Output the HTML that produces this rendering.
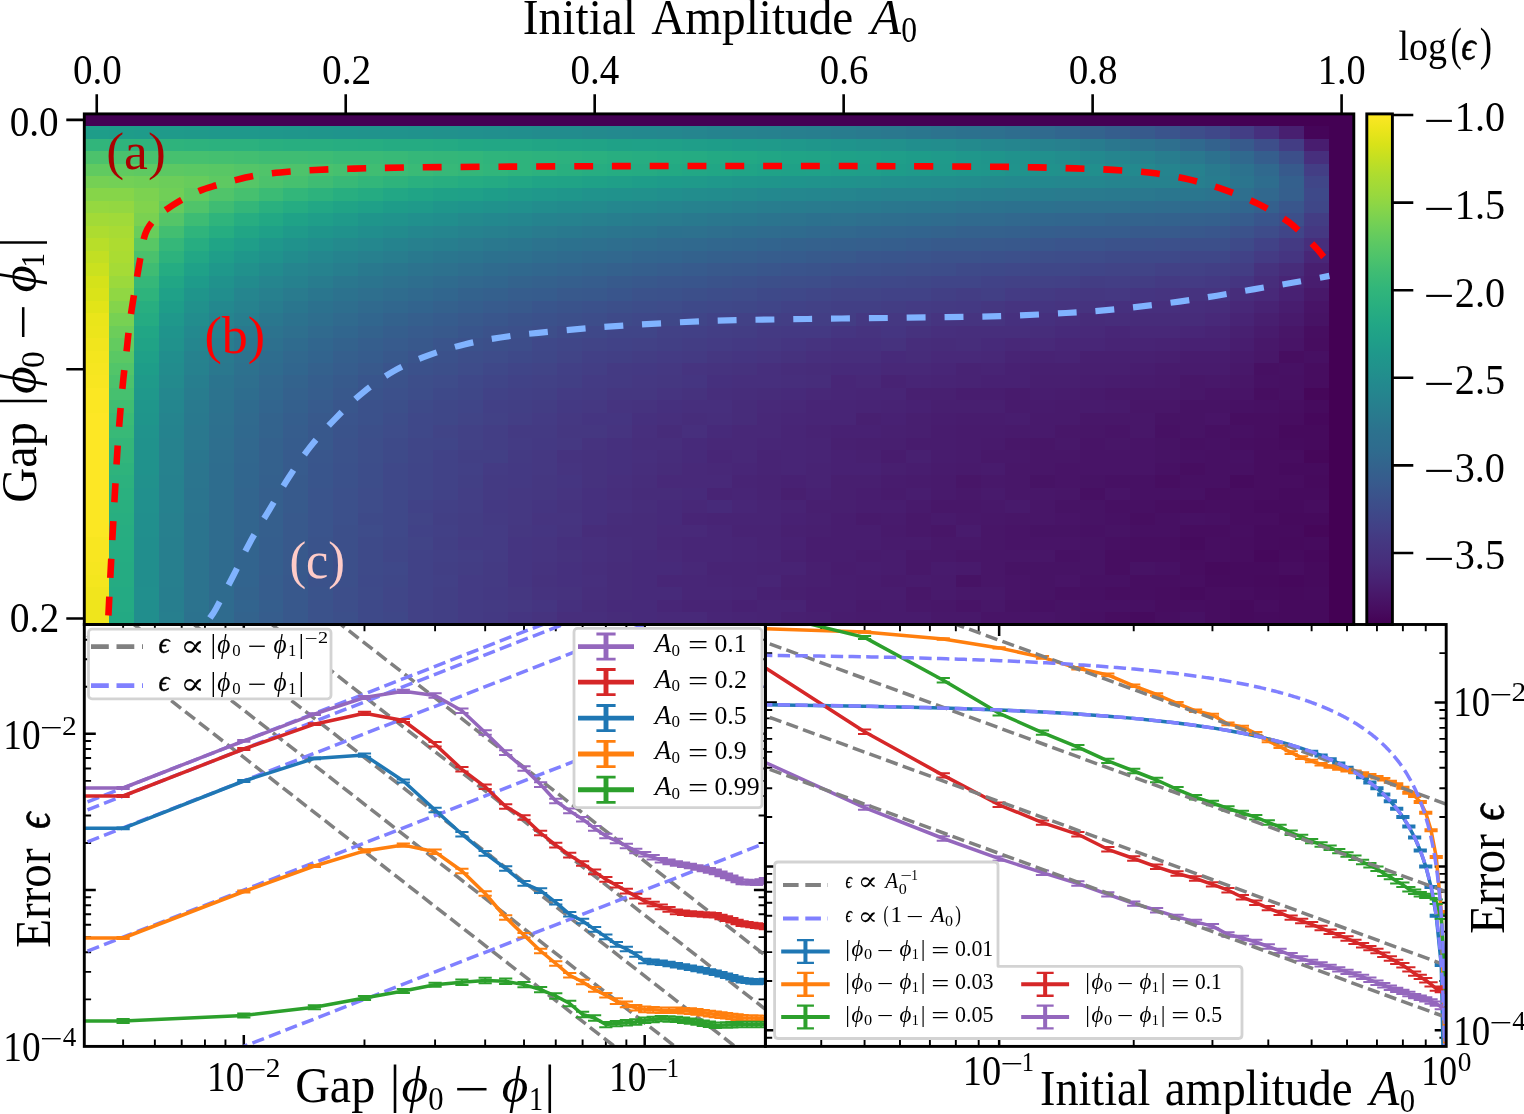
<!DOCTYPE html>
<html lang="en"><head><meta charset="utf-8"><title>Error heatmap figure</title>
<style>html,body{margin:0;padding:0;background:#fff}body{width:1524px;height:1114px;overflow:hidden}svg{display:block}text{font-family:"Liberation Serif","DejaVu Serif",serif;font-kerning:none;font-variant-ligatures:none;white-space:pre}.i{font-style:italic}</style></head><body>
<svg width="1524" height="1114" viewBox="0 0 1524 1114" role="img" aria-label="Error heat map with two log-log panels">
<rect width="1524" height="1114" fill="#fff"/>
<g shape-rendering="crispEdges">
<rect x="84.3" y="113.67" width="1270.35" height="13.07" fill="#440154"/>
<rect x="84.3" y="126.13" width="25.5" height="13.06" fill="#1e9d89"/>
<rect x="109.2" y="126.13" width="25.5" height="13.06" fill="#1e9c89"/>
<rect x="134.1" y="126.13" width="25.5" height="13.06" fill="#1e9b8a"/>
<rect x="158.99" y="126.13" width="25.5" height="13.06" fill="#1f9a8a"/>
<rect x="183.89" y="126.13" width="25.5" height="13.06" fill="#1f998a"/>
<rect x="208.79" y="126.13" width="50.39" height="13.06" fill="#1f988b"/>
<rect x="258.58" y="126.13" width="25.5" height="13.06" fill="#1f978b"/>
<rect x="283.48" y="126.13" width="25.5" height="13.06" fill="#1f968b"/>
<rect x="308.37" y="126.13" width="25.5" height="13.06" fill="#1f958b"/>
<rect x="333.27" y="126.13" width="25.5" height="13.06" fill="#1f948c"/>
<rect x="358.17" y="126.13" width="50.39" height="13.06" fill="#20938c"/>
<rect x="407.96" y="126.13" width="25.5" height="13.06" fill="#20928c"/>
<rect x="432.86" y="126.13" width="25.5" height="13.06" fill="#21918c"/>
<rect x="457.76" y="126.13" width="25.5" height="13.06" fill="#21908d"/>
<rect x="482.65" y="126.13" width="25.5" height="13.06" fill="#218f8d"/>
<rect x="507.55" y="126.13" width="25.5" height="13.06" fill="#218e8d"/>
<rect x="532.45" y="126.13" width="50.39" height="13.06" fill="#228c8d"/>
<rect x="582.24" y="126.13" width="25.5" height="13.06" fill="#238a8d"/>
<rect x="607.14" y="126.13" width="25.5" height="13.06" fill="#23898e"/>
<rect x="632.04" y="126.13" width="25.5" height="13.06" fill="#23888e"/>
<rect x="656.93" y="126.13" width="25.5" height="13.06" fill="#24878e"/>
<rect x="681.83" y="126.13" width="25.5" height="13.06" fill="#25858e"/>
<rect x="706.73" y="126.13" width="25.5" height="13.06" fill="#25838e"/>
<rect x="731.62" y="126.13" width="25.5" height="13.06" fill="#26828e"/>
<rect x="756.52" y="126.13" width="25.5" height="13.06" fill="#26818e"/>
<rect x="781.42" y="126.13" width="25.5" height="13.06" fill="#277f8e"/>
<rect x="806.31" y="126.13" width="25.5" height="13.06" fill="#277e8e"/>
<rect x="831.21" y="126.13" width="25.5" height="13.06" fill="#287c8e"/>
<rect x="856.11" y="126.13" width="25.5" height="13.06" fill="#297a8e"/>
<rect x="881.01" y="126.13" width="25.5" height="13.06" fill="#2a788e"/>
<rect x="905.9" y="126.13" width="25.5" height="13.06" fill="#2a768e"/>
<rect x="930.8" y="126.13" width="25.5" height="13.06" fill="#2c738e"/>
<rect x="955.7" y="126.13" width="25.5" height="13.06" fill="#2c718e"/>
<rect x="980.59" y="126.13" width="25.5" height="13.06" fill="#2d708e"/>
<rect x="1005.49" y="126.13" width="25.5" height="13.06" fill="#2e6d8e"/>
<rect x="1030.39" y="126.13" width="25.5" height="13.06" fill="#306a8e"/>
<rect x="1055.28" y="126.13" width="25.5" height="13.06" fill="#31668e"/>
<rect x="1080.18" y="126.13" width="25.5" height="13.06" fill="#33638d"/>
<rect x="1105.08" y="126.13" width="25.5" height="13.06" fill="#355e8d"/>
<rect x="1129.98" y="126.13" width="25.5" height="13.06" fill="#375a8c"/>
<rect x="1154.87" y="126.13" width="25.5" height="13.06" fill="#3a548c"/>
<rect x="1179.77" y="126.13" width="25.5" height="13.06" fill="#3d4e8a"/>
<rect x="1204.67" y="126.13" width="25.5" height="13.06" fill="#3f4889"/>
<rect x="1229.56" y="126.13" width="25.5" height="13.06" fill="#433e85"/>
<rect x="1254.46" y="126.13" width="25.5" height="13.06" fill="#46307e"/>
<rect x="1279.36" y="126.13" width="25.5" height="13.06" fill="#481f70"/>
<rect x="1304.25" y="126.13" width="25.5" height="13.06" fill="#450559"/>
<rect x="1329.15" y="126.13" width="25.5" height="13.06" fill="#440154"/>
<rect x="84.3" y="138.6" width="25.5" height="13.07" fill="#31b57b"/>
<rect x="109.2" y="138.6" width="50.39" height="13.07" fill="#2fb47c"/>
<rect x="158.99" y="138.6" width="25.5" height="13.07" fill="#2eb37c"/>
<rect x="183.89" y="138.6" width="25.5" height="13.07" fill="#2db27d"/>
<rect x="208.79" y="138.6" width="50.39" height="13.07" fill="#2cb17e"/>
<rect x="258.58" y="138.6" width="25.5" height="13.07" fill="#29af7f"/>
<rect x="283.48" y="138.6" width="50.39" height="13.07" fill="#28ae80"/>
<rect x="333.27" y="138.6" width="25.5" height="13.07" fill="#27ad81"/>
<rect x="358.17" y="138.6" width="25.5" height="13.07" fill="#26ad81"/>
<rect x="383.07" y="138.6" width="50.39" height="13.07" fill="#25ab82"/>
<rect x="432.86" y="138.6" width="25.5" height="13.07" fill="#24aa83"/>
<rect x="457.76" y="138.6" width="25.5" height="13.07" fill="#22a884"/>
<rect x="482.65" y="138.6" width="50.39" height="13.07" fill="#22a785"/>
<rect x="532.45" y="138.6" width="25.5" height="13.07" fill="#21a585"/>
<rect x="557.34" y="138.6" width="25.5" height="13.07" fill="#20a486"/>
<rect x="582.24" y="138.6" width="25.5" height="13.07" fill="#20a386"/>
<rect x="607.14" y="138.6" width="25.5" height="13.07" fill="#1fa187"/>
<rect x="632.04" y="138.6" width="25.5" height="13.07" fill="#1fa188"/>
<rect x="656.93" y="138.6" width="25.5" height="13.07" fill="#1fa088"/>
<rect x="681.83" y="138.6" width="25.5" height="13.07" fill="#1f9e89"/>
<rect x="706.73" y="138.6" width="25.5" height="13.07" fill="#1e9d89"/>
<rect x="731.62" y="138.6" width="25.5" height="13.07" fill="#1e9b8a"/>
<rect x="756.52" y="138.6" width="25.5" height="13.07" fill="#1f9a8a"/>
<rect x="781.42" y="138.6" width="25.5" height="13.07" fill="#1f988b"/>
<rect x="806.31" y="138.6" width="25.5" height="13.07" fill="#1f968b"/>
<rect x="831.21" y="138.6" width="25.5" height="13.07" fill="#1f948c"/>
<rect x="856.11" y="138.6" width="25.5" height="13.07" fill="#20928c"/>
<rect x="881.01" y="138.6" width="25.5" height="13.07" fill="#21918c"/>
<rect x="905.9" y="138.6" width="25.5" height="13.07" fill="#218e8d"/>
<rect x="930.8" y="138.6" width="25.5" height="13.07" fill="#228d8d"/>
<rect x="955.7" y="138.6" width="25.5" height="13.07" fill="#238a8d"/>
<rect x="980.59" y="138.6" width="25.5" height="13.07" fill="#24878e"/>
<rect x="1005.49" y="138.6" width="25.5" height="13.07" fill="#25858e"/>
<rect x="1030.39" y="138.6" width="25.5" height="13.07" fill="#26828e"/>
<rect x="1055.28" y="138.6" width="25.5" height="13.07" fill="#27808e"/>
<rect x="1080.18" y="138.6" width="25.5" height="13.07" fill="#287c8e"/>
<rect x="1105.08" y="138.6" width="25.5" height="13.07" fill="#2a778e"/>
<rect x="1129.98" y="138.6" width="25.5" height="13.07" fill="#2c738e"/>
<rect x="1154.87" y="138.6" width="25.5" height="13.07" fill="#2e6f8e"/>
<rect x="1179.77" y="138.6" width="25.5" height="13.07" fill="#30698e"/>
<rect x="1204.67" y="138.6" width="25.5" height="13.07" fill="#33628d"/>
<rect x="1229.56" y="138.6" width="25.5" height="13.07" fill="#375a8c"/>
<rect x="1254.46" y="138.6" width="25.5" height="13.07" fill="#3d4e8a"/>
<rect x="1279.36" y="138.6" width="25.5" height="13.07" fill="#433d84"/>
<rect x="1304.25" y="138.6" width="25.5" height="13.07" fill="#481d6f"/>
<rect x="1329.15" y="138.6" width="25.5" height="13.07" fill="#440154"/>
<rect x="84.3" y="151.06" width="25.5" height="13.07" fill="#4cc26c"/>
<rect x="109.2" y="151.06" width="25.5" height="13.07" fill="#4ac16d"/>
<rect x="134.1" y="151.06" width="25.5" height="13.07" fill="#48c16e"/>
<rect x="158.99" y="151.06" width="50.39" height="13.07" fill="#46c06f"/>
<rect x="208.79" y="151.06" width="25.5" height="13.07" fill="#44bf70"/>
<rect x="233.68" y="151.06" width="25.5" height="13.07" fill="#42be71"/>
<rect x="258.58" y="151.06" width="50.39" height="13.07" fill="#3fbc73"/>
<rect x="308.37" y="151.06" width="25.5" height="13.07" fill="#3dbc74"/>
<rect x="333.27" y="151.06" width="50.39" height="13.07" fill="#3aba76"/>
<rect x="383.07" y="151.06" width="25.5" height="13.07" fill="#38b977"/>
<rect x="407.96" y="151.06" width="25.5" height="13.07" fill="#35b779"/>
<rect x="432.86" y="151.06" width="25.5" height="13.07" fill="#34b679"/>
<rect x="457.76" y="151.06" width="25.5" height="13.07" fill="#32b67a"/>
<rect x="482.65" y="151.06" width="25.5" height="13.07" fill="#2fb47c"/>
<rect x="507.55" y="151.06" width="25.5" height="13.07" fill="#2eb37c"/>
<rect x="532.45" y="151.06" width="25.5" height="13.07" fill="#2db27d"/>
<rect x="557.34" y="151.06" width="25.5" height="13.07" fill="#2cb17e"/>
<rect x="582.24" y="151.06" width="25.5" height="13.07" fill="#2ab07f"/>
<rect x="607.14" y="151.06" width="25.5" height="13.07" fill="#28ae80"/>
<rect x="632.04" y="151.06" width="25.5" height="13.07" fill="#27ad81"/>
<rect x="656.93" y="151.06" width="25.5" height="13.07" fill="#25ac82"/>
<rect x="681.83" y="151.06" width="25.5" height="13.07" fill="#25ab82"/>
<rect x="706.73" y="151.06" width="25.5" height="13.07" fill="#23a983"/>
<rect x="731.62" y="151.06" width="25.5" height="13.07" fill="#22a884"/>
<rect x="756.52" y="151.06" width="25.5" height="13.07" fill="#21a685"/>
<rect x="781.42" y="151.06" width="25.5" height="13.07" fill="#20a486"/>
<rect x="806.31" y="151.06" width="25.5" height="13.07" fill="#20a386"/>
<rect x="831.21" y="151.06" width="25.5" height="13.07" fill="#1fa187"/>
<rect x="856.11" y="151.06" width="25.5" height="13.07" fill="#1fa088"/>
<rect x="881.01" y="151.06" width="25.5" height="13.07" fill="#1f9e89"/>
<rect x="905.9" y="151.06" width="25.5" height="13.07" fill="#1e9c89"/>
<rect x="930.8" y="151.06" width="25.5" height="13.07" fill="#1f9a8a"/>
<rect x="955.7" y="151.06" width="25.5" height="13.07" fill="#1f978b"/>
<rect x="980.59" y="151.06" width="25.5" height="13.07" fill="#1f958b"/>
<rect x="1005.49" y="151.06" width="25.5" height="13.07" fill="#20928c"/>
<rect x="1030.39" y="151.06" width="25.5" height="13.07" fill="#21908d"/>
<rect x="1055.28" y="151.06" width="25.5" height="13.07" fill="#228d8d"/>
<rect x="1080.18" y="151.06" width="25.5" height="13.07" fill="#23898e"/>
<rect x="1105.08" y="151.06" width="25.5" height="13.07" fill="#25858e"/>
<rect x="1129.98" y="151.06" width="25.5" height="13.07" fill="#26828e"/>
<rect x="1154.87" y="151.06" width="25.5" height="13.07" fill="#287d8e"/>
<rect x="1179.77" y="151.06" width="25.5" height="13.07" fill="#2a788e"/>
<rect x="1204.67" y="151.06" width="25.5" height="13.07" fill="#2c718e"/>
<rect x="1229.56" y="151.06" width="25.5" height="13.07" fill="#30698e"/>
<rect x="1254.46" y="151.06" width="25.5" height="13.07" fill="#355e8d"/>
<rect x="1279.36" y="151.06" width="25.5" height="13.07" fill="#3c4f8a"/>
<rect x="1304.25" y="151.06" width="25.5" height="13.07" fill="#472f7d"/>
<rect x="1329.15" y="151.06" width="25.5" height="13.07" fill="#440154"/>
<rect x="84.3" y="163.53" width="50.39" height="13.07" fill="#60ca60"/>
<rect x="134.1" y="163.53" width="25.5" height="13.07" fill="#5ec962"/>
<rect x="158.99" y="163.53" width="25.5" height="13.07" fill="#5cc863"/>
<rect x="183.89" y="163.53" width="25.5" height="13.07" fill="#5ac864"/>
<rect x="208.79" y="163.53" width="25.5" height="13.07" fill="#58c765"/>
<rect x="233.68" y="163.53" width="25.5" height="13.07" fill="#54c568"/>
<rect x="258.58" y="163.53" width="25.5" height="13.07" fill="#50c46a"/>
<rect x="283.48" y="163.53" width="25.5" height="13.07" fill="#4ec36b"/>
<rect x="308.37" y="163.53" width="25.5" height="13.07" fill="#4ac16d"/>
<rect x="333.27" y="163.53" width="25.5" height="13.07" fill="#46c06f"/>
<rect x="358.17" y="163.53" width="25.5" height="13.07" fill="#40bd72"/>
<rect x="383.07" y="163.53" width="25.5" height="13.07" fill="#3dbc74"/>
<rect x="407.96" y="163.53" width="25.5" height="13.07" fill="#3aba76"/>
<rect x="432.86" y="163.53" width="25.5" height="13.07" fill="#37b878"/>
<rect x="457.76" y="163.53" width="25.5" height="13.07" fill="#34b679"/>
<rect x="482.65" y="163.53" width="25.5" height="13.07" fill="#31b57b"/>
<rect x="507.55" y="163.53" width="25.5" height="13.07" fill="#2eb37c"/>
<rect x="532.45" y="163.53" width="25.5" height="13.07" fill="#2cb17e"/>
<rect x="557.34" y="163.53" width="25.5" height="13.07" fill="#29af7f"/>
<rect x="582.24" y="163.53" width="25.5" height="13.07" fill="#27ad81"/>
<rect x="607.14" y="163.53" width="25.5" height="13.07" fill="#25ac82"/>
<rect x="632.04" y="163.53" width="25.5" height="13.07" fill="#25ab82"/>
<rect x="656.93" y="163.53" width="25.5" height="13.07" fill="#23a983"/>
<rect x="681.83" y="163.53" width="25.5" height="13.07" fill="#22a785"/>
<rect x="706.73" y="163.53" width="25.5" height="13.07" fill="#21a685"/>
<rect x="731.62" y="163.53" width="25.5" height="13.07" fill="#20a486"/>
<rect x="756.52" y="163.53" width="25.5" height="13.07" fill="#1fa287"/>
<rect x="781.42" y="163.53" width="25.5" height="13.07" fill="#1fa187"/>
<rect x="806.31" y="163.53" width="25.5" height="13.07" fill="#1fa188"/>
<rect x="831.21" y="163.53" width="25.5" height="13.07" fill="#1f9f88"/>
<rect x="856.11" y="163.53" width="25.5" height="13.07" fill="#1f9e89"/>
<rect x="881.01" y="163.53" width="25.5" height="13.07" fill="#1e9c89"/>
<rect x="905.9" y="163.53" width="25.5" height="13.07" fill="#1f9a8a"/>
<rect x="930.8" y="163.53" width="25.5" height="13.07" fill="#1f998a"/>
<rect x="955.7" y="163.53" width="25.5" height="13.07" fill="#1f978b"/>
<rect x="980.59" y="163.53" width="25.5" height="13.07" fill="#1f968b"/>
<rect x="1005.49" y="163.53" width="25.5" height="13.07" fill="#20938c"/>
<rect x="1030.39" y="163.53" width="25.5" height="13.07" fill="#20928c"/>
<rect x="1055.28" y="163.53" width="25.5" height="13.07" fill="#21918c"/>
<rect x="1080.18" y="163.53" width="25.5" height="13.07" fill="#218f8d"/>
<rect x="1105.08" y="163.53" width="25.5" height="13.07" fill="#228b8d"/>
<rect x="1129.98" y="163.53" width="25.5" height="13.07" fill="#23898e"/>
<rect x="1154.87" y="163.53" width="25.5" height="13.07" fill="#25848e"/>
<rect x="1179.77" y="163.53" width="25.5" height="13.07" fill="#26818e"/>
<rect x="1204.67" y="163.53" width="25.5" height="13.07" fill="#297a8e"/>
<rect x="1229.56" y="163.53" width="25.5" height="13.07" fill="#2c728e"/>
<rect x="1254.46" y="163.53" width="25.5" height="13.07" fill="#30698e"/>
<rect x="1279.36" y="163.53" width="25.5" height="13.07" fill="#375a8c"/>
<rect x="1304.25" y="163.53" width="25.5" height="13.07" fill="#433e85"/>
<rect x="1329.15" y="163.53" width="25.5" height="13.07" fill="#440154"/>
<rect x="84.3" y="175.99" width="25.5" height="13.07" fill="#75d054"/>
<rect x="109.2" y="175.99" width="25.5" height="13.07" fill="#73d056"/>
<rect x="134.1" y="175.99" width="25.5" height="13.07" fill="#70cf57"/>
<rect x="158.99" y="175.99" width="25.5" height="13.07" fill="#6ccd5a"/>
<rect x="183.89" y="175.99" width="25.5" height="13.07" fill="#67cc5c"/>
<rect x="208.79" y="175.99" width="25.5" height="13.07" fill="#5ec962"/>
<rect x="233.68" y="175.99" width="25.5" height="13.07" fill="#56c667"/>
<rect x="258.58" y="175.99" width="25.5" height="13.07" fill="#4cc26c"/>
<rect x="283.48" y="175.99" width="25.5" height="13.07" fill="#46c06f"/>
<rect x="308.37" y="175.99" width="25.5" height="13.07" fill="#3fbc73"/>
<rect x="333.27" y="175.99" width="25.5" height="13.07" fill="#38b977"/>
<rect x="358.17" y="175.99" width="25.5" height="13.07" fill="#32b67a"/>
<rect x="383.07" y="175.99" width="25.5" height="13.07" fill="#2eb37c"/>
<rect x="407.96" y="175.99" width="25.5" height="13.07" fill="#2ab07f"/>
<rect x="432.86" y="175.99" width="25.5" height="13.07" fill="#28ae80"/>
<rect x="457.76" y="175.99" width="25.5" height="13.07" fill="#25ac82"/>
<rect x="482.65" y="175.99" width="25.5" height="13.07" fill="#24aa83"/>
<rect x="507.55" y="175.99" width="25.5" height="13.07" fill="#22a785"/>
<rect x="532.45" y="175.99" width="25.5" height="13.07" fill="#20a486"/>
<rect x="557.34" y="175.99" width="25.5" height="13.07" fill="#20a386"/>
<rect x="582.24" y="175.99" width="25.5" height="13.07" fill="#1fa187"/>
<rect x="607.14" y="175.99" width="25.5" height="13.07" fill="#1f9f88"/>
<rect x="632.04" y="175.99" width="25.5" height="13.07" fill="#1e9d89"/>
<rect x="656.93" y="175.99" width="25.5" height="13.07" fill="#1e9b8a"/>
<rect x="681.83" y="175.99" width="25.5" height="13.07" fill="#1f9a8a"/>
<rect x="706.73" y="175.99" width="25.5" height="13.07" fill="#1f988b"/>
<rect x="731.62" y="175.99" width="25.5" height="13.07" fill="#1f968b"/>
<rect x="756.52" y="175.99" width="25.5" height="13.07" fill="#1f958b"/>
<rect x="781.42" y="175.99" width="25.5" height="13.07" fill="#1f948c"/>
<rect x="806.31" y="175.99" width="25.5" height="13.07" fill="#20938c"/>
<rect x="831.21" y="175.99" width="25.5" height="13.07" fill="#20928c"/>
<rect x="856.11" y="175.99" width="25.5" height="13.07" fill="#21918c"/>
<rect x="881.01" y="175.99" width="25.5" height="13.07" fill="#218f8d"/>
<rect x="905.9" y="175.99" width="25.5" height="13.07" fill="#218e8d"/>
<rect x="930.8" y="175.99" width="25.5" height="13.07" fill="#228d8d"/>
<rect x="955.7" y="175.99" width="25.5" height="13.07" fill="#228c8d"/>
<rect x="980.59" y="175.99" width="25.5" height="13.07" fill="#238a8d"/>
<rect x="1005.49" y="175.99" width="25.5" height="13.07" fill="#23898e"/>
<rect x="1030.39" y="175.99" width="25.5" height="13.07" fill="#23888e"/>
<rect x="1055.28" y="175.99" width="25.5" height="13.07" fill="#24878e"/>
<rect x="1080.18" y="175.99" width="25.5" height="13.07" fill="#24868e"/>
<rect x="1105.08" y="175.99" width="25.5" height="13.07" fill="#25848e"/>
<rect x="1129.98" y="175.99" width="50.39" height="13.07" fill="#26828e"/>
<rect x="1179.77" y="175.99" width="25.5" height="13.07" fill="#277f8e"/>
<rect x="1204.67" y="175.99" width="25.5" height="13.07" fill="#287c8e"/>
<rect x="1229.56" y="175.99" width="25.5" height="13.07" fill="#2b758e"/>
<rect x="1254.46" y="175.99" width="25.5" height="13.07" fill="#2e6d8e"/>
<rect x="1279.36" y="175.99" width="25.5" height="13.07" fill="#34608d"/>
<rect x="1304.25" y="175.99" width="25.5" height="13.07" fill="#404688"/>
<rect x="1329.15" y="175.99" width="25.5" height="13.07" fill="#440154"/>
<rect x="84.3" y="188.46" width="50.39" height="13.07" fill="#86d549"/>
<rect x="134.1" y="188.46" width="25.5" height="13.07" fill="#7cd250"/>
<rect x="158.99" y="188.46" width="25.5" height="13.07" fill="#70cf57"/>
<rect x="183.89" y="188.46" width="25.5" height="13.07" fill="#60ca60"/>
<rect x="208.79" y="188.46" width="25.5" height="13.07" fill="#50c46a"/>
<rect x="233.68" y="188.46" width="25.5" height="13.07" fill="#46c06f"/>
<rect x="258.58" y="188.46" width="25.5" height="13.07" fill="#3bbb75"/>
<rect x="283.48" y="188.46" width="25.5" height="13.07" fill="#32b67a"/>
<rect x="308.37" y="188.46" width="25.5" height="13.07" fill="#2db27d"/>
<rect x="333.27" y="188.46" width="25.5" height="13.07" fill="#28ae80"/>
<rect x="358.17" y="188.46" width="25.5" height="13.07" fill="#25ab82"/>
<rect x="383.07" y="188.46" width="25.5" height="13.07" fill="#22a785"/>
<rect x="407.96" y="188.46" width="25.5" height="13.07" fill="#20a486"/>
<rect x="432.86" y="188.46" width="25.5" height="13.07" fill="#1fa187"/>
<rect x="457.76" y="188.46" width="25.5" height="13.07" fill="#1fa088"/>
<rect x="482.65" y="188.46" width="25.5" height="13.07" fill="#1e9d89"/>
<rect x="507.55" y="188.46" width="25.5" height="13.07" fill="#1f9a8a"/>
<rect x="532.45" y="188.46" width="25.5" height="13.07" fill="#1f988b"/>
<rect x="557.34" y="188.46" width="25.5" height="13.07" fill="#1f968b"/>
<rect x="582.24" y="188.46" width="25.5" height="13.07" fill="#20938c"/>
<rect x="607.14" y="188.46" width="25.5" height="13.07" fill="#20928c"/>
<rect x="632.04" y="188.46" width="25.5" height="13.07" fill="#21918c"/>
<rect x="656.93" y="188.46" width="25.5" height="13.07" fill="#218f8d"/>
<rect x="681.83" y="188.46" width="25.5" height="13.07" fill="#228d8d"/>
<rect x="706.73" y="188.46" width="25.5" height="13.07" fill="#228c8d"/>
<rect x="731.62" y="188.46" width="25.5" height="13.07" fill="#238a8d"/>
<rect x="756.52" y="188.46" width="25.5" height="13.07" fill="#23888e"/>
<rect x="781.42" y="188.46" width="25.5" height="13.07" fill="#24878e"/>
<rect x="806.31" y="188.46" width="25.5" height="13.07" fill="#24868e"/>
<rect x="831.21" y="188.46" width="25.5" height="13.07" fill="#25858e"/>
<rect x="856.11" y="188.46" width="25.5" height="13.07" fill="#25838e"/>
<rect x="881.01" y="188.46" width="50.39" height="13.07" fill="#26828e"/>
<rect x="930.8" y="188.46" width="25.5" height="13.07" fill="#26818e"/>
<rect x="955.7" y="188.46" width="25.5" height="13.07" fill="#277f8e"/>
<rect x="980.59" y="188.46" width="25.5" height="13.07" fill="#277e8e"/>
<rect x="1005.49" y="188.46" width="25.5" height="13.07" fill="#287d8e"/>
<rect x="1030.39" y="188.46" width="25.5" height="13.07" fill="#287c8e"/>
<rect x="1055.28" y="188.46" width="25.5" height="13.07" fill="#297b8e"/>
<rect x="1080.18" y="188.46" width="25.5" height="13.07" fill="#297a8e"/>
<rect x="1105.08" y="188.46" width="25.5" height="13.07" fill="#29798e"/>
<rect x="1129.98" y="188.46" width="25.5" height="13.07" fill="#2a788e"/>
<rect x="1154.87" y="188.46" width="50.39" height="13.07" fill="#2a768e"/>
<rect x="1204.67" y="188.46" width="25.5" height="13.07" fill="#2b748e"/>
<rect x="1229.56" y="188.46" width="25.5" height="13.07" fill="#2e6f8e"/>
<rect x="1254.46" y="188.46" width="25.5" height="13.07" fill="#31688e"/>
<rect x="1279.36" y="188.46" width="25.5" height="13.07" fill="#355f8d"/>
<rect x="1304.25" y="188.46" width="25.5" height="13.07" fill="#3e4989"/>
<rect x="1329.15" y="188.46" width="25.5" height="13.07" fill="#440154"/>
<rect x="84.3" y="200.92" width="25.5" height="13.07" fill="#95d840"/>
<rect x="109.2" y="200.92" width="25.5" height="13.07" fill="#93d741"/>
<rect x="134.1" y="200.92" width="25.5" height="13.07" fill="#81d34d"/>
<rect x="158.99" y="200.92" width="25.5" height="13.07" fill="#65cb5e"/>
<rect x="183.89" y="200.92" width="25.5" height="13.07" fill="#50c46a"/>
<rect x="208.79" y="200.92" width="25.5" height="13.07" fill="#3fbc73"/>
<rect x="233.68" y="200.92" width="25.5" height="13.07" fill="#34b679"/>
<rect x="258.58" y="200.92" width="25.5" height="13.07" fill="#2ab07f"/>
<rect x="283.48" y="200.92" width="25.5" height="13.07" fill="#25ac82"/>
<rect x="308.37" y="200.92" width="25.5" height="13.07" fill="#22a785"/>
<rect x="333.27" y="200.92" width="25.5" height="13.07" fill="#20a386"/>
<rect x="358.17" y="200.92" width="25.5" height="13.07" fill="#1fa088"/>
<rect x="383.07" y="200.92" width="25.5" height="13.07" fill="#1e9c89"/>
<rect x="407.96" y="200.92" width="25.5" height="13.07" fill="#1f9a8a"/>
<rect x="432.86" y="200.92" width="25.5" height="13.07" fill="#1f968b"/>
<rect x="457.76" y="200.92" width="25.5" height="13.07" fill="#1f948c"/>
<rect x="482.65" y="200.92" width="25.5" height="13.07" fill="#20928c"/>
<rect x="507.55" y="200.92" width="25.5" height="13.07" fill="#21908d"/>
<rect x="532.45" y="200.92" width="25.5" height="13.07" fill="#228d8d"/>
<rect x="557.34" y="200.92" width="25.5" height="13.07" fill="#228b8d"/>
<rect x="582.24" y="200.92" width="25.5" height="13.07" fill="#238a8d"/>
<rect x="607.14" y="200.92" width="25.5" height="13.07" fill="#24878e"/>
<rect x="632.04" y="200.92" width="25.5" height="13.07" fill="#24868e"/>
<rect x="656.93" y="200.92" width="25.5" height="13.07" fill="#25848e"/>
<rect x="681.83" y="200.92" width="25.5" height="13.07" fill="#26828e"/>
<rect x="706.73" y="200.92" width="25.5" height="13.07" fill="#26818e"/>
<rect x="731.62" y="200.92" width="25.5" height="13.07" fill="#277f8e"/>
<rect x="756.52" y="200.92" width="25.5" height="13.07" fill="#287d8e"/>
<rect x="781.42" y="200.92" width="25.5" height="13.07" fill="#287c8e"/>
<rect x="806.31" y="200.92" width="25.5" height="13.07" fill="#297b8e"/>
<rect x="831.21" y="200.92" width="25.5" height="13.07" fill="#297a8e"/>
<rect x="856.11" y="200.92" width="25.5" height="13.07" fill="#29798e"/>
<rect x="881.01" y="200.92" width="25.5" height="13.07" fill="#2a778e"/>
<rect x="905.9" y="200.92" width="25.5" height="13.07" fill="#2a768e"/>
<rect x="930.8" y="200.92" width="25.5" height="13.07" fill="#2b758e"/>
<rect x="955.7" y="200.92" width="25.5" height="13.07" fill="#2c738e"/>
<rect x="980.59" y="200.92" width="25.5" height="13.07" fill="#2c728e"/>
<rect x="1005.49" y="200.92" width="50.39" height="13.07" fill="#2c718e"/>
<rect x="1055.28" y="200.92" width="25.5" height="13.07" fill="#2d708e"/>
<rect x="1080.18" y="200.92" width="50.39" height="13.07" fill="#2e6f8e"/>
<rect x="1129.98" y="200.92" width="25.5" height="13.07" fill="#2e6d8e"/>
<rect x="1154.87" y="200.92" width="25.5" height="13.07" fill="#2f6c8e"/>
<rect x="1179.77" y="200.92" width="25.5" height="13.07" fill="#2f6b8e"/>
<rect x="1204.67" y="200.92" width="25.5" height="13.07" fill="#306a8e"/>
<rect x="1229.56" y="200.92" width="25.5" height="13.07" fill="#31668e"/>
<rect x="1254.46" y="200.92" width="25.5" height="13.07" fill="#34608d"/>
<rect x="1279.36" y="200.92" width="25.5" height="13.07" fill="#39568c"/>
<rect x="1304.25" y="200.92" width="25.5" height="13.07" fill="#3f4788"/>
<rect x="1329.15" y="200.92" width="25.5" height="13.07" fill="#440154"/>
<rect x="84.3" y="213.39" width="25.5" height="13.07" fill="#a2da37"/>
<rect x="109.2" y="213.39" width="25.5" height="13.07" fill="#a0da39"/>
<rect x="134.1" y="213.39" width="25.5" height="13.07" fill="#7ad151"/>
<rect x="158.99" y="213.39" width="25.5" height="13.07" fill="#54c568"/>
<rect x="183.89" y="213.39" width="25.5" height="13.07" fill="#3dbc74"/>
<rect x="208.79" y="213.39" width="25.5" height="13.07" fill="#2fb47c"/>
<rect x="233.68" y="213.39" width="25.5" height="13.07" fill="#27ad81"/>
<rect x="258.58" y="213.39" width="25.5" height="13.07" fill="#22a884"/>
<rect x="283.48" y="213.39" width="25.5" height="13.07" fill="#1fa287"/>
<rect x="308.37" y="213.39" width="25.5" height="13.07" fill="#1f9e89"/>
<rect x="333.27" y="213.39" width="25.5" height="13.07" fill="#1f9a8a"/>
<rect x="358.17" y="213.39" width="25.5" height="13.07" fill="#1f958b"/>
<rect x="383.07" y="213.39" width="25.5" height="13.07" fill="#20938c"/>
<rect x="407.96" y="213.39" width="25.5" height="13.07" fill="#21908d"/>
<rect x="432.86" y="213.39" width="25.5" height="13.07" fill="#218e8d"/>
<rect x="457.76" y="213.39" width="25.5" height="13.07" fill="#238a8d"/>
<rect x="482.65" y="213.39" width="25.5" height="13.07" fill="#23888e"/>
<rect x="507.55" y="213.39" width="25.5" height="13.07" fill="#24868e"/>
<rect x="532.45" y="213.39" width="25.5" height="13.07" fill="#25838e"/>
<rect x="557.34" y="213.39" width="25.5" height="13.07" fill="#26828e"/>
<rect x="582.24" y="213.39" width="25.5" height="13.07" fill="#27808e"/>
<rect x="607.14" y="213.39" width="25.5" height="13.07" fill="#277e8e"/>
<rect x="632.04" y="213.39" width="25.5" height="13.07" fill="#287c8e"/>
<rect x="656.93" y="213.39" width="25.5" height="13.07" fill="#297b8e"/>
<rect x="681.83" y="213.39" width="25.5" height="13.07" fill="#29798e"/>
<rect x="706.73" y="213.39" width="25.5" height="13.07" fill="#2a778e"/>
<rect x="731.62" y="213.39" width="25.5" height="13.07" fill="#2a768e"/>
<rect x="756.52" y="213.39" width="25.5" height="13.07" fill="#2b748e"/>
<rect x="781.42" y="213.39" width="25.5" height="13.07" fill="#2c738e"/>
<rect x="806.31" y="213.39" width="25.5" height="13.07" fill="#2c718e"/>
<rect x="831.21" y="213.39" width="25.5" height="13.07" fill="#2d718e"/>
<rect x="856.11" y="213.39" width="25.5" height="13.07" fill="#2e6f8e"/>
<rect x="881.01" y="213.39" width="25.5" height="13.07" fill="#2e6e8e"/>
<rect x="905.9" y="213.39" width="25.5" height="13.07" fill="#2e6d8e"/>
<rect x="930.8" y="213.39" width="25.5" height="13.07" fill="#2f6c8e"/>
<rect x="955.7" y="213.39" width="50.39" height="13.07" fill="#306a8e"/>
<rect x="1005.49" y="213.39" width="25.5" height="13.07" fill="#31688e"/>
<rect x="1030.39" y="213.39" width="25.5" height="13.07" fill="#31678e"/>
<rect x="1055.28" y="213.39" width="25.5" height="13.07" fill="#31668e"/>
<rect x="1080.18" y="213.39" width="25.5" height="13.07" fill="#32658e"/>
<rect x="1105.08" y="213.39" width="50.39" height="13.07" fill="#33638d"/>
<rect x="1154.87" y="213.39" width="25.5" height="13.07" fill="#33628d"/>
<rect x="1179.77" y="213.39" width="25.5" height="13.07" fill="#34618d"/>
<rect x="1204.67" y="213.39" width="25.5" height="13.07" fill="#34608d"/>
<rect x="1229.56" y="213.39" width="25.5" height="13.07" fill="#365c8d"/>
<rect x="1254.46" y="213.39" width="25.5" height="13.07" fill="#39558c"/>
<rect x="1279.36" y="213.39" width="25.5" height="13.07" fill="#3c4f8a"/>
<rect x="1304.25" y="213.39" width="25.5" height="13.07" fill="#433d84"/>
<rect x="1329.15" y="213.39" width="25.5" height="13.07" fill="#440154"/>
<rect x="84.3" y="225.85" width="25.5" height="13.07" fill="#addc30"/>
<rect x="109.2" y="225.85" width="25.5" height="13.07" fill="#a8db34"/>
<rect x="134.1" y="225.85" width="25.5" height="13.07" fill="#69cd5b"/>
<rect x="158.99" y="225.85" width="25.5" height="13.07" fill="#42be71"/>
<rect x="183.89" y="225.85" width="25.5" height="13.07" fill="#2fb47c"/>
<rect x="208.79" y="225.85" width="25.5" height="13.07" fill="#26ad81"/>
<rect x="233.68" y="225.85" width="25.5" height="13.07" fill="#21a585"/>
<rect x="258.58" y="225.85" width="25.5" height="13.07" fill="#1fa088"/>
<rect x="283.48" y="225.85" width="25.5" height="13.07" fill="#1f9a8a"/>
<rect x="308.37" y="225.85" width="25.5" height="13.07" fill="#1f958b"/>
<rect x="333.27" y="225.85" width="25.5" height="13.07" fill="#20928c"/>
<rect x="358.17" y="225.85" width="25.5" height="13.07" fill="#218e8d"/>
<rect x="383.07" y="225.85" width="25.5" height="13.07" fill="#228b8d"/>
<rect x="407.96" y="225.85" width="25.5" height="13.07" fill="#24878e"/>
<rect x="432.86" y="225.85" width="25.5" height="13.07" fill="#25858e"/>
<rect x="457.76" y="225.85" width="25.5" height="13.07" fill="#26828e"/>
<rect x="482.65" y="225.85" width="25.5" height="13.07" fill="#27808e"/>
<rect x="507.55" y="225.85" width="25.5" height="13.07" fill="#277e8e"/>
<rect x="532.45" y="225.85" width="25.5" height="13.07" fill="#297b8e"/>
<rect x="557.34" y="225.85" width="25.5" height="13.07" fill="#29798e"/>
<rect x="582.24" y="225.85" width="25.5" height="13.07" fill="#2a778e"/>
<rect x="607.14" y="225.85" width="25.5" height="13.07" fill="#2b758e"/>
<rect x="632.04" y="225.85" width="25.5" height="13.07" fill="#2b748e"/>
<rect x="656.93" y="225.85" width="25.5" height="13.07" fill="#2c718e"/>
<rect x="681.83" y="225.85" width="25.5" height="13.07" fill="#2d718e"/>
<rect x="706.73" y="225.85" width="25.5" height="13.07" fill="#2e6f8e"/>
<rect x="731.62" y="225.85" width="25.5" height="13.07" fill="#2e6d8e"/>
<rect x="756.52" y="225.85" width="25.5" height="13.07" fill="#2f6c8e"/>
<rect x="781.42" y="225.85" width="25.5" height="13.07" fill="#2f6b8e"/>
<rect x="806.31" y="225.85" width="25.5" height="13.07" fill="#30698e"/>
<rect x="831.21" y="225.85" width="25.5" height="13.07" fill="#31688e"/>
<rect x="856.11" y="225.85" width="25.5" height="13.07" fill="#31668e"/>
<rect x="881.01" y="225.85" width="25.5" height="13.07" fill="#32658e"/>
<rect x="905.9" y="225.85" width="25.5" height="13.07" fill="#32648e"/>
<rect x="930.8" y="225.85" width="25.5" height="13.07" fill="#33638d"/>
<rect x="955.7" y="225.85" width="50.39" height="13.07" fill="#34618d"/>
<rect x="1005.49" y="225.85" width="25.5" height="13.07" fill="#34608d"/>
<rect x="1030.39" y="225.85" width="25.5" height="13.07" fill="#355e8d"/>
<rect x="1055.28" y="225.85" width="25.5" height="13.07" fill="#365d8d"/>
<rect x="1080.18" y="225.85" width="50.39" height="13.07" fill="#365c8d"/>
<rect x="1129.98" y="225.85" width="50.39" height="13.07" fill="#375a8c"/>
<rect x="1179.77" y="225.85" width="25.5" height="13.07" fill="#38588c"/>
<rect x="1204.67" y="225.85" width="25.5" height="13.07" fill="#39568c"/>
<rect x="1229.56" y="225.85" width="25.5" height="13.07" fill="#3b528b"/>
<rect x="1254.46" y="225.85" width="25.5" height="13.07" fill="#3e4c8a"/>
<rect x="1279.36" y="225.85" width="25.5" height="13.07" fill="#404588"/>
<rect x="1304.25" y="225.85" width="25.5" height="13.07" fill="#453882"/>
<rect x="1329.15" y="225.85" width="25.5" height="13.07" fill="#440154"/>
<rect x="84.3" y="238.32" width="25.5" height="13.07" fill="#b8de29"/>
<rect x="109.2" y="238.32" width="25.5" height="13.07" fill="#addc30"/>
<rect x="134.1" y="238.32" width="25.5" height="13.07" fill="#58c765"/>
<rect x="158.99" y="238.32" width="25.5" height="13.07" fill="#35b779"/>
<rect x="183.89" y="238.32" width="25.5" height="13.07" fill="#27ad81"/>
<rect x="208.79" y="238.32" width="25.5" height="13.07" fill="#20a486"/>
<rect x="233.68" y="238.32" width="25.5" height="13.07" fill="#1f9e89"/>
<rect x="258.58" y="238.32" width="25.5" height="13.07" fill="#1f978b"/>
<rect x="283.48" y="238.32" width="25.5" height="13.07" fill="#20928c"/>
<rect x="308.37" y="238.32" width="25.5" height="13.07" fill="#218e8d"/>
<rect x="333.27" y="238.32" width="25.5" height="13.07" fill="#238a8d"/>
<rect x="358.17" y="238.32" width="25.5" height="13.07" fill="#24878e"/>
<rect x="383.07" y="238.32" width="25.5" height="13.07" fill="#25838e"/>
<rect x="407.96" y="238.32" width="25.5" height="13.07" fill="#27808e"/>
<rect x="432.86" y="238.32" width="25.5" height="13.07" fill="#277e8e"/>
<rect x="457.76" y="238.32" width="25.5" height="13.07" fill="#297b8e"/>
<rect x="482.65" y="238.32" width="25.5" height="13.07" fill="#2a788e"/>
<rect x="507.55" y="238.32" width="25.5" height="13.07" fill="#2a768e"/>
<rect x="532.45" y="238.32" width="25.5" height="13.07" fill="#2c738e"/>
<rect x="557.34" y="238.32" width="25.5" height="13.07" fill="#2c718e"/>
<rect x="582.24" y="238.32" width="25.5" height="13.07" fill="#2d708e"/>
<rect x="607.14" y="238.32" width="25.5" height="13.07" fill="#2e6e8e"/>
<rect x="632.04" y="238.32" width="25.5" height="13.07" fill="#2f6c8e"/>
<rect x="656.93" y="238.32" width="25.5" height="13.07" fill="#306a8e"/>
<rect x="681.83" y="238.32" width="25.5" height="13.07" fill="#30698e"/>
<rect x="706.73" y="238.32" width="25.5" height="13.07" fill="#31678e"/>
<rect x="731.62" y="238.32" width="25.5" height="13.07" fill="#31668e"/>
<rect x="756.52" y="238.32" width="25.5" height="13.07" fill="#32648e"/>
<rect x="781.42" y="238.32" width="25.5" height="13.07" fill="#33628d"/>
<rect x="806.31" y="238.32" width="25.5" height="13.07" fill="#34618d"/>
<rect x="831.21" y="238.32" width="25.5" height="13.07" fill="#34608d"/>
<rect x="856.11" y="238.32" width="25.5" height="13.07" fill="#355f8d"/>
<rect x="881.01" y="238.32" width="25.5" height="13.07" fill="#355e8d"/>
<rect x="905.9" y="238.32" width="25.5" height="13.07" fill="#365c8d"/>
<rect x="930.8" y="238.32" width="50.39" height="13.07" fill="#375a8c"/>
<rect x="980.59" y="238.32" width="25.5" height="13.07" fill="#38598c"/>
<rect x="1005.49" y="238.32" width="25.5" height="13.07" fill="#38588c"/>
<rect x="1030.39" y="238.32" width="25.5" height="13.07" fill="#39568c"/>
<rect x="1055.28" y="238.32" width="50.39" height="13.07" fill="#3a548c"/>
<rect x="1105.08" y="238.32" width="25.5" height="13.07" fill="#3b528b"/>
<rect x="1129.98" y="238.32" width="25.5" height="13.07" fill="#3b518b"/>
<rect x="1154.87" y="238.32" width="25.5" height="13.07" fill="#3c508b"/>
<rect x="1179.77" y="238.32" width="50.39" height="13.07" fill="#3c4f8a"/>
<rect x="1229.56" y="238.32" width="25.5" height="13.07" fill="#3e4a89"/>
<rect x="1254.46" y="238.32" width="25.5" height="13.07" fill="#414287"/>
<rect x="1279.36" y="238.32" width="25.5" height="13.07" fill="#443a83"/>
<rect x="1304.25" y="238.32" width="25.5" height="13.07" fill="#472e7c"/>
<rect x="1329.15" y="238.32" width="25.5" height="13.07" fill="#440154"/>
<rect x="84.3" y="250.78" width="25.5" height="13.06" fill="#c2df23"/>
<rect x="109.2" y="250.78" width="25.5" height="13.06" fill="#aadc32"/>
<rect x="134.1" y="250.78" width="25.5" height="13.06" fill="#4ac16d"/>
<rect x="158.99" y="250.78" width="25.5" height="13.06" fill="#2db27d"/>
<rect x="183.89" y="250.78" width="25.5" height="13.06" fill="#22a785"/>
<rect x="208.79" y="250.78" width="25.5" height="13.06" fill="#1f9e89"/>
<rect x="233.68" y="250.78" width="25.5" height="13.06" fill="#1f978b"/>
<rect x="258.58" y="250.78" width="25.5" height="13.06" fill="#20928c"/>
<rect x="283.48" y="250.78" width="25.5" height="13.06" fill="#228c8d"/>
<rect x="308.37" y="250.78" width="25.5" height="13.06" fill="#24878e"/>
<rect x="333.27" y="250.78" width="25.5" height="13.06" fill="#25838e"/>
<rect x="358.17" y="250.78" width="25.5" height="13.06" fill="#27808e"/>
<rect x="383.07" y="250.78" width="25.5" height="13.06" fill="#287d8e"/>
<rect x="407.96" y="250.78" width="25.5" height="13.06" fill="#29798e"/>
<rect x="432.86" y="250.78" width="25.5" height="13.06" fill="#2a768e"/>
<rect x="457.76" y="250.78" width="25.5" height="13.06" fill="#2b748e"/>
<rect x="482.65" y="250.78" width="25.5" height="13.06" fill="#2c718e"/>
<rect x="507.55" y="250.78" width="25.5" height="13.06" fill="#2d708e"/>
<rect x="532.45" y="250.78" width="25.5" height="13.06" fill="#2e6d8e"/>
<rect x="557.34" y="250.78" width="25.5" height="13.06" fill="#2f6b8e"/>
<rect x="582.24" y="250.78" width="25.5" height="13.06" fill="#30698e"/>
<rect x="607.14" y="250.78" width="25.5" height="13.06" fill="#31688e"/>
<rect x="632.04" y="250.78" width="25.5" height="13.06" fill="#32658e"/>
<rect x="656.93" y="250.78" width="25.5" height="13.06" fill="#32648e"/>
<rect x="681.83" y="250.78" width="25.5" height="13.06" fill="#33628d"/>
<rect x="706.73" y="250.78" width="25.5" height="13.06" fill="#34608d"/>
<rect x="731.62" y="250.78" width="25.5" height="13.06" fill="#355f8d"/>
<rect x="756.52" y="250.78" width="25.5" height="13.06" fill="#365d8d"/>
<rect x="781.42" y="250.78" width="25.5" height="13.06" fill="#365c8d"/>
<rect x="806.31" y="250.78" width="25.5" height="13.06" fill="#375a8c"/>
<rect x="831.21" y="250.78" width="25.5" height="13.06" fill="#38598c"/>
<rect x="856.11" y="250.78" width="25.5" height="13.06" fill="#39568c"/>
<rect x="881.01" y="250.78" width="25.5" height="13.06" fill="#39558c"/>
<rect x="905.9" y="250.78" width="25.5" height="13.06" fill="#3a548c"/>
<rect x="930.8" y="250.78" width="50.39" height="13.06" fill="#3b528b"/>
<rect x="980.59" y="250.78" width="25.5" height="13.06" fill="#3b518b"/>
<rect x="1005.49" y="250.78" width="25.5" height="13.06" fill="#3c508b"/>
<rect x="1030.39" y="250.78" width="25.5" height="13.06" fill="#3d4e8a"/>
<rect x="1055.28" y="250.78" width="25.5" height="13.06" fill="#3d4d8a"/>
<rect x="1080.18" y="250.78" width="25.5" height="13.06" fill="#3e4c8a"/>
<rect x="1105.08" y="250.78" width="25.5" height="13.06" fill="#3e4a89"/>
<rect x="1129.98" y="250.78" width="50.39" height="13.06" fill="#3e4989"/>
<rect x="1179.77" y="250.78" width="50.39" height="13.06" fill="#3f4788"/>
<rect x="1229.56" y="250.78" width="25.5" height="13.06" fill="#414287"/>
<rect x="1254.46" y="250.78" width="25.5" height="13.06" fill="#443b84"/>
<rect x="1279.36" y="250.78" width="25.5" height="13.06" fill="#453581"/>
<rect x="1304.25" y="250.78" width="25.5" height="13.06" fill="#482677"/>
<rect x="1329.15" y="250.78" width="25.5" height="13.06" fill="#440154"/>
<rect x="84.3" y="263.25" width="25.5" height="13.06" fill="#cae11f"/>
<rect x="109.2" y="263.25" width="25.5" height="13.06" fill="#a5db36"/>
<rect x="134.1" y="263.25" width="25.5" height="13.06" fill="#3fbc73"/>
<rect x="158.99" y="263.25" width="25.5" height="13.06" fill="#25ac82"/>
<rect x="183.89" y="263.25" width="25.5" height="13.06" fill="#1fa188"/>
<rect x="208.79" y="263.25" width="25.5" height="13.06" fill="#1f988b"/>
<rect x="233.68" y="263.25" width="25.5" height="13.06" fill="#21918c"/>
<rect x="258.58" y="263.25" width="25.5" height="13.06" fill="#228b8d"/>
<rect x="283.48" y="263.25" width="25.5" height="13.06" fill="#25858e"/>
<rect x="308.37" y="263.25" width="25.5" height="13.06" fill="#26828e"/>
<rect x="333.27" y="263.25" width="25.5" height="13.06" fill="#277e8e"/>
<rect x="358.17" y="263.25" width="25.5" height="13.06" fill="#29798e"/>
<rect x="383.07" y="263.25" width="25.5" height="13.06" fill="#2a768e"/>
<rect x="407.96" y="263.25" width="25.5" height="13.06" fill="#2c738e"/>
<rect x="432.86" y="263.25" width="25.5" height="13.06" fill="#2d718e"/>
<rect x="457.76" y="263.25" width="25.5" height="13.06" fill="#2e6e8e"/>
<rect x="482.65" y="263.25" width="25.5" height="13.06" fill="#2f6b8e"/>
<rect x="507.55" y="263.25" width="25.5" height="13.06" fill="#30698e"/>
<rect x="532.45" y="263.25" width="25.5" height="13.06" fill="#31678e"/>
<rect x="557.34" y="263.25" width="25.5" height="13.06" fill="#32658e"/>
<rect x="582.24" y="263.25" width="25.5" height="13.06" fill="#33638d"/>
<rect x="607.14" y="263.25" width="25.5" height="13.06" fill="#34618d"/>
<rect x="632.04" y="263.25" width="25.5" height="13.06" fill="#355f8d"/>
<rect x="656.93" y="263.25" width="25.5" height="13.06" fill="#365d8d"/>
<rect x="681.83" y="263.25" width="25.5" height="13.06" fill="#375b8d"/>
<rect x="706.73" y="263.25" width="25.5" height="13.06" fill="#38598c"/>
<rect x="731.62" y="263.25" width="25.5" height="13.06" fill="#38588c"/>
<rect x="756.52" y="263.25" width="25.5" height="13.06" fill="#39568c"/>
<rect x="781.42" y="263.25" width="25.5" height="13.06" fill="#3a548c"/>
<rect x="806.31" y="263.25" width="25.5" height="13.06" fill="#3a538b"/>
<rect x="831.21" y="263.25" width="25.5" height="13.06" fill="#3b518b"/>
<rect x="856.11" y="263.25" width="25.5" height="13.06" fill="#3c508b"/>
<rect x="881.01" y="263.25" width="25.5" height="13.06" fill="#3c4f8a"/>
<rect x="905.9" y="263.25" width="25.5" height="13.06" fill="#3d4e8a"/>
<rect x="930.8" y="263.25" width="25.5" height="13.06" fill="#3d4d8a"/>
<rect x="955.7" y="263.25" width="25.5" height="13.06" fill="#3e4a89"/>
<rect x="980.59" y="263.25" width="25.5" height="13.06" fill="#3e4989"/>
<rect x="1005.49" y="263.25" width="25.5" height="13.06" fill="#3f4889"/>
<rect x="1030.39" y="263.25" width="50.39" height="13.06" fill="#3f4788"/>
<rect x="1080.18" y="263.25" width="25.5" height="13.06" fill="#404588"/>
<rect x="1105.08" y="263.25" width="50.39" height="13.06" fill="#414487"/>
<rect x="1154.87" y="263.25" width="50.39" height="13.06" fill="#424186"/>
<rect x="1204.67" y="263.25" width="25.5" height="13.06" fill="#423f85"/>
<rect x="1229.56" y="263.25" width="25.5" height="13.06" fill="#433d84"/>
<rect x="1254.46" y="263.25" width="25.5" height="13.06" fill="#46327e"/>
<rect x="1279.36" y="263.25" width="25.5" height="13.06" fill="#472c7a"/>
<rect x="1304.25" y="263.25" width="25.5" height="13.06" fill="#481f70"/>
<rect x="1329.15" y="263.25" width="25.5" height="13.06" fill="#440154"/>
<rect x="84.3" y="275.71" width="25.5" height="13.06" fill="#d5e21a"/>
<rect x="109.2" y="275.71" width="25.5" height="13.06" fill="#9bd93c"/>
<rect x="134.1" y="275.71" width="25.5" height="13.06" fill="#35b779"/>
<rect x="158.99" y="275.71" width="25.5" height="13.06" fill="#21a685"/>
<rect x="183.89" y="275.71" width="25.5" height="13.06" fill="#1e9b8a"/>
<rect x="208.79" y="275.71" width="25.5" height="13.06" fill="#20928c"/>
<rect x="233.68" y="275.71" width="25.5" height="13.06" fill="#228b8d"/>
<rect x="258.58" y="275.71" width="25.5" height="13.06" fill="#25858e"/>
<rect x="283.48" y="275.71" width="25.5" height="13.06" fill="#26818e"/>
<rect x="308.37" y="275.71" width="25.5" height="13.06" fill="#287c8e"/>
<rect x="333.27" y="275.71" width="25.5" height="13.06" fill="#2a778e"/>
<rect x="358.17" y="275.71" width="25.5" height="13.06" fill="#2b748e"/>
<rect x="383.07" y="275.71" width="25.5" height="13.06" fill="#2d718e"/>
<rect x="407.96" y="275.71" width="25.5" height="13.06" fill="#2e6e8e"/>
<rect x="432.86" y="275.71" width="25.5" height="13.06" fill="#2f6b8e"/>
<rect x="457.76" y="275.71" width="25.5" height="13.06" fill="#31688e"/>
<rect x="482.65" y="275.71" width="25.5" height="13.06" fill="#31668e"/>
<rect x="507.55" y="275.71" width="25.5" height="13.06" fill="#33638d"/>
<rect x="532.45" y="275.71" width="25.5" height="13.06" fill="#34618d"/>
<rect x="557.34" y="275.71" width="25.5" height="13.06" fill="#355f8d"/>
<rect x="582.24" y="275.71" width="25.5" height="13.06" fill="#365d8d"/>
<rect x="607.14" y="275.71" width="25.5" height="13.06" fill="#375a8c"/>
<rect x="632.04" y="275.71" width="25.5" height="13.06" fill="#38588c"/>
<rect x="656.93" y="275.71" width="25.5" height="13.06" fill="#39568c"/>
<rect x="681.83" y="275.71" width="25.5" height="13.06" fill="#39558c"/>
<rect x="706.73" y="275.71" width="25.5" height="13.06" fill="#3a538b"/>
<rect x="731.62" y="275.71" width="25.5" height="13.06" fill="#3b518b"/>
<rect x="756.52" y="275.71" width="25.5" height="13.06" fill="#3c4f8a"/>
<rect x="781.42" y="275.71" width="25.5" height="13.06" fill="#3d4e8a"/>
<rect x="806.31" y="275.71" width="25.5" height="13.06" fill="#3d4d8a"/>
<rect x="831.21" y="275.71" width="25.5" height="13.06" fill="#3e4a89"/>
<rect x="856.11" y="275.71" width="25.5" height="13.06" fill="#3e4989"/>
<rect x="881.01" y="275.71" width="25.5" height="13.06" fill="#3f4889"/>
<rect x="905.9" y="275.71" width="25.5" height="13.06" fill="#3f4788"/>
<rect x="930.8" y="275.71" width="50.39" height="13.06" fill="#404588"/>
<rect x="980.59" y="275.71" width="25.5" height="13.06" fill="#414287"/>
<rect x="1005.49" y="275.71" width="50.39" height="13.06" fill="#424186"/>
<rect x="1055.28" y="275.71" width="25.5" height="13.06" fill="#424086"/>
<rect x="1080.18" y="275.71" width="25.5" height="13.06" fill="#433d84"/>
<rect x="1105.08" y="275.71" width="25.5" height="13.06" fill="#433e85"/>
<rect x="1129.98" y="275.71" width="25.5" height="13.06" fill="#433d84"/>
<rect x="1154.87" y="275.71" width="25.5" height="13.06" fill="#443a83"/>
<rect x="1179.77" y="275.71" width="25.5" height="13.06" fill="#443b84"/>
<rect x="1204.67" y="275.71" width="25.5" height="13.06" fill="#443983"/>
<rect x="1229.56" y="275.71" width="25.5" height="13.06" fill="#453581"/>
<rect x="1254.46" y="275.71" width="25.5" height="13.06" fill="#472d7b"/>
<rect x="1279.36" y="275.71" width="25.5" height="13.06" fill="#482576"/>
<rect x="1304.25" y="275.71" width="25.5" height="13.06" fill="#481d6f"/>
<rect x="1329.15" y="275.71" width="25.5" height="13.06" fill="#440154"/>
<rect x="84.3" y="288.18" width="25.5" height="13.06" fill="#dae319"/>
<rect x="109.2" y="288.18" width="25.5" height="13.06" fill="#90d743"/>
<rect x="134.1" y="288.18" width="25.5" height="13.06" fill="#2eb37c"/>
<rect x="158.99" y="288.18" width="25.5" height="13.06" fill="#1fa188"/>
<rect x="183.89" y="288.18" width="25.5" height="13.06" fill="#1f958b"/>
<rect x="208.79" y="288.18" width="25.5" height="13.06" fill="#218e8d"/>
<rect x="233.68" y="288.18" width="25.5" height="13.06" fill="#25858e"/>
<rect x="258.58" y="288.18" width="25.5" height="13.06" fill="#27808e"/>
<rect x="283.48" y="288.18" width="25.5" height="13.06" fill="#297b8e"/>
<rect x="308.37" y="288.18" width="25.5" height="13.06" fill="#2a768e"/>
<rect x="333.27" y="288.18" width="25.5" height="13.06" fill="#2c728e"/>
<rect x="358.17" y="288.18" width="25.5" height="13.06" fill="#2e6f8e"/>
<rect x="383.07" y="288.18" width="25.5" height="13.06" fill="#2f6c8e"/>
<rect x="407.96" y="288.18" width="25.5" height="13.06" fill="#30698e"/>
<rect x="432.86" y="288.18" width="25.5" height="13.06" fill="#31668e"/>
<rect x="457.76" y="288.18" width="25.5" height="13.06" fill="#33628d"/>
<rect x="482.65" y="288.18" width="25.5" height="13.06" fill="#34608d"/>
<rect x="507.55" y="288.18" width="25.5" height="13.06" fill="#365d8d"/>
<rect x="532.45" y="288.18" width="25.5" height="13.06" fill="#365c8d"/>
<rect x="557.34" y="288.18" width="25.5" height="13.06" fill="#38598c"/>
<rect x="582.24" y="288.18" width="25.5" height="13.06" fill="#38588c"/>
<rect x="607.14" y="288.18" width="25.5" height="13.06" fill="#39558c"/>
<rect x="632.04" y="288.18" width="25.5" height="13.06" fill="#3b528b"/>
<rect x="656.93" y="288.18" width="25.5" height="13.06" fill="#3b518b"/>
<rect x="681.83" y="288.18" width="25.5" height="13.06" fill="#3c4f8a"/>
<rect x="706.73" y="288.18" width="25.5" height="13.06" fill="#3d4d8a"/>
<rect x="731.62" y="288.18" width="25.5" height="13.06" fill="#3e4c8a"/>
<rect x="756.52" y="288.18" width="25.5" height="13.06" fill="#3e4989"/>
<rect x="781.42" y="288.18" width="25.5" height="13.06" fill="#3f4889"/>
<rect x="806.31" y="288.18" width="25.5" height="13.06" fill="#404688"/>
<rect x="831.21" y="288.18" width="50.39" height="13.06" fill="#414487"/>
<rect x="881.01" y="288.18" width="50.39" height="13.06" fill="#414287"/>
<rect x="930.8" y="288.18" width="25.5" height="13.06" fill="#423f85"/>
<rect x="955.7" y="288.18" width="25.5" height="13.06" fill="#433d84"/>
<rect x="980.59" y="288.18" width="25.5" height="13.06" fill="#423f85"/>
<rect x="1005.49" y="288.18" width="25.5" height="13.06" fill="#443b84"/>
<rect x="1030.39" y="288.18" width="25.5" height="13.06" fill="#443a83"/>
<rect x="1055.28" y="288.18" width="25.5" height="13.06" fill="#453882"/>
<rect x="1080.18" y="288.18" width="25.5" height="13.06" fill="#453781"/>
<rect x="1105.08" y="288.18" width="25.5" height="13.06" fill="#453882"/>
<rect x="1129.98" y="288.18" width="25.5" height="13.06" fill="#453581"/>
<rect x="1154.87" y="288.18" width="25.5" height="13.06" fill="#463480"/>
<rect x="1179.77" y="288.18" width="25.5" height="13.06" fill="#46337f"/>
<rect x="1204.67" y="288.18" width="25.5" height="13.06" fill="#463480"/>
<rect x="1229.56" y="288.18" width="25.5" height="13.06" fill="#472d7b"/>
<rect x="1254.46" y="288.18" width="25.5" height="13.06" fill="#482979"/>
<rect x="1279.36" y="288.18" width="25.5" height="13.06" fill="#482173"/>
<rect x="1304.25" y="288.18" width="25.5" height="13.06" fill="#48186a"/>
<rect x="1329.15" y="288.18" width="25.5" height="13.06" fill="#440154"/>
<rect x="84.3" y="300.64" width="25.5" height="13.06" fill="#e2e418"/>
<rect x="109.2" y="300.64" width="25.5" height="13.06" fill="#84d44b"/>
<rect x="134.1" y="300.64" width="25.5" height="13.06" fill="#28ae80"/>
<rect x="158.99" y="300.64" width="25.5" height="13.06" fill="#1e9d89"/>
<rect x="183.89" y="300.64" width="25.5" height="13.06" fill="#21918c"/>
<rect x="208.79" y="300.64" width="25.5" height="13.06" fill="#23888e"/>
<rect x="233.68" y="300.64" width="25.5" height="13.06" fill="#26828e"/>
<rect x="258.58" y="300.64" width="25.5" height="13.06" fill="#287c8e"/>
<rect x="283.48" y="300.64" width="25.5" height="13.06" fill="#2a768e"/>
<rect x="308.37" y="300.64" width="25.5" height="13.06" fill="#2c718e"/>
<rect x="333.27" y="300.64" width="25.5" height="13.06" fill="#2e6e8e"/>
<rect x="358.17" y="300.64" width="25.5" height="13.06" fill="#306a8e"/>
<rect x="383.07" y="300.64" width="25.5" height="13.06" fill="#31678e"/>
<rect x="407.96" y="300.64" width="25.5" height="13.06" fill="#32648e"/>
<rect x="432.86" y="300.64" width="25.5" height="13.06" fill="#34618d"/>
<rect x="457.76" y="300.64" width="25.5" height="13.06" fill="#355e8d"/>
<rect x="482.65" y="300.64" width="25.5" height="13.06" fill="#375b8d"/>
<rect x="507.55" y="300.64" width="25.5" height="13.06" fill="#38598c"/>
<rect x="532.45" y="300.64" width="25.5" height="13.06" fill="#39558c"/>
<rect x="557.34" y="300.64" width="25.5" height="13.06" fill="#3a538b"/>
<rect x="582.24" y="300.64" width="25.5" height="13.06" fill="#3b518b"/>
<rect x="607.14" y="300.64" width="25.5" height="13.06" fill="#3c4f8a"/>
<rect x="632.04" y="300.64" width="25.5" height="13.06" fill="#3d4d8a"/>
<rect x="656.93" y="300.64" width="25.5" height="13.06" fill="#3e4c8a"/>
<rect x="681.83" y="300.64" width="25.5" height="13.06" fill="#3e4989"/>
<rect x="706.73" y="300.64" width="25.5" height="13.06" fill="#3f4889"/>
<rect x="731.62" y="300.64" width="25.5" height="13.06" fill="#3f4788"/>
<rect x="756.52" y="300.64" width="25.5" height="13.06" fill="#404588"/>
<rect x="781.42" y="300.64" width="25.5" height="13.06" fill="#414287"/>
<rect x="806.31" y="300.64" width="25.5" height="13.06" fill="#424186"/>
<rect x="831.21" y="300.64" width="50.39" height="13.06" fill="#423f85"/>
<rect x="881.01" y="300.64" width="25.5" height="13.06" fill="#433d84"/>
<rect x="905.9" y="300.64" width="25.5" height="13.06" fill="#443b84"/>
<rect x="930.8" y="300.64" width="25.5" height="13.06" fill="#443a83"/>
<rect x="955.7" y="300.64" width="25.5" height="13.06" fill="#443983"/>
<rect x="980.59" y="300.64" width="25.5" height="13.06" fill="#453781"/>
<rect x="1005.49" y="300.64" width="25.5" height="13.06" fill="#463480"/>
<rect x="1030.39" y="300.64" width="25.5" height="13.06" fill="#453581"/>
<rect x="1055.28" y="300.64" width="25.5" height="13.06" fill="#463480"/>
<rect x="1080.18" y="300.64" width="25.5" height="13.06" fill="#46337f"/>
<rect x="1105.08" y="300.64" width="25.5" height="13.06" fill="#46307e"/>
<rect x="1129.98" y="300.64" width="50.39" height="13.06" fill="#472f7d"/>
<rect x="1179.77" y="300.64" width="25.5" height="13.06" fill="#472e7c"/>
<rect x="1204.67" y="300.64" width="25.5" height="13.06" fill="#472d7b"/>
<rect x="1229.56" y="300.64" width="25.5" height="13.06" fill="#482878"/>
<rect x="1254.46" y="300.64" width="25.5" height="13.06" fill="#482374"/>
<rect x="1279.36" y="300.64" width="25.5" height="13.06" fill="#481d6f"/>
<rect x="1304.25" y="300.64" width="25.5" height="13.06" fill="#481467"/>
<rect x="1329.15" y="300.64" width="25.5" height="13.06" fill="#440154"/>
<rect x="84.3" y="313.11" width="25.5" height="13.06" fill="#eae51a"/>
<rect x="109.2" y="313.11" width="25.5" height="13.06" fill="#77d153"/>
<rect x="134.1" y="313.11" width="25.5" height="13.06" fill="#25ab82"/>
<rect x="158.99" y="313.11" width="25.5" height="13.06" fill="#1f988b"/>
<rect x="183.89" y="313.11" width="25.5" height="13.06" fill="#228d8d"/>
<rect x="208.79" y="313.11" width="25.5" height="13.06" fill="#25848e"/>
<rect x="233.68" y="313.11" width="25.5" height="13.06" fill="#277e8e"/>
<rect x="258.58" y="313.11" width="25.5" height="13.06" fill="#2a778e"/>
<rect x="283.48" y="313.11" width="25.5" height="13.06" fill="#2c728e"/>
<rect x="308.37" y="313.11" width="25.5" height="13.06" fill="#2e6e8e"/>
<rect x="333.27" y="313.11" width="25.5" height="13.06" fill="#306a8e"/>
<rect x="358.17" y="313.11" width="25.5" height="13.06" fill="#31668e"/>
<rect x="383.07" y="313.11" width="25.5" height="13.06" fill="#33628d"/>
<rect x="407.96" y="313.11" width="25.5" height="13.06" fill="#355f8d"/>
<rect x="432.86" y="313.11" width="25.5" height="13.06" fill="#365c8d"/>
<rect x="457.76" y="313.11" width="25.5" height="13.06" fill="#38598c"/>
<rect x="482.65" y="313.11" width="25.5" height="13.06" fill="#39568c"/>
<rect x="507.55" y="313.11" width="25.5" height="13.06" fill="#3a538b"/>
<rect x="532.45" y="313.11" width="25.5" height="13.06" fill="#3b518b"/>
<rect x="557.34" y="313.11" width="25.5" height="13.06" fill="#3c4f8a"/>
<rect x="582.24" y="313.11" width="25.5" height="13.06" fill="#3d4d8a"/>
<rect x="607.14" y="313.11" width="25.5" height="13.06" fill="#3e4a89"/>
<rect x="632.04" y="313.11" width="25.5" height="13.06" fill="#3f4889"/>
<rect x="656.93" y="313.11" width="25.5" height="13.06" fill="#3f4788"/>
<rect x="681.83" y="313.11" width="25.5" height="13.06" fill="#404588"/>
<rect x="706.73" y="313.11" width="25.5" height="13.06" fill="#414287"/>
<rect x="731.62" y="313.11" width="25.5" height="13.06" fill="#424186"/>
<rect x="756.52" y="313.11" width="25.5" height="13.06" fill="#423f85"/>
<rect x="781.42" y="313.11" width="50.39" height="13.06" fill="#433e85"/>
<rect x="831.21" y="313.11" width="25.5" height="13.06" fill="#433d84"/>
<rect x="856.11" y="313.11" width="75.29" height="13.06" fill="#453882"/>
<rect x="930.8" y="313.11" width="75.29" height="13.06" fill="#463480"/>
<rect x="1005.49" y="313.11" width="50.39" height="13.06" fill="#46307e"/>
<rect x="1055.28" y="313.11" width="25.5" height="13.06" fill="#472e7c"/>
<rect x="1080.18" y="313.11" width="25.5" height="13.06" fill="#472c7a"/>
<rect x="1105.08" y="313.11" width="25.5" height="13.06" fill="#472d7b"/>
<rect x="1129.98" y="313.11" width="75.29" height="13.06" fill="#472c7a"/>
<rect x="1204.67" y="313.11" width="25.5" height="13.06" fill="#482979"/>
<rect x="1229.56" y="313.11" width="25.5" height="13.06" fill="#482475"/>
<rect x="1254.46" y="313.11" width="25.5" height="13.06" fill="#481f70"/>
<rect x="1279.36" y="313.11" width="25.5" height="13.06" fill="#481a6c"/>
<rect x="1304.25" y="313.11" width="25.5" height="13.06" fill="#471365"/>
<rect x="1329.15" y="313.11" width="25.5" height="13.06" fill="#440154"/>
<rect x="84.3" y="325.57" width="25.5" height="13.06" fill="#ece51b"/>
<rect x="109.2" y="325.57" width="25.5" height="13.06" fill="#6ccd5a"/>
<rect x="134.1" y="325.57" width="25.5" height="13.06" fill="#21a685"/>
<rect x="158.99" y="325.57" width="25.5" height="13.06" fill="#1f948c"/>
<rect x="183.89" y="325.57" width="25.5" height="13.06" fill="#23898e"/>
<rect x="208.79" y="325.57" width="25.5" height="13.06" fill="#26818e"/>
<rect x="233.68" y="325.57" width="25.5" height="13.06" fill="#29798e"/>
<rect x="258.58" y="325.57" width="25.5" height="13.06" fill="#2c738e"/>
<rect x="283.48" y="325.57" width="25.5" height="13.06" fill="#2e6f8e"/>
<rect x="308.37" y="325.57" width="25.5" height="13.06" fill="#306a8e"/>
<rect x="333.27" y="325.57" width="25.5" height="13.06" fill="#31668e"/>
<rect x="358.17" y="325.57" width="25.5" height="13.06" fill="#33628d"/>
<rect x="383.07" y="325.57" width="25.5" height="13.06" fill="#355e8d"/>
<rect x="407.96" y="325.57" width="25.5" height="13.06" fill="#375b8d"/>
<rect x="432.86" y="325.57" width="25.5" height="13.06" fill="#38598c"/>
<rect x="457.76" y="325.57" width="25.5" height="13.06" fill="#39558c"/>
<rect x="482.65" y="325.57" width="25.5" height="13.06" fill="#3b528b"/>
<rect x="507.55" y="325.57" width="25.5" height="13.06" fill="#3c508b"/>
<rect x="532.45" y="325.57" width="25.5" height="13.06" fill="#3d4e8a"/>
<rect x="557.34" y="325.57" width="25.5" height="13.06" fill="#3e4a89"/>
<rect x="582.24" y="325.57" width="25.5" height="13.06" fill="#3f4889"/>
<rect x="607.14" y="325.57" width="50.39" height="13.06" fill="#404588"/>
<rect x="656.93" y="325.57" width="25.5" height="13.06" fill="#424186"/>
<rect x="681.83" y="325.57" width="25.5" height="13.06" fill="#424086"/>
<rect x="706.73" y="325.57" width="25.5" height="13.06" fill="#433e85"/>
<rect x="731.62" y="325.57" width="25.5" height="13.06" fill="#433d84"/>
<rect x="756.52" y="325.57" width="25.5" height="13.06" fill="#443a83"/>
<rect x="781.42" y="325.57" width="50.39" height="13.06" fill="#443983"/>
<rect x="831.21" y="325.57" width="25.5" height="13.06" fill="#453581"/>
<rect x="856.11" y="325.57" width="25.5" height="13.06" fill="#46337f"/>
<rect x="881.01" y="325.57" width="25.5" height="13.06" fill="#453581"/>
<rect x="905.9" y="325.57" width="25.5" height="13.06" fill="#46327e"/>
<rect x="930.8" y="325.57" width="25.5" height="13.06" fill="#472f7d"/>
<rect x="955.7" y="325.57" width="75.29" height="13.06" fill="#472e7c"/>
<rect x="1030.39" y="325.57" width="25.5" height="13.06" fill="#472d7b"/>
<rect x="1055.28" y="325.57" width="25.5" height="13.06" fill="#472a7a"/>
<rect x="1080.18" y="325.57" width="25.5" height="13.06" fill="#482979"/>
<rect x="1105.08" y="325.57" width="25.5" height="13.06" fill="#482677"/>
<rect x="1129.98" y="325.57" width="50.39" height="13.06" fill="#482878"/>
<rect x="1179.77" y="325.57" width="25.5" height="13.06" fill="#482677"/>
<rect x="1204.67" y="325.57" width="25.5" height="13.06" fill="#482475"/>
<rect x="1229.56" y="325.57" width="25.5" height="13.06" fill="#482071"/>
<rect x="1254.46" y="325.57" width="25.5" height="13.06" fill="#481b6d"/>
<rect x="1279.36" y="325.57" width="25.5" height="13.06" fill="#481668"/>
<rect x="1304.25" y="325.57" width="25.5" height="13.06" fill="#470e61"/>
<rect x="1329.15" y="325.57" width="25.5" height="13.06" fill="#440154"/>
<rect x="84.3" y="338.04" width="25.5" height="13.06" fill="#f1e51d"/>
<rect x="109.2" y="338.04" width="25.5" height="13.06" fill="#63cb5f"/>
<rect x="134.1" y="338.04" width="25.5" height="13.06" fill="#20a386"/>
<rect x="158.99" y="338.04" width="25.5" height="13.06" fill="#20928c"/>
<rect x="183.89" y="338.04" width="25.5" height="13.06" fill="#24868e"/>
<rect x="208.79" y="338.04" width="25.5" height="13.06" fill="#287d8e"/>
<rect x="233.68" y="338.04" width="25.5" height="13.06" fill="#2a768e"/>
<rect x="258.58" y="338.04" width="25.5" height="13.06" fill="#2d708e"/>
<rect x="283.48" y="338.04" width="25.5" height="13.06" fill="#2f6b8e"/>
<rect x="308.37" y="338.04" width="25.5" height="13.06" fill="#31668e"/>
<rect x="333.27" y="338.04" width="25.5" height="13.06" fill="#33628d"/>
<rect x="358.17" y="338.04" width="25.5" height="13.06" fill="#355e8d"/>
<rect x="383.07" y="338.04" width="25.5" height="13.06" fill="#375b8d"/>
<rect x="407.96" y="338.04" width="25.5" height="13.06" fill="#38588c"/>
<rect x="432.86" y="338.04" width="25.5" height="13.06" fill="#3a548c"/>
<rect x="457.76" y="338.04" width="25.5" height="13.06" fill="#3b518b"/>
<rect x="482.65" y="338.04" width="25.5" height="13.06" fill="#3c4f8a"/>
<rect x="507.55" y="338.04" width="25.5" height="13.06" fill="#3d4d8a"/>
<rect x="532.45" y="338.04" width="25.5" height="13.06" fill="#3f4889"/>
<rect x="557.34" y="338.04" width="25.5" height="13.06" fill="#404688"/>
<rect x="582.24" y="338.04" width="25.5" height="13.06" fill="#414487"/>
<rect x="607.14" y="338.04" width="25.5" height="13.06" fill="#414287"/>
<rect x="632.04" y="338.04" width="25.5" height="13.06" fill="#424186"/>
<rect x="656.93" y="338.04" width="25.5" height="13.06" fill="#423f85"/>
<rect x="681.83" y="338.04" width="25.5" height="13.06" fill="#433d84"/>
<rect x="706.73" y="338.04" width="25.5" height="13.06" fill="#443b84"/>
<rect x="731.62" y="338.04" width="25.5" height="13.06" fill="#443983"/>
<rect x="756.52" y="338.04" width="25.5" height="13.06" fill="#453882"/>
<rect x="781.42" y="338.04" width="25.5" height="13.06" fill="#453581"/>
<rect x="806.31" y="338.04" width="25.5" height="13.06" fill="#46337f"/>
<rect x="831.21" y="338.04" width="50.39" height="13.06" fill="#46307e"/>
<rect x="881.01" y="338.04" width="25.5" height="13.06" fill="#46327e"/>
<rect x="905.9" y="338.04" width="25.5" height="13.06" fill="#472d7b"/>
<rect x="930.8" y="338.04" width="25.5" height="13.06" fill="#472c7a"/>
<rect x="955.7" y="338.04" width="25.5" height="13.06" fill="#472d7b"/>
<rect x="980.59" y="338.04" width="25.5" height="13.06" fill="#472a7a"/>
<rect x="1005.49" y="338.04" width="25.5" height="13.06" fill="#482878"/>
<rect x="1030.39" y="338.04" width="25.5" height="13.06" fill="#482979"/>
<rect x="1055.28" y="338.04" width="50.39" height="13.06" fill="#482677"/>
<rect x="1105.08" y="338.04" width="50.39" height="13.06" fill="#482475"/>
<rect x="1154.87" y="338.04" width="25.5" height="13.06" fill="#482374"/>
<rect x="1179.77" y="338.04" width="50.39" height="13.06" fill="#482173"/>
<rect x="1229.56" y="338.04" width="25.5" height="13.06" fill="#481d6f"/>
<rect x="1254.46" y="338.04" width="25.5" height="13.06" fill="#48186a"/>
<rect x="1279.36" y="338.04" width="25.5" height="13.06" fill="#481467"/>
<rect x="1304.25" y="338.04" width="25.5" height="13.06" fill="#470d60"/>
<rect x="1329.15" y="338.04" width="25.5" height="13.06" fill="#440154"/>
<rect x="84.3" y="350.5" width="25.5" height="13.06" fill="#f4e61e"/>
<rect x="109.2" y="350.5" width="25.5" height="13.06" fill="#5ac864"/>
<rect x="134.1" y="350.5" width="25.5" height="13.06" fill="#1fa088"/>
<rect x="158.99" y="350.5" width="25.5" height="13.06" fill="#218e8d"/>
<rect x="183.89" y="350.5" width="25.5" height="13.06" fill="#26828e"/>
<rect x="208.79" y="350.5" width="25.5" height="13.06" fill="#297a8e"/>
<rect x="233.68" y="350.5" width="25.5" height="13.06" fill="#2c738e"/>
<rect x="258.58" y="350.5" width="25.5" height="13.06" fill="#2e6d8e"/>
<rect x="283.48" y="350.5" width="25.5" height="13.06" fill="#31688e"/>
<rect x="308.37" y="350.5" width="25.5" height="13.06" fill="#32648e"/>
<rect x="333.27" y="350.5" width="25.5" height="13.06" fill="#355f8d"/>
<rect x="358.17" y="350.5" width="25.5" height="13.06" fill="#365c8d"/>
<rect x="383.07" y="350.5" width="25.5" height="13.06" fill="#38588c"/>
<rect x="407.96" y="350.5" width="25.5" height="13.06" fill="#3a548c"/>
<rect x="432.86" y="350.5" width="25.5" height="13.06" fill="#3b518b"/>
<rect x="457.76" y="350.5" width="25.5" height="13.06" fill="#3d4e8a"/>
<rect x="482.65" y="350.5" width="25.5" height="13.06" fill="#3e4c8a"/>
<rect x="507.55" y="350.5" width="25.5" height="13.06" fill="#3e4989"/>
<rect x="532.45" y="350.5" width="25.5" height="13.06" fill="#3f4788"/>
<rect x="557.34" y="350.5" width="25.5" height="13.06" fill="#414487"/>
<rect x="582.24" y="350.5" width="25.5" height="13.06" fill="#424086"/>
<rect x="607.14" y="350.5" width="25.5" height="13.06" fill="#423f85"/>
<rect x="632.04" y="350.5" width="25.5" height="13.06" fill="#433d84"/>
<rect x="656.93" y="350.5" width="25.5" height="13.06" fill="#443b84"/>
<rect x="681.83" y="350.5" width="25.5" height="13.06" fill="#443a83"/>
<rect x="706.73" y="350.5" width="25.5" height="13.06" fill="#453781"/>
<rect x="731.62" y="350.5" width="25.5" height="13.06" fill="#453581"/>
<rect x="756.52" y="350.5" width="25.5" height="13.06" fill="#463480"/>
<rect x="781.42" y="350.5" width="25.5" height="13.06" fill="#46327e"/>
<rect x="806.31" y="350.5" width="25.5" height="13.06" fill="#472f7d"/>
<rect x="831.21" y="350.5" width="50.39" height="13.06" fill="#472e7c"/>
<rect x="881.01" y="350.5" width="25.5" height="13.06" fill="#472a7a"/>
<rect x="905.9" y="350.5" width="25.5" height="13.06" fill="#472c7a"/>
<rect x="930.8" y="350.5" width="50.39" height="13.06" fill="#482979"/>
<rect x="980.59" y="350.5" width="25.5" height="13.06" fill="#482878"/>
<rect x="1005.49" y="350.5" width="25.5" height="13.06" fill="#482475"/>
<rect x="1030.39" y="350.5" width="25.5" height="13.06" fill="#482374"/>
<rect x="1055.28" y="350.5" width="25.5" height="13.06" fill="#482475"/>
<rect x="1080.18" y="350.5" width="75.29" height="13.06" fill="#482071"/>
<rect x="1154.87" y="350.5" width="25.5" height="13.06" fill="#481f70"/>
<rect x="1179.77" y="350.5" width="50.39" height="13.06" fill="#481c6e"/>
<rect x="1229.56" y="350.5" width="25.5" height="13.06" fill="#481a6c"/>
<rect x="1254.46" y="350.5" width="25.5" height="13.06" fill="#481769"/>
<rect x="1279.36" y="350.5" width="25.5" height="13.06" fill="#470e61"/>
<rect x="1304.25" y="350.5" width="25.5" height="13.06" fill="#471063"/>
<rect x="1329.15" y="350.5" width="25.5" height="13.06" fill="#440154"/>
<rect x="84.3" y="362.97" width="25.5" height="13.06" fill="#f6e620"/>
<rect x="109.2" y="362.97" width="25.5" height="13.06" fill="#52c569"/>
<rect x="134.1" y="362.97" width="25.5" height="13.06" fill="#1e9d89"/>
<rect x="158.99" y="362.97" width="25.5" height="13.06" fill="#228c8d"/>
<rect x="183.89" y="362.97" width="25.5" height="13.06" fill="#26818e"/>
<rect x="208.79" y="362.97" width="25.5" height="13.06" fill="#2a788e"/>
<rect x="233.68" y="362.97" width="25.5" height="13.06" fill="#2d718e"/>
<rect x="258.58" y="362.97" width="25.5" height="13.06" fill="#2f6b8e"/>
<rect x="283.48" y="362.97" width="25.5" height="13.06" fill="#31668e"/>
<rect x="308.37" y="362.97" width="25.5" height="13.06" fill="#34618d"/>
<rect x="333.27" y="362.97" width="25.5" height="13.06" fill="#365d8d"/>
<rect x="358.17" y="362.97" width="25.5" height="13.06" fill="#38598c"/>
<rect x="383.07" y="362.97" width="25.5" height="13.06" fill="#3a548c"/>
<rect x="407.96" y="362.97" width="25.5" height="13.06" fill="#3b518b"/>
<rect x="432.86" y="362.97" width="25.5" height="13.06" fill="#3c4f8a"/>
<rect x="457.76" y="362.97" width="25.5" height="13.06" fill="#3e4c8a"/>
<rect x="482.65" y="362.97" width="25.5" height="13.06" fill="#3f4889"/>
<rect x="507.55" y="362.97" width="25.5" height="13.06" fill="#404588"/>
<rect x="532.45" y="362.97" width="25.5" height="13.06" fill="#414487"/>
<rect x="557.34" y="362.97" width="25.5" height="13.06" fill="#424086"/>
<rect x="582.24" y="362.97" width="25.5" height="13.06" fill="#433e85"/>
<rect x="607.14" y="362.97" width="25.5" height="13.06" fill="#443a83"/>
<rect x="632.04" y="362.97" width="25.5" height="13.06" fill="#443983"/>
<rect x="656.93" y="362.97" width="25.5" height="13.06" fill="#453882"/>
<rect x="681.83" y="362.97" width="25.5" height="13.06" fill="#463480"/>
<rect x="706.73" y="362.97" width="25.5" height="13.06" fill="#46337f"/>
<rect x="731.62" y="362.97" width="25.5" height="13.06" fill="#46327e"/>
<rect x="756.52" y="362.97" width="25.5" height="13.06" fill="#472f7d"/>
<rect x="781.42" y="362.97" width="25.5" height="13.06" fill="#472d7b"/>
<rect x="806.31" y="362.97" width="25.5" height="13.06" fill="#472c7a"/>
<rect x="831.21" y="362.97" width="50.39" height="13.06" fill="#472a7a"/>
<rect x="881.01" y="362.97" width="50.39" height="13.06" fill="#482878"/>
<rect x="930.8" y="362.97" width="25.5" height="13.06" fill="#482677"/>
<rect x="955.7" y="362.97" width="25.5" height="13.06" fill="#482374"/>
<rect x="980.59" y="362.97" width="25.5" height="13.06" fill="#482475"/>
<rect x="1005.49" y="362.97" width="25.5" height="13.06" fill="#482173"/>
<rect x="1030.39" y="362.97" width="50.39" height="13.06" fill="#482071"/>
<rect x="1080.18" y="362.97" width="50.39" height="13.06" fill="#481f70"/>
<rect x="1129.98" y="362.97" width="25.5" height="13.06" fill="#481d6f"/>
<rect x="1154.87" y="362.97" width="75.29" height="13.06" fill="#481b6d"/>
<rect x="1229.56" y="362.97" width="25.5" height="13.06" fill="#48186a"/>
<rect x="1254.46" y="362.97" width="25.5" height="13.06" fill="#471063"/>
<rect x="1279.36" y="362.97" width="25.5" height="13.06" fill="#471164"/>
<rect x="1304.25" y="362.97" width="25.5" height="13.06" fill="#470d60"/>
<rect x="1329.15" y="362.97" width="25.5" height="13.06" fill="#440154"/>
<rect x="84.3" y="375.43" width="25.5" height="13.06" fill="#f8e621"/>
<rect x="109.2" y="375.43" width="25.5" height="13.06" fill="#4cc26c"/>
<rect x="134.1" y="375.43" width="25.5" height="13.06" fill="#1f9a8a"/>
<rect x="158.99" y="375.43" width="25.5" height="13.06" fill="#238a8d"/>
<rect x="183.89" y="375.43" width="25.5" height="13.06" fill="#277e8e"/>
<rect x="208.79" y="375.43" width="25.5" height="13.06" fill="#2b748e"/>
<rect x="233.68" y="375.43" width="25.5" height="13.06" fill="#2e6f8e"/>
<rect x="258.58" y="375.43" width="25.5" height="13.06" fill="#31688e"/>
<rect x="283.48" y="375.43" width="25.5" height="13.06" fill="#33638d"/>
<rect x="308.37" y="375.43" width="25.5" height="13.06" fill="#355e8d"/>
<rect x="333.27" y="375.43" width="25.5" height="13.06" fill="#375a8c"/>
<rect x="358.17" y="375.43" width="25.5" height="13.06" fill="#39558c"/>
<rect x="383.07" y="375.43" width="25.5" height="13.06" fill="#3b528b"/>
<rect x="407.96" y="375.43" width="25.5" height="13.06" fill="#3d4e8a"/>
<rect x="432.86" y="375.43" width="25.5" height="13.06" fill="#3e4c8a"/>
<rect x="457.76" y="375.43" width="25.5" height="13.06" fill="#3f4889"/>
<rect x="482.65" y="375.43" width="25.5" height="13.06" fill="#404588"/>
<rect x="507.55" y="375.43" width="25.5" height="13.06" fill="#414287"/>
<rect x="532.45" y="375.43" width="25.5" height="13.06" fill="#424186"/>
<rect x="557.34" y="375.43" width="25.5" height="13.06" fill="#423f85"/>
<rect x="582.24" y="375.43" width="25.5" height="13.06" fill="#443b84"/>
<rect x="607.14" y="375.43" width="25.5" height="13.06" fill="#443a83"/>
<rect x="632.04" y="375.43" width="25.5" height="13.06" fill="#453882"/>
<rect x="656.93" y="375.43" width="25.5" height="13.06" fill="#453781"/>
<rect x="681.83" y="375.43" width="25.5" height="13.06" fill="#453581"/>
<rect x="706.73" y="375.43" width="25.5" height="13.06" fill="#46307e"/>
<rect x="731.62" y="375.43" width="50.39" height="13.06" fill="#472f7d"/>
<rect x="781.42" y="375.43" width="25.5" height="13.06" fill="#472e7c"/>
<rect x="806.31" y="375.43" width="25.5" height="13.06" fill="#472d7b"/>
<rect x="831.21" y="375.43" width="25.5" height="13.06" fill="#482677"/>
<rect x="856.11" y="375.43" width="25.5" height="13.06" fill="#482878"/>
<rect x="881.01" y="375.43" width="25.5" height="13.06" fill="#482374"/>
<rect x="905.9" y="375.43" width="25.5" height="13.06" fill="#482576"/>
<rect x="930.8" y="375.43" width="25.5" height="13.06" fill="#482475"/>
<rect x="955.7" y="375.43" width="25.5" height="13.06" fill="#482374"/>
<rect x="980.59" y="375.43" width="50.39" height="13.06" fill="#482173"/>
<rect x="1030.39" y="375.43" width="50.39" height="13.06" fill="#481f70"/>
<rect x="1080.18" y="375.43" width="25.5" height="13.06" fill="#481d6f"/>
<rect x="1105.08" y="375.43" width="25.5" height="13.06" fill="#481c6e"/>
<rect x="1129.98" y="375.43" width="25.5" height="13.06" fill="#481b6d"/>
<rect x="1154.87" y="375.43" width="25.5" height="13.06" fill="#481a6c"/>
<rect x="1179.77" y="375.43" width="25.5" height="13.06" fill="#481769"/>
<rect x="1204.67" y="375.43" width="25.5" height="13.06" fill="#48186a"/>
<rect x="1229.56" y="375.43" width="25.5" height="13.06" fill="#481668"/>
<rect x="1254.46" y="375.43" width="25.5" height="13.06" fill="#471164"/>
<rect x="1279.36" y="375.43" width="25.5" height="13.06" fill="#471063"/>
<rect x="1304.25" y="375.43" width="25.5" height="13.06" fill="#470d60"/>
<rect x="1329.15" y="375.43" width="25.5" height="13.06" fill="#440154"/>
<rect x="84.3" y="387.9" width="25.5" height="13.06" fill="#fbe723"/>
<rect x="109.2" y="387.9" width="25.5" height="13.06" fill="#46c06f"/>
<rect x="134.1" y="387.9" width="25.5" height="13.06" fill="#1f988b"/>
<rect x="158.99" y="387.9" width="25.5" height="13.06" fill="#24878e"/>
<rect x="183.89" y="387.9" width="25.5" height="13.06" fill="#287c8e"/>
<rect x="208.79" y="387.9" width="25.5" height="13.06" fill="#2c738e"/>
<rect x="233.68" y="387.9" width="25.5" height="13.06" fill="#2e6d8e"/>
<rect x="258.58" y="387.9" width="25.5" height="13.06" fill="#31678e"/>
<rect x="283.48" y="387.9" width="25.5" height="13.06" fill="#34618d"/>
<rect x="308.37" y="387.9" width="25.5" height="13.06" fill="#365d8d"/>
<rect x="333.27" y="387.9" width="25.5" height="13.06" fill="#38588c"/>
<rect x="358.17" y="387.9" width="25.5" height="13.06" fill="#3a538b"/>
<rect x="383.07" y="387.9" width="25.5" height="13.06" fill="#3c508b"/>
<rect x="407.96" y="387.9" width="25.5" height="13.06" fill="#3d4d8a"/>
<rect x="432.86" y="387.9" width="25.5" height="13.06" fill="#3e4989"/>
<rect x="457.76" y="387.9" width="25.5" height="13.06" fill="#3f4788"/>
<rect x="482.65" y="387.9" width="25.5" height="13.06" fill="#414287"/>
<rect x="507.55" y="387.9" width="25.5" height="13.06" fill="#424086"/>
<rect x="532.45" y="387.9" width="25.5" height="13.06" fill="#423f85"/>
<rect x="557.34" y="387.9" width="25.5" height="13.06" fill="#443b84"/>
<rect x="582.24" y="387.9" width="25.5" height="13.06" fill="#443a83"/>
<rect x="607.14" y="387.9" width="50.39" height="13.06" fill="#453781"/>
<rect x="656.93" y="387.9" width="25.5" height="13.06" fill="#463480"/>
<rect x="681.83" y="387.9" width="25.5" height="13.06" fill="#46327e"/>
<rect x="706.73" y="387.9" width="25.5" height="13.06" fill="#472e7c"/>
<rect x="731.62" y="387.9" width="25.5" height="13.06" fill="#472d7b"/>
<rect x="756.52" y="387.9" width="25.5" height="13.06" fill="#472c7a"/>
<rect x="781.42" y="387.9" width="25.5" height="13.06" fill="#472a7a"/>
<rect x="806.31" y="387.9" width="25.5" height="13.06" fill="#482878"/>
<rect x="831.21" y="387.9" width="25.5" height="13.06" fill="#482677"/>
<rect x="856.11" y="387.9" width="50.39" height="13.06" fill="#482576"/>
<rect x="905.9" y="387.9" width="50.39" height="13.06" fill="#482071"/>
<rect x="955.7" y="387.9" width="50.39" height="13.06" fill="#481d6f"/>
<rect x="1005.49" y="387.9" width="25.5" height="13.06" fill="#481b6d"/>
<rect x="1030.39" y="387.9" width="25.5" height="13.06" fill="#481d6f"/>
<rect x="1055.28" y="387.9" width="25.5" height="13.06" fill="#481c6e"/>
<rect x="1080.18" y="387.9" width="25.5" height="13.06" fill="#481a6c"/>
<rect x="1105.08" y="387.9" width="75.29" height="13.06" fill="#48186a"/>
<rect x="1179.77" y="387.9" width="25.5" height="13.06" fill="#481769"/>
<rect x="1204.67" y="387.9" width="50.39" height="13.06" fill="#481467"/>
<rect x="1254.46" y="387.9" width="25.5" height="13.06" fill="#470e61"/>
<rect x="1279.36" y="387.9" width="25.5" height="13.06" fill="#471063"/>
<rect x="1304.25" y="387.9" width="25.5" height="13.06" fill="#46075a"/>
<rect x="1329.15" y="387.9" width="25.5" height="13.06" fill="#440154"/>
<rect x="84.3" y="400.36" width="25.5" height="13.06" fill="#fbe723"/>
<rect x="109.2" y="400.36" width="25.5" height="13.06" fill="#40bd72"/>
<rect x="134.1" y="400.36" width="25.5" height="13.06" fill="#1f968b"/>
<rect x="158.99" y="400.36" width="25.5" height="13.06" fill="#24868e"/>
<rect x="183.89" y="400.36" width="25.5" height="13.06" fill="#297a8e"/>
<rect x="208.79" y="400.36" width="25.5" height="13.06" fill="#2c728e"/>
<rect x="233.68" y="400.36" width="25.5" height="13.06" fill="#2f6b8e"/>
<rect x="258.58" y="400.36" width="25.5" height="13.06" fill="#32658e"/>
<rect x="283.48" y="400.36" width="25.5" height="13.06" fill="#34608d"/>
<rect x="308.37" y="400.36" width="25.5" height="13.06" fill="#375b8d"/>
<rect x="333.27" y="400.36" width="25.5" height="13.06" fill="#39568c"/>
<rect x="358.17" y="400.36" width="25.5" height="13.06" fill="#3b518b"/>
<rect x="383.07" y="400.36" width="25.5" height="13.06" fill="#3c4f8a"/>
<rect x="407.96" y="400.36" width="25.5" height="13.06" fill="#3e4a89"/>
<rect x="432.86" y="400.36" width="25.5" height="13.06" fill="#3f4788"/>
<rect x="457.76" y="400.36" width="25.5" height="13.06" fill="#404588"/>
<rect x="482.65" y="400.36" width="25.5" height="13.06" fill="#424086"/>
<rect x="507.55" y="400.36" width="25.5" height="13.06" fill="#423f85"/>
<rect x="532.45" y="400.36" width="25.5" height="13.06" fill="#433d84"/>
<rect x="557.34" y="400.36" width="25.5" height="13.06" fill="#443983"/>
<rect x="582.24" y="400.36" width="25.5" height="13.06" fill="#453882"/>
<rect x="607.14" y="400.36" width="25.5" height="13.06" fill="#463480"/>
<rect x="632.04" y="400.36" width="25.5" height="13.06" fill="#46337f"/>
<rect x="656.93" y="400.36" width="25.5" height="13.06" fill="#46307e"/>
<rect x="681.83" y="400.36" width="50.39" height="13.06" fill="#472f7d"/>
<rect x="731.62" y="400.36" width="25.5" height="13.06" fill="#472c7a"/>
<rect x="756.52" y="400.36" width="25.5" height="13.06" fill="#482979"/>
<rect x="781.42" y="400.36" width="25.5" height="13.06" fill="#482878"/>
<rect x="806.31" y="400.36" width="50.39" height="13.06" fill="#482576"/>
<rect x="856.11" y="400.36" width="25.5" height="13.06" fill="#482475"/>
<rect x="881.01" y="400.36" width="25.5" height="13.06" fill="#482374"/>
<rect x="905.9" y="400.36" width="25.5" height="13.06" fill="#482173"/>
<rect x="930.8" y="400.36" width="75.29" height="13.06" fill="#481f70"/>
<rect x="1005.49" y="400.36" width="50.39" height="13.06" fill="#481b6d"/>
<rect x="1055.28" y="400.36" width="25.5" height="13.06" fill="#481a6c"/>
<rect x="1080.18" y="400.36" width="25.5" height="13.06" fill="#481b6d"/>
<rect x="1105.08" y="400.36" width="25.5" height="13.06" fill="#481a6c"/>
<rect x="1129.98" y="400.36" width="50.39" height="13.06" fill="#481668"/>
<rect x="1179.77" y="400.36" width="50.39" height="13.06" fill="#471365"/>
<rect x="1229.56" y="400.36" width="25.5" height="13.06" fill="#471164"/>
<rect x="1254.46" y="400.36" width="25.5" height="13.06" fill="#471063"/>
<rect x="1279.36" y="400.36" width="25.5" height="13.06" fill="#470e61"/>
<rect x="1304.25" y="400.36" width="25.5" height="13.06" fill="#460b5e"/>
<rect x="1329.15" y="400.36" width="25.5" height="13.06" fill="#440154"/>
<rect x="84.3" y="412.83" width="25.5" height="13.06" fill="#fde725"/>
<rect x="109.2" y="412.83" width="25.5" height="13.06" fill="#3bbb75"/>
<rect x="134.1" y="412.83" width="25.5" height="13.06" fill="#1f958b"/>
<rect x="158.99" y="412.83" width="25.5" height="13.06" fill="#25848e"/>
<rect x="183.89" y="412.83" width="25.5" height="13.06" fill="#29798e"/>
<rect x="208.79" y="412.83" width="25.5" height="13.06" fill="#2d718e"/>
<rect x="233.68" y="412.83" width="25.5" height="13.06" fill="#306a8e"/>
<rect x="258.58" y="412.83" width="25.5" height="13.06" fill="#33638d"/>
<rect x="283.48" y="412.83" width="25.5" height="13.06" fill="#355e8d"/>
<rect x="308.37" y="412.83" width="25.5" height="13.06" fill="#38598c"/>
<rect x="333.27" y="412.83" width="25.5" height="13.06" fill="#3a548c"/>
<rect x="358.17" y="412.83" width="25.5" height="13.06" fill="#3b518b"/>
<rect x="383.07" y="412.83" width="25.5" height="13.06" fill="#3d4d8a"/>
<rect x="407.96" y="412.83" width="25.5" height="13.06" fill="#3f4889"/>
<rect x="432.86" y="412.83" width="25.5" height="13.06" fill="#3f4788"/>
<rect x="457.76" y="412.83" width="25.5" height="13.06" fill="#414487"/>
<rect x="482.65" y="412.83" width="25.5" height="13.06" fill="#424186"/>
<rect x="507.55" y="412.83" width="25.5" height="13.06" fill="#433e85"/>
<rect x="532.45" y="412.83" width="25.5" height="13.06" fill="#443b84"/>
<rect x="557.34" y="412.83" width="25.5" height="13.06" fill="#453882"/>
<rect x="582.24" y="412.83" width="50.39" height="13.06" fill="#453581"/>
<rect x="632.04" y="412.83" width="25.5" height="13.06" fill="#46307e"/>
<rect x="656.93" y="412.83" width="25.5" height="13.06" fill="#472f7d"/>
<rect x="681.83" y="412.83" width="25.5" height="13.06" fill="#472d7b"/>
<rect x="706.73" y="412.83" width="25.5" height="13.06" fill="#472e7c"/>
<rect x="731.62" y="412.83" width="25.5" height="13.06" fill="#472c7a"/>
<rect x="756.52" y="412.83" width="25.5" height="13.06" fill="#482878"/>
<rect x="781.42" y="412.83" width="25.5" height="13.06" fill="#482677"/>
<rect x="806.31" y="412.83" width="50.39" height="13.06" fill="#482576"/>
<rect x="856.11" y="412.83" width="25.5" height="13.06" fill="#482071"/>
<rect x="881.01" y="412.83" width="25.5" height="13.06" fill="#482173"/>
<rect x="905.9" y="412.83" width="25.5" height="13.06" fill="#481f70"/>
<rect x="930.8" y="412.83" width="25.5" height="13.06" fill="#481d6f"/>
<rect x="955.7" y="412.83" width="50.39" height="13.06" fill="#481c6e"/>
<rect x="1005.49" y="412.83" width="25.5" height="13.06" fill="#481d6f"/>
<rect x="1030.39" y="412.83" width="50.39" height="13.06" fill="#481a6c"/>
<rect x="1080.18" y="412.83" width="75.29" height="13.06" fill="#481769"/>
<rect x="1154.87" y="412.83" width="50.39" height="13.06" fill="#471365"/>
<rect x="1204.67" y="412.83" width="25.5" height="13.06" fill="#481467"/>
<rect x="1229.56" y="412.83" width="50.39" height="13.06" fill="#470e61"/>
<rect x="1279.36" y="412.83" width="25.5" height="13.06" fill="#470d60"/>
<rect x="1304.25" y="412.83" width="25.5" height="13.06" fill="#46085c"/>
<rect x="1329.15" y="412.83" width="25.5" height="13.06" fill="#440154"/>
<rect x="84.3" y="425.29" width="25.5" height="13.06" fill="#fde725"/>
<rect x="109.2" y="425.29" width="25.5" height="13.06" fill="#38b977"/>
<rect x="134.1" y="425.29" width="25.5" height="13.06" fill="#20938c"/>
<rect x="158.99" y="425.29" width="25.5" height="13.06" fill="#25838e"/>
<rect x="183.89" y="425.29" width="25.5" height="13.06" fill="#2a788e"/>
<rect x="208.79" y="425.29" width="25.5" height="13.06" fill="#2d708e"/>
<rect x="233.68" y="425.29" width="25.5" height="13.06" fill="#30698e"/>
<rect x="258.58" y="425.29" width="25.5" height="13.06" fill="#33638d"/>
<rect x="283.48" y="425.29" width="25.5" height="13.06" fill="#365d8d"/>
<rect x="308.37" y="425.29" width="25.5" height="13.06" fill="#38588c"/>
<rect x="333.27" y="425.29" width="25.5" height="13.06" fill="#3a538b"/>
<rect x="358.17" y="425.29" width="25.5" height="13.06" fill="#3c4f8a"/>
<rect x="383.07" y="425.29" width="25.5" height="13.06" fill="#3e4c8a"/>
<rect x="407.96" y="425.29" width="25.5" height="13.06" fill="#3f4889"/>
<rect x="432.86" y="425.29" width="25.5" height="13.06" fill="#414487"/>
<rect x="457.76" y="425.29" width="25.5" height="13.06" fill="#424186"/>
<rect x="482.65" y="425.29" width="25.5" height="13.06" fill="#433e85"/>
<rect x="507.55" y="425.29" width="50.39" height="13.06" fill="#443a83"/>
<rect x="557.34" y="425.29" width="50.39" height="13.06" fill="#453781"/>
<rect x="607.14" y="425.29" width="25.5" height="13.06" fill="#463480"/>
<rect x="632.04" y="425.29" width="25.5" height="13.06" fill="#472f7d"/>
<rect x="656.93" y="425.29" width="25.5" height="13.06" fill="#472c7a"/>
<rect x="681.83" y="425.29" width="25.5" height="13.06" fill="#472f7d"/>
<rect x="706.73" y="425.29" width="25.5" height="13.06" fill="#472a7a"/>
<rect x="731.62" y="425.29" width="50.39" height="13.06" fill="#482878"/>
<rect x="781.42" y="425.29" width="25.5" height="13.06" fill="#482576"/>
<rect x="806.31" y="425.29" width="25.5" height="13.06" fill="#482374"/>
<rect x="831.21" y="425.29" width="50.39" height="13.06" fill="#482173"/>
<rect x="881.01" y="425.29" width="25.5" height="13.06" fill="#482071"/>
<rect x="905.9" y="425.29" width="25.5" height="13.06" fill="#481f70"/>
<rect x="930.8" y="425.29" width="25.5" height="13.06" fill="#481c6e"/>
<rect x="955.7" y="425.29" width="50.39" height="13.06" fill="#481b6d"/>
<rect x="1005.49" y="425.29" width="50.39" height="13.06" fill="#481a6c"/>
<rect x="1055.28" y="425.29" width="25.5" height="13.06" fill="#481769"/>
<rect x="1080.18" y="425.29" width="25.5" height="13.06" fill="#481668"/>
<rect x="1105.08" y="425.29" width="25.5" height="13.06" fill="#481467"/>
<rect x="1129.98" y="425.29" width="25.5" height="13.06" fill="#481769"/>
<rect x="1154.87" y="425.29" width="25.5" height="13.06" fill="#471164"/>
<rect x="1179.77" y="425.29" width="25.5" height="13.06" fill="#471365"/>
<rect x="1204.67" y="425.29" width="50.39" height="13.06" fill="#471063"/>
<rect x="1254.46" y="425.29" width="25.5" height="13.06" fill="#470e61"/>
<rect x="1279.36" y="425.29" width="50.39" height="13.06" fill="#460a5d"/>
<rect x="1329.15" y="425.29" width="25.5" height="13.06" fill="#440154"/>
<rect x="84.3" y="437.76" width="25.5" height="13.06" fill="#fde725"/>
<rect x="109.2" y="437.76" width="25.5" height="13.06" fill="#34b679"/>
<rect x="134.1" y="437.76" width="25.5" height="13.06" fill="#20928c"/>
<rect x="158.99" y="437.76" width="25.5" height="13.06" fill="#26828e"/>
<rect x="183.89" y="437.76" width="25.5" height="13.06" fill="#2a788e"/>
<rect x="208.79" y="437.76" width="25.5" height="13.06" fill="#2e6f8e"/>
<rect x="233.68" y="437.76" width="25.5" height="13.06" fill="#31688e"/>
<rect x="258.58" y="437.76" width="25.5" height="13.06" fill="#34618d"/>
<rect x="283.48" y="437.76" width="25.5" height="13.06" fill="#365c8d"/>
<rect x="308.37" y="437.76" width="25.5" height="13.06" fill="#38588c"/>
<rect x="333.27" y="437.76" width="25.5" height="13.06" fill="#3b528b"/>
<rect x="358.17" y="437.76" width="25.5" height="13.06" fill="#3d4e8a"/>
<rect x="383.07" y="437.76" width="25.5" height="13.06" fill="#3e4a89"/>
<rect x="407.96" y="437.76" width="25.5" height="13.06" fill="#404688"/>
<rect x="432.86" y="437.76" width="25.5" height="13.06" fill="#404588"/>
<rect x="457.76" y="437.76" width="25.5" height="13.06" fill="#424186"/>
<rect x="482.65" y="437.76" width="25.5" height="13.06" fill="#433e85"/>
<rect x="507.55" y="437.76" width="25.5" height="13.06" fill="#443b84"/>
<rect x="532.45" y="437.76" width="25.5" height="13.06" fill="#443983"/>
<rect x="557.34" y="437.76" width="25.5" height="13.06" fill="#453882"/>
<rect x="582.24" y="437.76" width="25.5" height="13.06" fill="#46337f"/>
<rect x="607.14" y="437.76" width="25.5" height="13.06" fill="#46307e"/>
<rect x="632.04" y="437.76" width="50.39" height="13.06" fill="#472e7c"/>
<rect x="681.83" y="437.76" width="25.5" height="13.06" fill="#472a7a"/>
<rect x="706.73" y="437.76" width="50.39" height="13.06" fill="#482878"/>
<rect x="756.52" y="437.76" width="25.5" height="13.06" fill="#482677"/>
<rect x="781.42" y="437.76" width="25.5" height="13.06" fill="#482576"/>
<rect x="806.31" y="437.76" width="25.5" height="13.06" fill="#482475"/>
<rect x="831.21" y="437.76" width="25.5" height="13.06" fill="#482071"/>
<rect x="856.11" y="437.76" width="50.39" height="13.06" fill="#481f70"/>
<rect x="905.9" y="437.76" width="50.39" height="13.06" fill="#481c6e"/>
<rect x="955.7" y="437.76" width="25.5" height="13.06" fill="#481b6d"/>
<rect x="980.59" y="437.76" width="25.5" height="13.06" fill="#481a6c"/>
<rect x="1005.49" y="437.76" width="25.5" height="13.06" fill="#481769"/>
<rect x="1030.39" y="437.76" width="25.5" height="13.06" fill="#481668"/>
<rect x="1055.28" y="437.76" width="25.5" height="13.06" fill="#48186a"/>
<rect x="1080.18" y="437.76" width="25.5" height="13.06" fill="#481467"/>
<rect x="1105.08" y="437.76" width="25.5" height="13.06" fill="#481668"/>
<rect x="1129.98" y="437.76" width="25.5" height="13.06" fill="#481467"/>
<rect x="1154.87" y="437.76" width="25.5" height="13.06" fill="#471365"/>
<rect x="1179.77" y="437.76" width="25.5" height="13.06" fill="#471063"/>
<rect x="1204.67" y="437.76" width="25.5" height="13.06" fill="#471164"/>
<rect x="1229.56" y="437.76" width="25.5" height="13.06" fill="#470e61"/>
<rect x="1254.46" y="437.76" width="25.5" height="13.06" fill="#470d60"/>
<rect x="1279.36" y="437.76" width="25.5" height="13.06" fill="#460b5e"/>
<rect x="1304.25" y="437.76" width="25.5" height="13.06" fill="#460a5d"/>
<rect x="1329.15" y="437.76" width="25.5" height="13.06" fill="#440154"/>
<rect x="84.3" y="450.22" width="25.5" height="13.06" fill="#fde725"/>
<rect x="109.2" y="450.22" width="25.5" height="13.06" fill="#31b57b"/>
<rect x="134.1" y="450.22" width="25.5" height="13.06" fill="#20928c"/>
<rect x="158.99" y="450.22" width="25.5" height="13.06" fill="#26828e"/>
<rect x="183.89" y="450.22" width="25.5" height="13.06" fill="#2a768e"/>
<rect x="208.79" y="450.22" width="25.5" height="13.06" fill="#2e6e8e"/>
<rect x="233.68" y="450.22" width="25.5" height="13.06" fill="#31678e"/>
<rect x="258.58" y="450.22" width="25.5" height="13.06" fill="#34618d"/>
<rect x="283.48" y="450.22" width="25.5" height="13.06" fill="#375b8d"/>
<rect x="308.37" y="450.22" width="25.5" height="13.06" fill="#39568c"/>
<rect x="333.27" y="450.22" width="25.5" height="13.06" fill="#3b528b"/>
<rect x="358.17" y="450.22" width="25.5" height="13.06" fill="#3d4e8a"/>
<rect x="383.07" y="450.22" width="25.5" height="13.06" fill="#3e4a89"/>
<rect x="407.96" y="450.22" width="25.5" height="13.06" fill="#404688"/>
<rect x="432.86" y="450.22" width="25.5" height="13.06" fill="#414287"/>
<rect x="457.76" y="450.22" width="50.39" height="13.06" fill="#423f85"/>
<rect x="507.55" y="450.22" width="25.5" height="13.06" fill="#443a83"/>
<rect x="532.45" y="450.22" width="25.5" height="13.06" fill="#453882"/>
<rect x="557.34" y="450.22" width="25.5" height="13.06" fill="#46337f"/>
<rect x="582.24" y="450.22" width="25.5" height="13.06" fill="#46327e"/>
<rect x="607.14" y="450.22" width="25.5" height="13.06" fill="#46307e"/>
<rect x="632.04" y="450.22" width="25.5" height="13.06" fill="#472f7d"/>
<rect x="656.93" y="450.22" width="25.5" height="13.06" fill="#472d7b"/>
<rect x="681.83" y="450.22" width="25.5" height="13.06" fill="#472a7a"/>
<rect x="706.73" y="450.22" width="25.5" height="13.06" fill="#482677"/>
<rect x="731.62" y="450.22" width="25.5" height="13.06" fill="#482878"/>
<rect x="756.52" y="450.22" width="25.5" height="13.06" fill="#482475"/>
<rect x="781.42" y="450.22" width="25.5" height="13.06" fill="#482576"/>
<rect x="806.31" y="450.22" width="25.5" height="13.06" fill="#482475"/>
<rect x="831.21" y="450.22" width="25.5" height="13.06" fill="#482173"/>
<rect x="856.11" y="450.22" width="25.5" height="13.06" fill="#482071"/>
<rect x="881.01" y="450.22" width="25.5" height="13.06" fill="#481c6e"/>
<rect x="905.9" y="450.22" width="25.5" height="13.06" fill="#482071"/>
<rect x="930.8" y="450.22" width="25.5" height="13.06" fill="#481c6e"/>
<rect x="955.7" y="450.22" width="25.5" height="13.06" fill="#481b6d"/>
<rect x="980.59" y="450.22" width="50.39" height="13.06" fill="#48186a"/>
<rect x="1030.39" y="450.22" width="50.39" height="13.06" fill="#481668"/>
<rect x="1080.18" y="450.22" width="75.29" height="13.06" fill="#481467"/>
<rect x="1154.87" y="450.22" width="25.5" height="13.06" fill="#471365"/>
<rect x="1179.77" y="450.22" width="25.5" height="13.06" fill="#471164"/>
<rect x="1204.67" y="450.22" width="25.5" height="13.06" fill="#471063"/>
<rect x="1229.56" y="450.22" width="25.5" height="13.06" fill="#471164"/>
<rect x="1254.46" y="450.22" width="50.39" height="13.06" fill="#470d60"/>
<rect x="1304.25" y="450.22" width="25.5" height="13.06" fill="#46075a"/>
<rect x="1329.15" y="450.22" width="25.5" height="13.06" fill="#440154"/>
<rect x="84.3" y="462.69" width="25.5" height="13.06" fill="#fde725"/>
<rect x="109.2" y="462.69" width="25.5" height="13.06" fill="#2eb37c"/>
<rect x="134.1" y="462.69" width="25.5" height="13.06" fill="#20928c"/>
<rect x="158.99" y="462.69" width="25.5" height="13.06" fill="#26828e"/>
<rect x="183.89" y="462.69" width="25.5" height="13.06" fill="#2b758e"/>
<rect x="208.79" y="462.69" width="25.5" height="13.06" fill="#2e6d8e"/>
<rect x="233.68" y="462.69" width="25.5" height="13.06" fill="#31668e"/>
<rect x="258.58" y="462.69" width="25.5" height="13.06" fill="#34618d"/>
<rect x="283.48" y="462.69" width="25.5" height="13.06" fill="#375b8d"/>
<rect x="308.37" y="462.69" width="25.5" height="13.06" fill="#39558c"/>
<rect x="333.27" y="462.69" width="25.5" height="13.06" fill="#3b518b"/>
<rect x="358.17" y="462.69" width="25.5" height="13.06" fill="#3d4d8a"/>
<rect x="383.07" y="462.69" width="25.5" height="13.06" fill="#3f4889"/>
<rect x="407.96" y="462.69" width="25.5" height="13.06" fill="#404588"/>
<rect x="432.86" y="462.69" width="25.5" height="13.06" fill="#414287"/>
<rect x="457.76" y="462.69" width="25.5" height="13.06" fill="#424086"/>
<rect x="482.65" y="462.69" width="25.5" height="13.06" fill="#443b84"/>
<rect x="507.55" y="462.69" width="25.5" height="13.06" fill="#443983"/>
<rect x="532.45" y="462.69" width="25.5" height="13.06" fill="#453882"/>
<rect x="557.34" y="462.69" width="25.5" height="13.06" fill="#463480"/>
<rect x="582.24" y="462.69" width="25.5" height="13.06" fill="#46327e"/>
<rect x="607.14" y="462.69" width="25.5" height="13.06" fill="#46307e"/>
<rect x="632.04" y="462.69" width="25.5" height="13.06" fill="#472e7c"/>
<rect x="656.93" y="462.69" width="25.5" height="13.06" fill="#472c7a"/>
<rect x="681.83" y="462.69" width="25.5" height="13.06" fill="#482979"/>
<rect x="706.73" y="462.69" width="25.5" height="13.06" fill="#482878"/>
<rect x="731.62" y="462.69" width="25.5" height="13.06" fill="#482677"/>
<rect x="756.52" y="462.69" width="25.5" height="13.06" fill="#482475"/>
<rect x="781.42" y="462.69" width="25.5" height="13.06" fill="#482576"/>
<rect x="806.31" y="462.69" width="25.5" height="13.06" fill="#482374"/>
<rect x="831.21" y="462.69" width="50.39" height="13.06" fill="#482173"/>
<rect x="881.01" y="462.69" width="25.5" height="13.06" fill="#481f70"/>
<rect x="905.9" y="462.69" width="25.5" height="13.06" fill="#481d6f"/>
<rect x="930.8" y="462.69" width="25.5" height="13.06" fill="#481b6d"/>
<rect x="955.7" y="462.69" width="25.5" height="13.06" fill="#481a6c"/>
<rect x="980.59" y="462.69" width="25.5" height="13.06" fill="#481b6d"/>
<rect x="1005.49" y="462.69" width="25.5" height="13.06" fill="#481769"/>
<rect x="1030.39" y="462.69" width="25.5" height="13.06" fill="#481668"/>
<rect x="1055.28" y="462.69" width="100.19" height="13.06" fill="#481467"/>
<rect x="1154.87" y="462.69" width="25.5" height="13.06" fill="#471164"/>
<rect x="1179.77" y="462.69" width="25.5" height="13.06" fill="#470e61"/>
<rect x="1204.67" y="462.69" width="50.39" height="13.06" fill="#471063"/>
<rect x="1254.46" y="462.69" width="25.5" height="13.06" fill="#470d60"/>
<rect x="1279.36" y="462.69" width="50.39" height="13.06" fill="#460b5e"/>
<rect x="1329.15" y="462.69" width="25.5" height="13.06" fill="#440154"/>
<rect x="84.3" y="475.15" width="25.5" height="13.06" fill="#fde725"/>
<rect x="109.2" y="475.15" width="25.5" height="13.06" fill="#2cb17e"/>
<rect x="134.1" y="475.15" width="25.5" height="13.06" fill="#21918c"/>
<rect x="158.99" y="475.15" width="25.5" height="13.06" fill="#26818e"/>
<rect x="183.89" y="475.15" width="25.5" height="13.06" fill="#2b758e"/>
<rect x="208.79" y="475.15" width="25.5" height="13.06" fill="#2e6d8e"/>
<rect x="233.68" y="475.15" width="25.5" height="13.06" fill="#31668e"/>
<rect x="258.58" y="475.15" width="25.5" height="13.06" fill="#34608d"/>
<rect x="283.48" y="475.15" width="25.5" height="13.06" fill="#375a8c"/>
<rect x="308.37" y="475.15" width="25.5" height="13.06" fill="#39558c"/>
<rect x="333.27" y="475.15" width="25.5" height="13.06" fill="#3b518b"/>
<rect x="358.17" y="475.15" width="25.5" height="13.06" fill="#3d4d8a"/>
<rect x="383.07" y="475.15" width="25.5" height="13.06" fill="#3f4889"/>
<rect x="407.96" y="475.15" width="25.5" height="13.06" fill="#404588"/>
<rect x="432.86" y="475.15" width="25.5" height="13.06" fill="#414287"/>
<rect x="457.76" y="475.15" width="25.5" height="13.06" fill="#423f85"/>
<rect x="482.65" y="475.15" width="25.5" height="13.06" fill="#443a83"/>
<rect x="507.55" y="475.15" width="25.5" height="13.06" fill="#443983"/>
<rect x="532.45" y="475.15" width="25.5" height="13.06" fill="#453781"/>
<rect x="557.34" y="475.15" width="25.5" height="13.06" fill="#453581"/>
<rect x="582.24" y="475.15" width="25.5" height="13.06" fill="#46327e"/>
<rect x="607.14" y="475.15" width="25.5" height="13.06" fill="#472f7d"/>
<rect x="632.04" y="475.15" width="25.5" height="13.06" fill="#472d7b"/>
<rect x="656.93" y="475.15" width="75.29" height="13.06" fill="#482979"/>
<rect x="731.62" y="475.15" width="25.5" height="13.06" fill="#482475"/>
<rect x="756.52" y="475.15" width="25.5" height="13.06" fill="#482374"/>
<rect x="781.42" y="475.15" width="25.5" height="13.06" fill="#482173"/>
<rect x="806.31" y="475.15" width="25.5" height="13.06" fill="#482374"/>
<rect x="831.21" y="475.15" width="50.39" height="13.06" fill="#481f70"/>
<rect x="881.01" y="475.15" width="25.5" height="13.06" fill="#481c6e"/>
<rect x="905.9" y="475.15" width="25.5" height="13.06" fill="#481b6d"/>
<rect x="930.8" y="475.15" width="25.5" height="13.06" fill="#481a6c"/>
<rect x="955.7" y="475.15" width="25.5" height="13.06" fill="#481668"/>
<rect x="980.59" y="475.15" width="25.5" height="13.06" fill="#48186a"/>
<rect x="1005.49" y="475.15" width="25.5" height="13.06" fill="#481769"/>
<rect x="1030.39" y="475.15" width="25.5" height="13.06" fill="#471365"/>
<rect x="1055.28" y="475.15" width="25.5" height="13.06" fill="#481467"/>
<rect x="1080.18" y="475.15" width="25.5" height="13.06" fill="#471365"/>
<rect x="1105.08" y="475.15" width="50.39" height="13.06" fill="#471164"/>
<rect x="1154.87" y="475.15" width="25.5" height="13.06" fill="#470e61"/>
<rect x="1179.77" y="475.15" width="50.39" height="13.06" fill="#471063"/>
<rect x="1229.56" y="475.15" width="25.5" height="13.06" fill="#460b5e"/>
<rect x="1254.46" y="475.15" width="50.39" height="13.06" fill="#470d60"/>
<rect x="1304.25" y="475.15" width="25.5" height="13.06" fill="#460a5d"/>
<rect x="1329.15" y="475.15" width="25.5" height="13.06" fill="#440154"/>
<rect x="84.3" y="487.62" width="25.5" height="13.06" fill="#fde725"/>
<rect x="109.2" y="487.62" width="25.5" height="13.06" fill="#2ab07f"/>
<rect x="134.1" y="487.62" width="25.5" height="13.06" fill="#21908d"/>
<rect x="158.99" y="487.62" width="25.5" height="13.06" fill="#26818e"/>
<rect x="183.89" y="487.62" width="25.5" height="13.06" fill="#2b748e"/>
<rect x="208.79" y="487.62" width="25.5" height="13.06" fill="#2e6d8e"/>
<rect x="233.68" y="487.62" width="25.5" height="13.06" fill="#32658e"/>
<rect x="258.58" y="487.62" width="25.5" height="13.06" fill="#355f8d"/>
<rect x="283.48" y="487.62" width="25.5" height="13.06" fill="#375a8c"/>
<rect x="308.37" y="487.62" width="25.5" height="13.06" fill="#3a548c"/>
<rect x="333.27" y="487.62" width="25.5" height="13.06" fill="#3c508b"/>
<rect x="358.17" y="487.62" width="25.5" height="13.06" fill="#3e4c8a"/>
<rect x="383.07" y="487.62" width="25.5" height="13.06" fill="#3f4889"/>
<rect x="407.96" y="487.62" width="25.5" height="13.06" fill="#404588"/>
<rect x="432.86" y="487.62" width="25.5" height="13.06" fill="#414287"/>
<rect x="457.76" y="487.62" width="25.5" height="13.06" fill="#433e85"/>
<rect x="482.65" y="487.62" width="25.5" height="13.06" fill="#443a83"/>
<rect x="507.55" y="487.62" width="25.5" height="13.06" fill="#453882"/>
<rect x="532.45" y="487.62" width="25.5" height="13.06" fill="#453781"/>
<rect x="557.34" y="487.62" width="25.5" height="13.06" fill="#463480"/>
<rect x="582.24" y="487.62" width="25.5" height="13.06" fill="#46307e"/>
<rect x="607.14" y="487.62" width="25.5" height="13.06" fill="#472e7c"/>
<rect x="632.04" y="487.62" width="50.39" height="13.06" fill="#472c7a"/>
<rect x="681.83" y="487.62" width="25.5" height="13.06" fill="#472a7a"/>
<rect x="706.73" y="487.62" width="25.5" height="13.06" fill="#482475"/>
<rect x="731.62" y="487.62" width="25.5" height="13.06" fill="#482576"/>
<rect x="756.52" y="487.62" width="25.5" height="13.06" fill="#482374"/>
<rect x="781.42" y="487.62" width="25.5" height="13.06" fill="#481f70"/>
<rect x="806.31" y="487.62" width="25.5" height="13.06" fill="#482173"/>
<rect x="831.21" y="487.62" width="25.5" height="13.06" fill="#481f70"/>
<rect x="856.11" y="487.62" width="25.5" height="13.06" fill="#481d6f"/>
<rect x="881.01" y="487.62" width="25.5" height="13.06" fill="#481b6d"/>
<rect x="905.9" y="487.62" width="25.5" height="13.06" fill="#481d6f"/>
<rect x="930.8" y="487.62" width="25.5" height="13.06" fill="#481a6c"/>
<rect x="955.7" y="487.62" width="25.5" height="13.06" fill="#48186a"/>
<rect x="980.59" y="487.62" width="25.5" height="13.06" fill="#481a6c"/>
<rect x="1005.49" y="487.62" width="50.39" height="13.06" fill="#481769"/>
<rect x="1055.28" y="487.62" width="25.5" height="13.06" fill="#481668"/>
<rect x="1080.18" y="487.62" width="25.5" height="13.06" fill="#471063"/>
<rect x="1105.08" y="487.62" width="25.5" height="13.06" fill="#481467"/>
<rect x="1129.98" y="487.62" width="75.29" height="13.06" fill="#471164"/>
<rect x="1204.67" y="487.62" width="25.5" height="13.06" fill="#470d60"/>
<rect x="1229.56" y="487.62" width="25.5" height="13.06" fill="#470e61"/>
<rect x="1254.46" y="487.62" width="25.5" height="13.06" fill="#470d60"/>
<rect x="1279.36" y="487.62" width="50.39" height="13.06" fill="#460b5e"/>
<rect x="1329.15" y="487.62" width="25.5" height="13.06" fill="#440154"/>
<rect x="84.3" y="500.08" width="25.5" height="13.06" fill="#fbe723"/>
<rect x="109.2" y="500.08" width="25.5" height="13.06" fill="#29af7f"/>
<rect x="134.1" y="500.08" width="25.5" height="13.06" fill="#21908d"/>
<rect x="158.99" y="500.08" width="25.5" height="13.06" fill="#26818e"/>
<rect x="183.89" y="500.08" width="25.5" height="13.06" fill="#2b758e"/>
<rect x="208.79" y="500.08" width="25.5" height="13.06" fill="#2f6c8e"/>
<rect x="233.68" y="500.08" width="25.5" height="13.06" fill="#32658e"/>
<rect x="258.58" y="500.08" width="25.5" height="13.06" fill="#355f8d"/>
<rect x="283.48" y="500.08" width="25.5" height="13.06" fill="#375a8c"/>
<rect x="308.37" y="500.08" width="25.5" height="13.06" fill="#3a548c"/>
<rect x="333.27" y="500.08" width="25.5" height="13.06" fill="#3c508b"/>
<rect x="358.17" y="500.08" width="25.5" height="13.06" fill="#3e4c8a"/>
<rect x="383.07" y="500.08" width="25.5" height="13.06" fill="#3f4889"/>
<rect x="407.96" y="500.08" width="25.5" height="13.06" fill="#414287"/>
<rect x="432.86" y="500.08" width="25.5" height="13.06" fill="#424086"/>
<rect x="457.76" y="500.08" width="25.5" height="13.06" fill="#433e85"/>
<rect x="482.65" y="500.08" width="25.5" height="13.06" fill="#443983"/>
<rect x="507.55" y="500.08" width="25.5" height="13.06" fill="#453882"/>
<rect x="532.45" y="500.08" width="25.5" height="13.06" fill="#453581"/>
<rect x="557.34" y="500.08" width="25.5" height="13.06" fill="#46337f"/>
<rect x="582.24" y="500.08" width="25.5" height="13.06" fill="#46307e"/>
<rect x="607.14" y="500.08" width="25.5" height="13.06" fill="#472f7d"/>
<rect x="632.04" y="500.08" width="25.5" height="13.06" fill="#472d7b"/>
<rect x="656.93" y="500.08" width="25.5" height="13.06" fill="#472a7a"/>
<rect x="681.83" y="500.08" width="25.5" height="13.06" fill="#482878"/>
<rect x="706.73" y="500.08" width="25.5" height="13.06" fill="#472a7a"/>
<rect x="731.62" y="500.08" width="25.5" height="13.06" fill="#482677"/>
<rect x="756.52" y="500.08" width="25.5" height="13.06" fill="#482475"/>
<rect x="781.42" y="500.08" width="25.5" height="13.06" fill="#482374"/>
<rect x="806.31" y="500.08" width="50.39" height="13.06" fill="#481f70"/>
<rect x="856.11" y="500.08" width="50.39" height="13.06" fill="#481d6f"/>
<rect x="905.9" y="500.08" width="25.5" height="13.06" fill="#481a6c"/>
<rect x="930.8" y="500.08" width="50.39" height="13.06" fill="#481769"/>
<rect x="980.59" y="500.08" width="25.5" height="13.06" fill="#48186a"/>
<rect x="1005.49" y="500.08" width="25.5" height="13.06" fill="#481a6c"/>
<rect x="1030.39" y="500.08" width="25.5" height="13.06" fill="#481668"/>
<rect x="1055.28" y="500.08" width="50.39" height="13.06" fill="#471365"/>
<rect x="1105.08" y="500.08" width="50.39" height="13.06" fill="#471063"/>
<rect x="1154.87" y="500.08" width="25.5" height="13.06" fill="#470e61"/>
<rect x="1179.77" y="500.08" width="25.5" height="13.06" fill="#470d60"/>
<rect x="1204.67" y="500.08" width="25.5" height="13.06" fill="#470e61"/>
<rect x="1229.56" y="500.08" width="25.5" height="13.06" fill="#470d60"/>
<rect x="1254.46" y="500.08" width="50.39" height="13.06" fill="#460b5e"/>
<rect x="1304.25" y="500.08" width="25.5" height="13.06" fill="#470d60"/>
<rect x="1329.15" y="500.08" width="25.5" height="13.06" fill="#440154"/>
<rect x="84.3" y="512.55" width="25.5" height="13.07" fill="#fbe723"/>
<rect x="109.2" y="512.55" width="25.5" height="13.07" fill="#28ae80"/>
<rect x="134.1" y="512.55" width="25.5" height="13.07" fill="#218f8d"/>
<rect x="158.99" y="512.55" width="25.5" height="13.07" fill="#27808e"/>
<rect x="183.89" y="512.55" width="25.5" height="13.07" fill="#2b748e"/>
<rect x="208.79" y="512.55" width="25.5" height="13.07" fill="#2f6c8e"/>
<rect x="233.68" y="512.55" width="25.5" height="13.07" fill="#32658e"/>
<rect x="258.58" y="512.55" width="25.5" height="13.07" fill="#355f8d"/>
<rect x="283.48" y="512.55" width="25.5" height="13.07" fill="#38598c"/>
<rect x="308.37" y="512.55" width="25.5" height="13.07" fill="#3a548c"/>
<rect x="333.27" y="512.55" width="25.5" height="13.07" fill="#3c508b"/>
<rect x="358.17" y="512.55" width="25.5" height="13.07" fill="#3e4a89"/>
<rect x="383.07" y="512.55" width="25.5" height="13.07" fill="#3f4889"/>
<rect x="407.96" y="512.55" width="25.5" height="13.07" fill="#414487"/>
<rect x="432.86" y="512.55" width="25.5" height="13.07" fill="#423f85"/>
<rect x="457.76" y="512.55" width="25.5" height="13.07" fill="#433d84"/>
<rect x="482.65" y="512.55" width="25.5" height="13.07" fill="#443a83"/>
<rect x="507.55" y="512.55" width="25.5" height="13.07" fill="#453882"/>
<rect x="532.45" y="512.55" width="50.39" height="13.07" fill="#463480"/>
<rect x="582.24" y="512.55" width="25.5" height="13.07" fill="#46307e"/>
<rect x="607.14" y="512.55" width="25.5" height="13.07" fill="#472d7b"/>
<rect x="632.04" y="512.55" width="25.5" height="13.07" fill="#472c7a"/>
<rect x="656.93" y="512.55" width="25.5" height="13.07" fill="#472a7a"/>
<rect x="681.83" y="512.55" width="25.5" height="13.07" fill="#482576"/>
<rect x="706.73" y="512.55" width="75.29" height="13.07" fill="#482475"/>
<rect x="781.42" y="512.55" width="25.5" height="13.07" fill="#482173"/>
<rect x="806.31" y="512.55" width="25.5" height="13.07" fill="#482071"/>
<rect x="831.21" y="512.55" width="25.5" height="13.07" fill="#481d6f"/>
<rect x="856.11" y="512.55" width="25.5" height="13.07" fill="#481a6c"/>
<rect x="881.01" y="512.55" width="25.5" height="13.07" fill="#481b6d"/>
<rect x="905.9" y="512.55" width="25.5" height="13.07" fill="#48186a"/>
<rect x="930.8" y="512.55" width="25.5" height="13.07" fill="#481a6c"/>
<rect x="955.7" y="512.55" width="25.5" height="13.07" fill="#48186a"/>
<rect x="980.59" y="512.55" width="25.5" height="13.07" fill="#481769"/>
<rect x="1005.49" y="512.55" width="50.39" height="13.07" fill="#481668"/>
<rect x="1055.28" y="512.55" width="25.5" height="13.07" fill="#481467"/>
<rect x="1080.18" y="512.55" width="25.5" height="13.07" fill="#471365"/>
<rect x="1105.08" y="512.55" width="25.5" height="13.07" fill="#471164"/>
<rect x="1129.98" y="512.55" width="25.5" height="13.07" fill="#470e61"/>
<rect x="1154.87" y="512.55" width="25.5" height="13.07" fill="#471063"/>
<rect x="1179.77" y="512.55" width="25.5" height="13.07" fill="#471164"/>
<rect x="1204.67" y="512.55" width="25.5" height="13.07" fill="#471063"/>
<rect x="1229.56" y="512.55" width="50.39" height="13.07" fill="#470d60"/>
<rect x="1279.36" y="512.55" width="50.39" height="13.07" fill="#460a5d"/>
<rect x="1329.15" y="512.55" width="25.5" height="13.07" fill="#440154"/>
<rect x="84.3" y="525.01" width="25.5" height="13.07" fill="#fbe723"/>
<rect x="109.2" y="525.01" width="25.5" height="13.07" fill="#27ad81"/>
<rect x="134.1" y="525.01" width="25.5" height="13.07" fill="#218f8d"/>
<rect x="158.99" y="525.01" width="25.5" height="13.07" fill="#27808e"/>
<rect x="183.89" y="525.01" width="25.5" height="13.07" fill="#2b748e"/>
<rect x="208.79" y="525.01" width="25.5" height="13.07" fill="#2f6c8e"/>
<rect x="233.68" y="525.01" width="25.5" height="13.07" fill="#32658e"/>
<rect x="258.58" y="525.01" width="25.5" height="13.07" fill="#355f8d"/>
<rect x="283.48" y="525.01" width="25.5" height="13.07" fill="#38598c"/>
<rect x="308.37" y="525.01" width="25.5" height="13.07" fill="#3a548c"/>
<rect x="333.27" y="525.01" width="25.5" height="13.07" fill="#3c4f8a"/>
<rect x="358.17" y="525.01" width="25.5" height="13.07" fill="#3e4c8a"/>
<rect x="383.07" y="525.01" width="25.5" height="13.07" fill="#3f4889"/>
<rect x="407.96" y="525.01" width="25.5" height="13.07" fill="#414287"/>
<rect x="432.86" y="525.01" width="25.5" height="13.07" fill="#424086"/>
<rect x="457.76" y="525.01" width="25.5" height="13.07" fill="#433d84"/>
<rect x="482.65" y="525.01" width="25.5" height="13.07" fill="#443b84"/>
<rect x="507.55" y="525.01" width="25.5" height="13.07" fill="#453781"/>
<rect x="532.45" y="525.01" width="25.5" height="13.07" fill="#453581"/>
<rect x="557.34" y="525.01" width="25.5" height="13.07" fill="#46337f"/>
<rect x="582.24" y="525.01" width="25.5" height="13.07" fill="#472d7b"/>
<rect x="607.14" y="525.01" width="50.39" height="13.07" fill="#472c7a"/>
<rect x="656.93" y="525.01" width="50.39" height="13.07" fill="#482979"/>
<rect x="706.73" y="525.01" width="25.5" height="13.07" fill="#482677"/>
<rect x="731.62" y="525.01" width="50.39" height="13.07" fill="#482374"/>
<rect x="781.42" y="525.01" width="25.5" height="13.07" fill="#482071"/>
<rect x="806.31" y="525.01" width="25.5" height="13.07" fill="#481f70"/>
<rect x="831.21" y="525.01" width="50.39" height="13.07" fill="#481d6f"/>
<rect x="881.01" y="525.01" width="25.5" height="13.07" fill="#481a6c"/>
<rect x="905.9" y="525.01" width="25.5" height="13.07" fill="#48186a"/>
<rect x="930.8" y="525.01" width="25.5" height="13.07" fill="#481668"/>
<rect x="955.7" y="525.01" width="25.5" height="13.07" fill="#481b6d"/>
<rect x="980.59" y="525.01" width="25.5" height="13.07" fill="#481668"/>
<rect x="1005.49" y="525.01" width="25.5" height="13.07" fill="#481467"/>
<rect x="1030.39" y="525.01" width="50.39" height="13.07" fill="#471365"/>
<rect x="1080.18" y="525.01" width="25.5" height="13.07" fill="#471164"/>
<rect x="1105.08" y="525.01" width="25.5" height="13.07" fill="#471365"/>
<rect x="1129.98" y="525.01" width="50.39" height="13.07" fill="#471063"/>
<rect x="1179.77" y="525.01" width="50.39" height="13.07" fill="#470d60"/>
<rect x="1229.56" y="525.01" width="25.5" height="13.07" fill="#470e61"/>
<rect x="1254.46" y="525.01" width="50.39" height="13.07" fill="#460b5e"/>
<rect x="1304.25" y="525.01" width="25.5" height="13.07" fill="#46075a"/>
<rect x="1329.15" y="525.01" width="25.5" height="13.07" fill="#440154"/>
<rect x="84.3" y="537.48" width="25.5" height="13.07" fill="#f8e621"/>
<rect x="109.2" y="537.48" width="25.5" height="13.07" fill="#26ad81"/>
<rect x="134.1" y="537.48" width="25.5" height="13.07" fill="#218e8d"/>
<rect x="158.99" y="537.48" width="25.5" height="13.07" fill="#277f8e"/>
<rect x="183.89" y="537.48" width="25.5" height="13.07" fill="#2b748e"/>
<rect x="208.79" y="537.48" width="25.5" height="13.07" fill="#2f6c8e"/>
<rect x="233.68" y="537.48" width="25.5" height="13.07" fill="#32648e"/>
<rect x="258.58" y="537.48" width="25.5" height="13.07" fill="#355e8d"/>
<rect x="283.48" y="537.48" width="25.5" height="13.07" fill="#38598c"/>
<rect x="308.37" y="537.48" width="25.5" height="13.07" fill="#3a538b"/>
<rect x="333.27" y="537.48" width="25.5" height="13.07" fill="#3c4f8a"/>
<rect x="358.17" y="537.48" width="25.5" height="13.07" fill="#3e4a89"/>
<rect x="383.07" y="537.48" width="25.5" height="13.07" fill="#3f4788"/>
<rect x="407.96" y="537.48" width="25.5" height="13.07" fill="#414487"/>
<rect x="432.86" y="537.48" width="25.5" height="13.07" fill="#423f85"/>
<rect x="457.76" y="537.48" width="50.39" height="13.07" fill="#443b84"/>
<rect x="507.55" y="537.48" width="25.5" height="13.07" fill="#453581"/>
<rect x="532.45" y="537.48" width="25.5" height="13.07" fill="#463480"/>
<rect x="557.34" y="537.48" width="25.5" height="13.07" fill="#46307e"/>
<rect x="582.24" y="537.48" width="25.5" height="13.07" fill="#472f7d"/>
<rect x="607.14" y="537.48" width="25.5" height="13.07" fill="#472d7b"/>
<rect x="632.04" y="537.48" width="25.5" height="13.07" fill="#472c7a"/>
<rect x="656.93" y="537.48" width="25.5" height="13.07" fill="#482878"/>
<rect x="681.83" y="537.48" width="50.39" height="13.07" fill="#482677"/>
<rect x="731.62" y="537.48" width="25.5" height="13.07" fill="#482576"/>
<rect x="756.52" y="537.48" width="25.5" height="13.07" fill="#482374"/>
<rect x="781.42" y="537.48" width="25.5" height="13.07" fill="#482173"/>
<rect x="806.31" y="537.48" width="75.29" height="13.07" fill="#481d6f"/>
<rect x="881.01" y="537.48" width="50.39" height="13.07" fill="#481b6d"/>
<rect x="930.8" y="537.48" width="50.39" height="13.07" fill="#48186a"/>
<rect x="980.59" y="537.48" width="25.5" height="13.07" fill="#481668"/>
<rect x="1005.49" y="537.48" width="75.29" height="13.07" fill="#481467"/>
<rect x="1080.18" y="537.48" width="25.5" height="13.07" fill="#471365"/>
<rect x="1105.08" y="537.48" width="25.5" height="13.07" fill="#471063"/>
<rect x="1129.98" y="537.48" width="50.39" height="13.07" fill="#470e61"/>
<rect x="1179.77" y="537.48" width="25.5" height="13.07" fill="#460b5e"/>
<rect x="1204.67" y="537.48" width="25.5" height="13.07" fill="#470e61"/>
<rect x="1229.56" y="537.48" width="25.5" height="13.07" fill="#470d60"/>
<rect x="1254.46" y="537.48" width="25.5" height="13.07" fill="#460b5e"/>
<rect x="1279.36" y="537.48" width="25.5" height="13.07" fill="#460a5d"/>
<rect x="1304.25" y="537.48" width="25.5" height="13.07" fill="#460b5e"/>
<rect x="1329.15" y="537.48" width="25.5" height="13.07" fill="#440154"/>
<rect x="84.3" y="549.94" width="25.5" height="13.07" fill="#f8e621"/>
<rect x="109.2" y="549.94" width="25.5" height="13.07" fill="#25ac82"/>
<rect x="134.1" y="549.94" width="25.5" height="13.07" fill="#218e8d"/>
<rect x="158.99" y="549.94" width="25.5" height="13.07" fill="#277f8e"/>
<rect x="183.89" y="549.94" width="25.5" height="13.07" fill="#2c738e"/>
<rect x="208.79" y="549.94" width="25.5" height="13.07" fill="#2f6b8e"/>
<rect x="233.68" y="549.94" width="25.5" height="13.07" fill="#32648e"/>
<rect x="258.58" y="549.94" width="25.5" height="13.07" fill="#355e8d"/>
<rect x="283.48" y="549.94" width="25.5" height="13.07" fill="#38598c"/>
<rect x="308.37" y="549.94" width="25.5" height="13.07" fill="#3a538b"/>
<rect x="333.27" y="549.94" width="25.5" height="13.07" fill="#3c4f8a"/>
<rect x="358.17" y="549.94" width="25.5" height="13.07" fill="#3e4a89"/>
<rect x="383.07" y="549.94" width="25.5" height="13.07" fill="#404688"/>
<rect x="407.96" y="549.94" width="25.5" height="13.07" fill="#414287"/>
<rect x="432.86" y="549.94" width="25.5" height="13.07" fill="#424086"/>
<rect x="457.76" y="549.94" width="25.5" height="13.07" fill="#433e85"/>
<rect x="482.65" y="549.94" width="25.5" height="13.07" fill="#443b84"/>
<rect x="507.55" y="549.94" width="25.5" height="13.07" fill="#453581"/>
<rect x="532.45" y="549.94" width="25.5" height="13.07" fill="#463480"/>
<rect x="557.34" y="549.94" width="25.5" height="13.07" fill="#46327e"/>
<rect x="582.24" y="549.94" width="25.5" height="13.07" fill="#472f7d"/>
<rect x="607.14" y="549.94" width="25.5" height="13.07" fill="#472d7b"/>
<rect x="632.04" y="549.94" width="25.5" height="13.07" fill="#472a7a"/>
<rect x="656.93" y="549.94" width="25.5" height="13.07" fill="#482979"/>
<rect x="681.83" y="549.94" width="50.39" height="13.07" fill="#482677"/>
<rect x="731.62" y="549.94" width="25.5" height="13.07" fill="#482576"/>
<rect x="756.52" y="549.94" width="25.5" height="13.07" fill="#482475"/>
<rect x="781.42" y="549.94" width="25.5" height="13.07" fill="#482071"/>
<rect x="806.31" y="549.94" width="50.39" height="13.07" fill="#481d6f"/>
<rect x="856.11" y="549.94" width="25.5" height="13.07" fill="#481b6d"/>
<rect x="881.01" y="549.94" width="25.5" height="13.07" fill="#481c6e"/>
<rect x="905.9" y="549.94" width="50.39" height="13.07" fill="#48186a"/>
<rect x="955.7" y="549.94" width="100.19" height="13.07" fill="#481668"/>
<rect x="1055.28" y="549.94" width="25.5" height="13.07" fill="#471164"/>
<rect x="1080.18" y="549.94" width="25.5" height="13.07" fill="#471365"/>
<rect x="1105.08" y="549.94" width="75.29" height="13.07" fill="#470e61"/>
<rect x="1179.77" y="549.94" width="25.5" height="13.07" fill="#470d60"/>
<rect x="1204.67" y="549.94" width="25.5" height="13.07" fill="#470e61"/>
<rect x="1229.56" y="549.94" width="25.5" height="13.07" fill="#470d60"/>
<rect x="1254.46" y="549.94" width="25.5" height="13.07" fill="#46085c"/>
<rect x="1279.36" y="549.94" width="25.5" height="13.07" fill="#460b5e"/>
<rect x="1304.25" y="549.94" width="25.5" height="13.07" fill="#46085c"/>
<rect x="1329.15" y="549.94" width="25.5" height="13.07" fill="#440154"/>
<rect x="84.3" y="562.41" width="25.5" height="13.07" fill="#f6e620"/>
<rect x="109.2" y="562.41" width="25.5" height="13.07" fill="#25ab82"/>
<rect x="134.1" y="562.41" width="25.5" height="13.07" fill="#218e8d"/>
<rect x="158.99" y="562.41" width="25.5" height="13.07" fill="#277f8e"/>
<rect x="183.89" y="562.41" width="25.5" height="13.07" fill="#2c738e"/>
<rect x="208.79" y="562.41" width="25.5" height="13.07" fill="#2f6b8e"/>
<rect x="233.68" y="562.41" width="25.5" height="13.07" fill="#32648e"/>
<rect x="258.58" y="562.41" width="25.5" height="13.07" fill="#355e8d"/>
<rect x="283.48" y="562.41" width="25.5" height="13.07" fill="#38598c"/>
<rect x="308.37" y="562.41" width="25.5" height="13.07" fill="#3a538b"/>
<rect x="333.27" y="562.41" width="25.5" height="13.07" fill="#3c4f8a"/>
<rect x="358.17" y="562.41" width="25.5" height="13.07" fill="#3e4a89"/>
<rect x="383.07" y="562.41" width="25.5" height="13.07" fill="#3f4889"/>
<rect x="407.96" y="562.41" width="25.5" height="13.07" fill="#414287"/>
<rect x="432.86" y="562.41" width="25.5" height="13.07" fill="#423f85"/>
<rect x="457.76" y="562.41" width="25.5" height="13.07" fill="#433d84"/>
<rect x="482.65" y="562.41" width="25.5" height="13.07" fill="#443a83"/>
<rect x="507.55" y="562.41" width="25.5" height="13.07" fill="#453581"/>
<rect x="532.45" y="562.41" width="25.5" height="13.07" fill="#46337f"/>
<rect x="557.34" y="562.41" width="25.5" height="13.07" fill="#46307e"/>
<rect x="582.24" y="562.41" width="25.5" height="13.07" fill="#472e7c"/>
<rect x="607.14" y="562.41" width="25.5" height="13.07" fill="#472c7a"/>
<rect x="632.04" y="562.41" width="50.39" height="13.07" fill="#472a7a"/>
<rect x="681.83" y="562.41" width="25.5" height="13.07" fill="#482878"/>
<rect x="706.73" y="562.41" width="50.39" height="13.07" fill="#482475"/>
<rect x="756.52" y="562.41" width="50.39" height="13.07" fill="#482374"/>
<rect x="806.31" y="562.41" width="25.5" height="13.07" fill="#481f70"/>
<rect x="831.21" y="562.41" width="25.5" height="13.07" fill="#481c6e"/>
<rect x="856.11" y="562.41" width="25.5" height="13.07" fill="#481d6f"/>
<rect x="881.01" y="562.41" width="25.5" height="13.07" fill="#481c6e"/>
<rect x="905.9" y="562.41" width="25.5" height="13.07" fill="#48186a"/>
<rect x="930.8" y="562.41" width="25.5" height="13.07" fill="#481b6d"/>
<rect x="955.7" y="562.41" width="25.5" height="13.07" fill="#481a6c"/>
<rect x="980.59" y="562.41" width="25.5" height="13.07" fill="#481668"/>
<rect x="1005.49" y="562.41" width="100.19" height="13.07" fill="#471365"/>
<rect x="1105.08" y="562.41" width="25.5" height="13.07" fill="#470e61"/>
<rect x="1129.98" y="562.41" width="25.5" height="13.07" fill="#471365"/>
<rect x="1154.87" y="562.41" width="25.5" height="13.07" fill="#471164"/>
<rect x="1179.77" y="562.41" width="25.5" height="13.07" fill="#470d60"/>
<rect x="1204.67" y="562.41" width="25.5" height="13.07" fill="#460a5d"/>
<rect x="1229.56" y="562.41" width="50.39" height="13.07" fill="#460b5e"/>
<rect x="1279.36" y="562.41" width="25.5" height="13.07" fill="#470d60"/>
<rect x="1304.25" y="562.41" width="25.5" height="13.07" fill="#460a5d"/>
<rect x="1329.15" y="562.41" width="25.5" height="13.07" fill="#440154"/>
<rect x="84.3" y="574.87" width="25.5" height="13.07" fill="#f4e61e"/>
<rect x="109.2" y="574.87" width="25.5" height="13.07" fill="#25ab82"/>
<rect x="134.1" y="574.87" width="25.5" height="13.07" fill="#218e8d"/>
<rect x="158.99" y="574.87" width="25.5" height="13.07" fill="#277f8e"/>
<rect x="183.89" y="574.87" width="25.5" height="13.07" fill="#2c738e"/>
<rect x="208.79" y="574.87" width="25.5" height="13.07" fill="#2f6b8e"/>
<rect x="233.68" y="574.87" width="25.5" height="13.07" fill="#32648e"/>
<rect x="258.58" y="574.87" width="25.5" height="13.07" fill="#365d8d"/>
<rect x="283.48" y="574.87" width="25.5" height="13.07" fill="#38588c"/>
<rect x="308.37" y="574.87" width="25.5" height="13.07" fill="#3b528b"/>
<rect x="333.27" y="574.87" width="25.5" height="13.07" fill="#3c4f8a"/>
<rect x="358.17" y="574.87" width="25.5" height="13.07" fill="#3e4989"/>
<rect x="383.07" y="574.87" width="25.5" height="13.07" fill="#3f4788"/>
<rect x="407.96" y="574.87" width="25.5" height="13.07" fill="#414287"/>
<rect x="432.86" y="574.87" width="25.5" height="13.07" fill="#424086"/>
<rect x="457.76" y="574.87" width="25.5" height="13.07" fill="#443b84"/>
<rect x="482.65" y="574.87" width="25.5" height="13.07" fill="#443a83"/>
<rect x="507.55" y="574.87" width="25.5" height="13.07" fill="#453581"/>
<rect x="532.45" y="574.87" width="25.5" height="13.07" fill="#46327e"/>
<rect x="557.34" y="574.87" width="25.5" height="13.07" fill="#46307e"/>
<rect x="582.24" y="574.87" width="25.5" height="13.07" fill="#472f7d"/>
<rect x="607.14" y="574.87" width="25.5" height="13.07" fill="#472c7a"/>
<rect x="632.04" y="574.87" width="25.5" height="13.07" fill="#472a7a"/>
<rect x="656.93" y="574.87" width="50.39" height="13.07" fill="#482677"/>
<rect x="706.73" y="574.87" width="25.5" height="13.07" fill="#482576"/>
<rect x="731.62" y="574.87" width="25.5" height="13.07" fill="#482475"/>
<rect x="756.52" y="574.87" width="25.5" height="13.07" fill="#482576"/>
<rect x="781.42" y="574.87" width="25.5" height="13.07" fill="#482071"/>
<rect x="806.31" y="574.87" width="25.5" height="13.07" fill="#481f70"/>
<rect x="831.21" y="574.87" width="25.5" height="13.07" fill="#481d6f"/>
<rect x="856.11" y="574.87" width="25.5" height="13.07" fill="#481c6e"/>
<rect x="881.01" y="574.87" width="25.5" height="13.07" fill="#481a6c"/>
<rect x="905.9" y="574.87" width="25.5" height="13.07" fill="#481b6d"/>
<rect x="930.8" y="574.87" width="25.5" height="13.07" fill="#481a6c"/>
<rect x="955.7" y="574.87" width="25.5" height="13.07" fill="#471365"/>
<rect x="980.59" y="574.87" width="25.5" height="13.07" fill="#481668"/>
<rect x="1005.49" y="574.87" width="25.5" height="13.07" fill="#481467"/>
<rect x="1030.39" y="574.87" width="25.5" height="13.07" fill="#471365"/>
<rect x="1055.28" y="574.87" width="25.5" height="13.07" fill="#481467"/>
<rect x="1080.18" y="574.87" width="50.39" height="13.07" fill="#471164"/>
<rect x="1129.98" y="574.87" width="75.29" height="13.07" fill="#470e61"/>
<rect x="1204.67" y="574.87" width="50.39" height="13.07" fill="#460b5e"/>
<rect x="1254.46" y="574.87" width="25.5" height="13.07" fill="#460a5d"/>
<rect x="1279.36" y="574.87" width="25.5" height="13.07" fill="#46085c"/>
<rect x="1304.25" y="574.87" width="25.5" height="13.07" fill="#460a5d"/>
<rect x="1329.15" y="574.87" width="25.5" height="13.07" fill="#440154"/>
<rect x="84.3" y="587.34" width="25.5" height="13.07" fill="#f1e51d"/>
<rect x="109.2" y="587.34" width="25.5" height="13.07" fill="#24aa83"/>
<rect x="134.1" y="587.34" width="25.5" height="13.07" fill="#218f8d"/>
<rect x="158.99" y="587.34" width="25.5" height="13.07" fill="#277e8e"/>
<rect x="183.89" y="587.34" width="25.5" height="13.07" fill="#2c738e"/>
<rect x="208.79" y="587.34" width="25.5" height="13.07" fill="#2f6b8e"/>
<rect x="233.68" y="587.34" width="25.5" height="13.07" fill="#33638d"/>
<rect x="258.58" y="587.34" width="25.5" height="13.07" fill="#365d8d"/>
<rect x="283.48" y="587.34" width="25.5" height="13.07" fill="#38588c"/>
<rect x="308.37" y="587.34" width="25.5" height="13.07" fill="#3a538b"/>
<rect x="333.27" y="587.34" width="25.5" height="13.07" fill="#3d4e8a"/>
<rect x="358.17" y="587.34" width="25.5" height="13.07" fill="#3e4a89"/>
<rect x="383.07" y="587.34" width="25.5" height="13.07" fill="#404688"/>
<rect x="407.96" y="587.34" width="25.5" height="13.07" fill="#414287"/>
<rect x="432.86" y="587.34" width="25.5" height="13.07" fill="#423f85"/>
<rect x="457.76" y="587.34" width="25.5" height="13.07" fill="#443b84"/>
<rect x="482.65" y="587.34" width="25.5" height="13.07" fill="#443983"/>
<rect x="507.55" y="587.34" width="25.5" height="13.07" fill="#453781"/>
<rect x="532.45" y="587.34" width="25.5" height="13.07" fill="#46337f"/>
<rect x="557.34" y="587.34" width="25.5" height="13.07" fill="#46327e"/>
<rect x="582.24" y="587.34" width="25.5" height="13.07" fill="#472e7c"/>
<rect x="607.14" y="587.34" width="25.5" height="13.07" fill="#472c7a"/>
<rect x="632.04" y="587.34" width="50.39" height="13.07" fill="#472a7a"/>
<rect x="681.83" y="587.34" width="50.39" height="13.07" fill="#482677"/>
<rect x="731.62" y="587.34" width="25.5" height="13.07" fill="#482576"/>
<rect x="756.52" y="587.34" width="25.5" height="13.07" fill="#482173"/>
<rect x="781.42" y="587.34" width="25.5" height="13.07" fill="#481f70"/>
<rect x="806.31" y="587.34" width="50.39" height="13.07" fill="#481d6f"/>
<rect x="856.11" y="587.34" width="50.39" height="13.07" fill="#481c6e"/>
<rect x="905.9" y="587.34" width="25.5" height="13.07" fill="#481769"/>
<rect x="930.8" y="587.34" width="25.5" height="13.07" fill="#481a6c"/>
<rect x="955.7" y="587.34" width="50.39" height="13.07" fill="#48186a"/>
<rect x="1005.49" y="587.34" width="25.5" height="13.07" fill="#481467"/>
<rect x="1030.39" y="587.34" width="25.5" height="13.07" fill="#471365"/>
<rect x="1055.28" y="587.34" width="50.39" height="13.07" fill="#471063"/>
<rect x="1105.08" y="587.34" width="50.39" height="13.07" fill="#470e61"/>
<rect x="1154.87" y="587.34" width="25.5" height="13.07" fill="#470d60"/>
<rect x="1179.77" y="587.34" width="25.5" height="13.07" fill="#460b5e"/>
<rect x="1204.67" y="587.34" width="50.39" height="13.07" fill="#470d60"/>
<rect x="1254.46" y="587.34" width="25.5" height="13.07" fill="#460b5e"/>
<rect x="1279.36" y="587.34" width="25.5" height="13.07" fill="#460a5d"/>
<rect x="1304.25" y="587.34" width="25.5" height="13.07" fill="#460b5e"/>
<rect x="1329.15" y="587.34" width="25.5" height="13.07" fill="#440154"/>
<rect x="84.3" y="599.8" width="25.5" height="13.07" fill="#efe51c"/>
<rect x="109.2" y="599.8" width="25.5" height="13.07" fill="#24aa83"/>
<rect x="134.1" y="599.8" width="25.5" height="13.07" fill="#218e8d"/>
<rect x="158.99" y="599.8" width="25.5" height="13.07" fill="#277e8e"/>
<rect x="183.89" y="599.8" width="25.5" height="13.07" fill="#2c738e"/>
<rect x="208.79" y="599.8" width="25.5" height="13.07" fill="#2f6b8e"/>
<rect x="233.68" y="599.8" width="25.5" height="13.07" fill="#32648e"/>
<rect x="258.58" y="599.8" width="25.5" height="13.07" fill="#355e8d"/>
<rect x="283.48" y="599.8" width="25.5" height="13.07" fill="#38588c"/>
<rect x="308.37" y="599.8" width="25.5" height="13.07" fill="#3b528b"/>
<rect x="333.27" y="599.8" width="25.5" height="13.07" fill="#3d4e8a"/>
<rect x="358.17" y="599.8" width="25.5" height="13.07" fill="#3e4989"/>
<rect x="383.07" y="599.8" width="25.5" height="13.07" fill="#404688"/>
<rect x="407.96" y="599.8" width="25.5" height="13.07" fill="#424186"/>
<rect x="432.86" y="599.8" width="25.5" height="13.07" fill="#423f85"/>
<rect x="457.76" y="599.8" width="25.5" height="13.07" fill="#443b84"/>
<rect x="482.65" y="599.8" width="25.5" height="13.07" fill="#443a83"/>
<rect x="507.55" y="599.8" width="25.5" height="13.07" fill="#453882"/>
<rect x="532.45" y="599.8" width="25.5" height="13.07" fill="#453581"/>
<rect x="557.34" y="599.8" width="25.5" height="13.07" fill="#46307e"/>
<rect x="582.24" y="599.8" width="25.5" height="13.07" fill="#472d7b"/>
<rect x="607.14" y="599.8" width="50.39" height="13.07" fill="#472a7a"/>
<rect x="656.93" y="599.8" width="25.5" height="13.07" fill="#482677"/>
<rect x="681.83" y="599.8" width="50.39" height="13.07" fill="#482475"/>
<rect x="731.62" y="599.8" width="25.5" height="13.07" fill="#482173"/>
<rect x="756.52" y="599.8" width="50.39" height="13.07" fill="#482374"/>
<rect x="806.31" y="599.8" width="50.39" height="13.07" fill="#481d6f"/>
<rect x="856.11" y="599.8" width="25.5" height="13.07" fill="#481a6c"/>
<rect x="881.01" y="599.8" width="25.5" height="13.07" fill="#481b6d"/>
<rect x="905.9" y="599.8" width="25.5" height="13.07" fill="#48186a"/>
<rect x="930.8" y="599.8" width="25.5" height="13.07" fill="#481769"/>
<rect x="955.7" y="599.8" width="25.5" height="13.07" fill="#481467"/>
<rect x="980.59" y="599.8" width="25.5" height="13.07" fill="#481769"/>
<rect x="1005.49" y="599.8" width="25.5" height="13.07" fill="#471365"/>
<rect x="1030.39" y="599.8" width="25.5" height="13.07" fill="#471164"/>
<rect x="1055.28" y="599.8" width="25.5" height="13.07" fill="#471365"/>
<rect x="1080.18" y="599.8" width="50.39" height="13.07" fill="#471164"/>
<rect x="1129.98" y="599.8" width="25.5" height="13.07" fill="#471063"/>
<rect x="1154.87" y="599.8" width="25.5" height="13.07" fill="#470d60"/>
<rect x="1179.77" y="599.8" width="25.5" height="13.07" fill="#470e61"/>
<rect x="1204.67" y="599.8" width="25.5" height="13.07" fill="#470d60"/>
<rect x="1229.56" y="599.8" width="25.5" height="13.07" fill="#460a5d"/>
<rect x="1254.46" y="599.8" width="25.5" height="13.07" fill="#470d60"/>
<rect x="1279.36" y="599.8" width="50.39" height="13.07" fill="#460a5d"/>
<rect x="1329.15" y="599.8" width="25.5" height="13.07" fill="#440154"/>
<rect x="84.3" y="612.27" width="25.5" height="13.07" fill="#efe51c"/>
<rect x="109.2" y="612.27" width="25.5" height="13.07" fill="#23a983"/>
<rect x="134.1" y="612.27" width="25.5" height="13.07" fill="#218e8d"/>
<rect x="158.99" y="612.27" width="25.5" height="13.07" fill="#277f8e"/>
<rect x="183.89" y="612.27" width="25.5" height="13.07" fill="#2c728e"/>
<rect x="208.79" y="612.27" width="25.5" height="13.07" fill="#2f6b8e"/>
<rect x="233.68" y="612.27" width="25.5" height="13.07" fill="#33638d"/>
<rect x="258.58" y="612.27" width="25.5" height="13.07" fill="#365d8d"/>
<rect x="283.48" y="612.27" width="25.5" height="13.07" fill="#38588c"/>
<rect x="308.37" y="612.27" width="25.5" height="13.07" fill="#3b528b"/>
<rect x="333.27" y="612.27" width="25.5" height="13.07" fill="#3c4f8a"/>
<rect x="358.17" y="612.27" width="25.5" height="13.07" fill="#3e4989"/>
<rect x="383.07" y="612.27" width="25.5" height="13.07" fill="#3f4788"/>
<rect x="407.96" y="612.27" width="25.5" height="13.07" fill="#424186"/>
<rect x="432.86" y="612.27" width="25.5" height="13.07" fill="#423f85"/>
<rect x="457.76" y="612.27" width="25.5" height="13.07" fill="#443b84"/>
<rect x="482.65" y="612.27" width="25.5" height="13.07" fill="#443983"/>
<rect x="507.55" y="612.27" width="25.5" height="13.07" fill="#453581"/>
<rect x="532.45" y="612.27" width="25.5" height="13.07" fill="#46337f"/>
<rect x="557.34" y="612.27" width="50.39" height="13.07" fill="#472e7c"/>
<rect x="607.14" y="612.27" width="25.5" height="13.07" fill="#472c7a"/>
<rect x="632.04" y="612.27" width="25.5" height="13.07" fill="#472a7a"/>
<rect x="656.93" y="612.27" width="50.39" height="13.07" fill="#482979"/>
<rect x="706.73" y="612.27" width="25.5" height="13.07" fill="#482576"/>
<rect x="731.62" y="612.27" width="25.5" height="13.07" fill="#482475"/>
<rect x="756.52" y="612.27" width="25.5" height="13.07" fill="#482374"/>
<rect x="781.42" y="612.27" width="25.5" height="13.07" fill="#482071"/>
<rect x="806.31" y="612.27" width="25.5" height="13.07" fill="#481f70"/>
<rect x="831.21" y="612.27" width="25.5" height="13.07" fill="#481c6e"/>
<rect x="856.11" y="612.27" width="75.29" height="13.07" fill="#481b6d"/>
<rect x="930.8" y="612.27" width="50.39" height="13.07" fill="#48186a"/>
<rect x="980.59" y="612.27" width="75.29" height="13.07" fill="#481467"/>
<rect x="1055.28" y="612.27" width="25.5" height="13.07" fill="#471365"/>
<rect x="1080.18" y="612.27" width="25.5" height="13.07" fill="#471063"/>
<rect x="1105.08" y="612.27" width="25.5" height="13.07" fill="#470d60"/>
<rect x="1129.98" y="612.27" width="25.5" height="13.07" fill="#460b5e"/>
<rect x="1154.87" y="612.27" width="25.5" height="13.07" fill="#470e61"/>
<rect x="1179.77" y="612.27" width="25.5" height="13.07" fill="#471164"/>
<rect x="1204.67" y="612.27" width="25.5" height="13.07" fill="#470d60"/>
<rect x="1229.56" y="612.27" width="25.5" height="13.07" fill="#460a5d"/>
<rect x="1254.46" y="612.27" width="25.5" height="13.07" fill="#460b5e"/>
<rect x="1279.36" y="612.27" width="50.39" height="13.07" fill="#460a5d"/>
<rect x="1329.15" y="612.27" width="25.5" height="13.07" fill="#440154"/>
</g>
<path d="M108.4 615.5C109 603.75 110.55 571.68 112 545C113.45 518.32 115.78 476.75 117.1 455.4C118.42 434.05 118.88 429.43 119.9 416.9C120.92 404.37 122.07 391.35 123.2 380.2C124.33 369.05 125.8 358.03 126.7 350C127.6 341.97 127.83 338.33 128.6 332C129.37 325.67 130.35 318.5 131.3 312C132.25 305.5 133.32 299 134.3 293C135.28 287 136.2 281.8 137.2 276C138.2 270.2 139.18 264.45 140.3 258.2C141.42 251.95 142.75 243.28 143.9 238.5C145.05 233.72 145.85 232.2 147.2 229.5C148.55 226.8 150.03 224.72 152 222.3C153.97 219.88 156.47 217.23 159 215C161.53 212.77 163.43 211.42 167.2 208.9C170.97 206.38 176.22 202.9 181.6 199.9C186.98 196.9 193.82 193.3 199.5 190.9C205.18 188.5 209.72 187.3 215.7 185.5C221.68 183.7 229.12 181.68 235.4 180.1C241.68 178.52 247.27 177.13 253.4 176C259.53 174.87 265.92 174.05 272.2 173.3C278.48 172.55 284.82 172 291.1 171.5C297.38 171 303.62 170.65 309.9 170.3C316.18 169.95 322.37 169.65 328.8 169.4C335.23 169.15 341.63 169 348.5 168.8C355.37 168.6 358.08 168.45 370 168.2C381.92 167.95 398.33 167.55 420 167.3C441.67 167.05 470 166.88 500 166.7C530 166.52 566.67 166.32 600 166.2C633.33 166.08 666.67 166.03 700 166C733.33 165.97 766.67 165.97 800 166C833.33 166.03 866.67 166.07 900 166.2C933.33 166.33 977.05 166.6 1000 166.8C1022.95 167 1025.13 167.13 1037.7 167.4C1050.27 167.67 1062.83 167.98 1075.4 168.4C1087.97 168.82 1100.52 169.17 1113.1 169.9C1125.68 170.63 1138.32 171.22 1150.9 172.8C1163.48 174.38 1176.55 176.63 1188.6 179.4C1200.65 182.17 1211.68 185.37 1223.2 189.4C1234.72 193.43 1246.7 198.1 1257.7 203.6C1268.7 209.1 1279.77 215.33 1289.2 222.4C1298.63 229.47 1308.55 240.23 1314.3 246C1320.05 251.77 1322.13 255.17 1323.7 257" fill="none" stroke="#ff0000" stroke-width="6.6" stroke-dasharray="18.9 18.906"/>
<path d="M209.9 618C210.93 616.4 212.18 615.48 216.1 608.4C220.02 601.32 227.63 586.75 233.4 575.5C239.17 564.25 244.67 551.92 250.7 540.9C256.73 529.88 263.32 519.88 269.6 509.4C275.88 498.92 281.6 488.47 288.4 478C295.2 467.53 302.53 456.55 310.4 446.6C318.27 436.65 326.95 427.22 335.6 418.3C344.25 409.38 352.62 400.97 362.3 393.1C371.98 385.23 382.7 377.38 393.7 371.1C404.7 364.82 416.52 359.85 428.3 355.4C440.08 350.95 452.35 347.38 464.4 344.4C476.45 341.42 488.28 339.43 500.6 337.5C512.92 335.57 520.4 334.6 538.3 332.8C556.2 331 579.72 328.67 608 326.7C636.28 324.73 674.67 322.28 708 321C741.33 319.72 774.67 319.55 808 319C841.33 318.45 876 318.18 908 317.7C940 317.22 973.67 316.88 1000 316.1C1026.33 315.32 1048.72 313.95 1066 313C1083.28 312.05 1091.13 311.5 1103.7 310.4C1116.27 309.3 1128.82 307.87 1141.4 306.4C1153.98 304.93 1166.62 303.38 1179.2 301.6C1191.78 299.82 1204.33 297.78 1216.9 295.7C1229.47 293.62 1242.03 291.25 1254.6 289.1C1267.17 286.95 1279.83 285 1292.3 282.8C1304.77 280.6 1323.22 277.05 1329.4 275.9" fill="none" stroke="#80b3ff" stroke-width="6.2" stroke-dasharray="18.9 18.892"/>
<rect x="84.3" y="113.9" width="1269.5" height="510.6" fill="none" stroke="#000" stroke-width="2.9"/>
<path d="M96.75 113.9V94.2M345.72 113.9V94.2M594.69 113.9V94.2M843.66 113.9V94.2M1092.63 113.9V94.2M1341.6 113.9V94.2M84.3 119.9H66.3M84.3 369.2H66.3M84.3 618.5H66.3" stroke="#000" stroke-width="2.6" fill="none"/>
<defs><linearGradient id="cb" x1="0" y1="0" x2="0" y2="1"><stop offset="0" stop-color="#fde725"/><stop offset="0.03" stop-color="#ece51b"/><stop offset="0.06" stop-color="#d8e219"/><stop offset="0.09" stop-color="#c2df23"/><stop offset="0.12" stop-color="#addc30"/><stop offset="0.16" stop-color="#98d83e"/><stop offset="0.19" stop-color="#84d44b"/><stop offset="0.22" stop-color="#70cf57"/><stop offset="0.25" stop-color="#5ec962"/><stop offset="0.28" stop-color="#4ec36b"/><stop offset="0.31" stop-color="#3fbc73"/><stop offset="0.34" stop-color="#32b67a"/><stop offset="0.38" stop-color="#28ae80"/><stop offset="0.41" stop-color="#22a785"/><stop offset="0.44" stop-color="#1fa088"/><stop offset="0.47" stop-color="#1f988b"/><stop offset="0.5" stop-color="#21918c"/><stop offset="0.53" stop-color="#23898e"/><stop offset="0.56" stop-color="#26828e"/><stop offset="0.59" stop-color="#297a8e"/><stop offset="0.62" stop-color="#2c728e"/><stop offset="0.66" stop-color="#2f6b8e"/><stop offset="0.69" stop-color="#33638d"/><stop offset="0.72" stop-color="#375b8d"/><stop offset="0.75" stop-color="#3b528b"/><stop offset="0.78" stop-color="#3e4989"/><stop offset="0.81" stop-color="#424086"/><stop offset="0.84" stop-color="#453781"/><stop offset="0.88" stop-color="#472d7b"/><stop offset="0.91" stop-color="#482374"/><stop offset="0.94" stop-color="#48186a"/><stop offset="0.97" stop-color="#470d60"/><stop offset="1" stop-color="#440154"/></linearGradient></defs>
<rect x="1366.8" y="113.9" width="25.6" height="510.6" fill="url(#cb)" stroke="#000" stroke-width="2.9"/>
<path d="M1392.4 115H1413.3M1392.4 202.6H1413.3M1392.4 290.2H1413.3M1392.4 377.8H1413.3M1392.4 465.4H1413.3M1392.4 553H1413.3" stroke="#000" stroke-width="2.6" fill="none"/>
<path d="M243.8 1046.4v-11.5M243.8 624.5v11.5M644.7 1046.4v-11.5M644.7 624.5v11.5M84.3 733.8h11.5M765.4 733.8h-11.5M84.3 890.1h11.5M765.4 890.1h-11.5" stroke="#000" stroke-width="2.5" fill="none"/>
<path d="M123.12 1046.4v-6.8M123.12 624.5v6.8M154.86 1046.4v-6.8M154.86 624.5v6.8M181.7 1046.4v-6.8M181.7 624.5v6.8M204.95 1046.4v-6.8M204.95 624.5v6.8M225.46 1046.4v-6.8M225.46 624.5v6.8M364.48 1046.4v-6.8M364.48 624.5v6.8M435.08 1046.4v-6.8M435.08 624.5v6.8M485.17 1046.4v-6.8M485.17 624.5v6.8M524.02 1046.4v-6.8M524.02 624.5v6.8M555.76 1046.4v-6.8M555.76 624.5v6.8M582.6 1046.4v-6.8M582.6 624.5v6.8M605.85 1046.4v-6.8M605.85 624.5v6.8M626.36 1046.4v-6.8M626.36 624.5v6.8M84.3 999.35h6.8M765.4 999.35h-6.8M84.3 971.83h6.8M765.4 971.83h-6.8M84.3 952.3h6.8M765.4 952.3h-6.8M84.3 937.15h6.8M765.4 937.15h-6.8M84.3 924.77h6.8M765.4 924.77h-6.8M84.3 914.31h6.8M765.4 914.31h-6.8M84.3 905.25h6.8M765.4 905.25h-6.8M84.3 897.25h6.8M765.4 897.25h-6.8M84.3 843.05h6.8M765.4 843.05h-6.8M84.3 815.53h6.8M765.4 815.53h-6.8M84.3 796h6.8M765.4 796h-6.8M84.3 780.85h6.8M765.4 780.85h-6.8M84.3 768.47h6.8M765.4 768.47h-6.8M84.3 758.01h6.8M765.4 758.01h-6.8M84.3 748.95h6.8M765.4 748.95h-6.8M84.3 740.95h6.8M765.4 740.95h-6.8M84.3 686.75h6.8M765.4 686.75h-6.8M84.3 659.23h6.8M765.4 659.23h-6.8M84.3 639.7h6.8M765.4 639.7h-6.8" stroke="#000" stroke-width="1.9" fill="none"/>
<path d="M999.15 1046.4v-11.5M999.15 624.5v11.5M765.4 702.5h11.5M1446.2 702.5h-11.5M765.4 866.4h11.5M1446.2 866.4h-11.5M765.4 1030.3h11.5M1446.2 1030.3h-11.5" stroke="#000" stroke-width="2.5" fill="none"/>
<path d="M821.25 1046.4v-6.8M821.25 624.5v6.8M864.57 1046.4v-6.8M864.57 624.5v6.8M899.97 1046.4v-6.8M899.97 624.5v6.8M929.9 1046.4v-6.8M929.9 624.5v6.8M955.83 1046.4v-6.8M955.83 624.5v6.8M978.69 1046.4v-6.8M978.69 624.5v6.8M1133.73 1046.4v-6.8M1133.73 624.5v6.8M1212.45 1046.4v-6.8M1212.45 624.5v6.8M1268.3 1046.4v-6.8M1268.3 624.5v6.8M1311.62 1046.4v-6.8M1311.62 624.5v6.8M1347.02 1046.4v-6.8M1347.02 624.5v6.8M1376.95 1046.4v-6.8M1376.95 624.5v6.8M1402.88 1046.4v-6.8M1402.88 624.5v6.8M1425.74 1046.4v-6.8M1425.74 624.5v6.8M765.4 1037.8h6.8M1446.2 1037.8h-6.8M765.4 980.96h6.8M1446.2 980.96h-6.8M765.4 952.1h6.8M1446.2 952.1h-6.8M765.4 931.62h6.8M1446.2 931.62h-6.8M765.4 915.74h6.8M1446.2 915.74h-6.8M765.4 902.76h6.8M1446.2 902.76h-6.8M765.4 891.79h6.8M1446.2 891.79h-6.8M765.4 882.28h6.8M1446.2 882.28h-6.8M765.4 873.9h6.8M1446.2 873.9h-6.8M765.4 817.06h6.8M1446.2 817.06h-6.8M765.4 788.2h6.8M1446.2 788.2h-6.8M765.4 767.72h6.8M1446.2 767.72h-6.8M765.4 751.84h6.8M1446.2 751.84h-6.8M765.4 738.86h6.8M1446.2 738.86h-6.8M765.4 727.89h6.8M1446.2 727.89h-6.8M765.4 718.38h6.8M1446.2 718.38h-6.8M765.4 710h6.8M1446.2 710h-6.8M765.4 653.16h6.8M1446.2 653.16h-6.8" stroke="#000" stroke-width="1.9" fill="none"/>
<clipPath id="cl"><rect x="84.3" y="624.5" width="681.1" height="421.9"/></clipPath>
<g clip-path="url(#cl)" fill="none" stroke-width="3.5">
<path d="M84.27 632.95L765.38 1164.05" stroke="#808080" stroke-dasharray="12.36 5.34" stroke-dashoffset="-4.05"/>
<path d="M84.27 585.78L765.38 1116.88" stroke="#808080" stroke-dasharray="12.36 5.34" stroke-dashoffset="-9.2"/>
<path d="M84.27 538.99L765.38 1070.09" stroke="#808080" stroke-dasharray="12.36 5.34" stroke-dashoffset="-15"/>
<path d="M84.27 478.17L765.38 1009.27" stroke="#808080" stroke-dasharray="12.36 5.34" stroke-dashoffset="-3"/>
<path d="M84.27 424.37L765.38 955.47" stroke="#808080" stroke-dasharray="12.36 5.34" stroke-dashoffset="-16.9"/>
<path d="M84.27 803.15L765.38 537.6" stroke="#8080ff" stroke-dasharray="12.36 5.34" stroke-dashoffset="-3.5"/>
<path d="M84.27 811.15L765.38 545.6" stroke="#8080ff" stroke-dasharray="12.36 5.34" stroke-dashoffset="-3.5"/>
<path d="M84.27 843.05L765.38 577.5" stroke="#8080ff" stroke-dasharray="12.36 5.34" stroke-dashoffset="-3.5"/>
<path d="M84.27 952.3L765.38 686.75" stroke="#8080ff" stroke-dasharray="12.36 5.34" stroke-dashoffset="-3.5"/>
<path d="M84.27 1108.6L765.38 843.05" stroke="#8080ff" stroke-dasharray="12.36 5.34" stroke-dashoffset="-3.5"/>
<path d="M79.3 788L123.12 788L243.8 740.9L314.39 714.2L364.48 697.5L403.33 691.3L435.08 695.5L461.92 710.8L485.17 732.5L505.67 752.6L524.02 768.5L540.61 784.6L555.76 801L569.7 810.9L582.6 819.2L594.61 828.4L605.85 836L616.4 841L626.36 846L635.77 851L644.7 854.3L653.19 857.25L661.29 860.2L669.03 861.85L676.44 863.5L683.55 864.75L690.38 866L696.95 867.48L703.28 868.95L709.39 870.42L715.29 871.9L721 873.9L726.53 875.9L731.89 877.9L737.09 879.9L742.13 881.9L747.04 882.17L751.81 882.43L756.45 882.7L760.97 881.45L765.38 880.2" stroke="#9467bd" stroke-linejoin="round"/>
<path d="M123.12 787.1V788.9M116.52 787.1H129.72M116.52 788.9H129.72M243.8 740V741.8M237.2 740H250.4M237.2 741.8H250.4M314.39 713.3V715.1M307.79 713.3H320.99M307.79 715.1H320.99M364.48 695.9V699.1M357.88 695.9H371.08M357.88 699.1H371.08M403.33 689.7V692.9M396.73 689.7H409.93M396.73 692.9H409.93M435.08 693.2V697.8M428.48 693.2H441.68M428.48 697.8H441.68M461.92 708.5V713.1M455.32 708.5H468.52M455.32 713.1H468.52M485.17 730.2V734.8M478.57 730.2H491.77M478.57 734.8H491.77M505.67 750.3V754.9M499.07 750.3H512.27M499.07 754.9H512.27M524.02 766.2V770.8M517.42 766.2H530.62M517.42 770.8H530.62M540.61 782.3V786.9M534.01 782.3H547.21M534.01 786.9H547.21M555.76 798.7V803.3M549.16 798.7H562.36M549.16 803.3H562.36M569.7 808.6V813.2M563.1 808.6H576.3M563.1 813.2H576.3M582.6 816.9V821.5M576 816.9H589.2M576 821.5H589.2M594.61 826.1V830.7M588.01 826.1H601.21M588.01 830.7H601.21M605.85 833.7V838.3M599.25 833.7H612.45M599.25 838.3H612.45M616.4 838.7V843.3M609.8 838.7H623M609.8 843.3H623M626.36 843.7V848.3M619.76 843.7H632.96M619.76 848.3H632.96M635.77 848.7V853.3M629.17 848.7H642.37M629.17 853.3H642.37M644.7 852V856.6M638.1 852H651.3M638.1 856.6H651.3M653.19 854.95V859.55M646.59 854.95H659.79M646.59 859.55H659.79M661.29 857.9V862.5M654.69 857.9H667.89M654.69 862.5H667.89M669.03 859.55V864.15M662.43 859.55H675.63M662.43 864.15H675.63M676.44 861.2V865.8M669.84 861.2H683.04M669.84 865.8H683.04M683.55 862.45V867.05M676.95 862.45H690.15M676.95 867.05H690.15M690.38 863.7V868.3M683.78 863.7H696.98M683.78 868.3H696.98M696.95 865.18V869.77M690.35 865.18H703.55M690.35 869.77H703.55M703.28 866.65V871.25M696.68 866.65H709.88M696.68 871.25H709.88M709.39 868.12V872.72M702.79 868.12H715.99M702.79 872.72H715.99M715.29 869.6V874.2M708.69 869.6H721.89M708.69 874.2H721.89M721 871.6V876.2M714.4 871.6H727.6M714.4 876.2H727.6M726.53 873.6V878.2M719.93 873.6H733.13M719.93 878.2H733.13M731.89 875.6V880.2M725.29 875.6H738.49M725.29 880.2H738.49M737.09 877.6V882.2M730.49 877.6H743.69M730.49 882.2H743.69M742.13 879.6V884.2M735.53 879.6H748.73M735.53 884.2H748.73M747.04 879.87V884.47M740.44 879.87H753.64M740.44 884.47H753.64M751.81 880.13V884.73M745.21 880.13H758.41M745.21 884.73H758.41M756.45 880.4V885M749.85 880.4H763.05M749.85 885H763.05M760.97 879.15V883.75M754.37 879.15H767.57M754.37 883.75H767.57M765.38 877.9V882.5M758.78 877.9H771.98M758.78 882.5H771.98" stroke="#9467bd" stroke-width="2" fill="none"/>
<path d="M79.3 796L123.12 796L243.8 749L314.39 724.2L364.48 713.3L403.33 720.5L435.08 744.2L461.92 769.3L485.17 786.8L505.67 806.5L524.02 817.5L540.61 833L555.76 845.1L569.7 855.1L582.6 863.5L594.61 871.9L605.85 879.4L616.4 885.2L626.36 891.1L635.77 896.1L644.7 901.1L653.19 904L661.29 906.9L669.03 909.4L676.44 911.9L683.55 912.75L690.38 913.6L696.95 914.02L703.28 914.45L709.39 914.88L715.29 915.3L721 916.96L726.53 918.62L731.89 920.28L737.09 921.94L742.13 923.6L747.04 924.28L751.81 924.96L756.45 925.64L760.97 926.32L765.38 927" stroke="#d62728" stroke-linejoin="round"/>
<path d="M123.12 795.1V796.9M116.52 795.1H129.72M116.52 796.9H129.72M243.8 748.1V749.9M237.2 748.1H250.4M237.2 749.9H250.4M314.39 723.3V725.1M307.79 723.3H320.99M307.79 725.1H320.99M364.48 711.7V714.9M357.88 711.7H371.08M357.88 714.9H371.08M403.33 718.9V722.1M396.73 718.9H409.93M396.73 722.1H409.93M435.08 741.9V746.5M428.48 741.9H441.68M428.48 746.5H441.68M461.92 767V771.6M455.32 767H468.52M455.32 771.6H468.52M485.17 784.5V789.1M478.57 784.5H491.77M478.57 789.1H491.77M505.67 804.2V808.8M499.07 804.2H512.27M499.07 808.8H512.27M524.02 815.2V819.8M517.42 815.2H530.62M517.42 819.8H530.62M540.61 830.7V835.3M534.01 830.7H547.21M534.01 835.3H547.21M555.76 842.8V847.4M549.16 842.8H562.36M549.16 847.4H562.36M569.7 852.8V857.4M563.1 852.8H576.3M563.1 857.4H576.3M582.6 861.2V865.8M576 861.2H589.2M576 865.8H589.2M594.61 869.6V874.2M588.01 869.6H601.21M588.01 874.2H601.21M605.85 877.1V881.7M599.25 877.1H612.45M599.25 881.7H612.45M616.4 882.9V887.5M609.8 882.9H623M609.8 887.5H623M626.36 888.8V893.4M619.76 888.8H632.96M619.76 893.4H632.96M635.77 893.8V898.4M629.17 893.8H642.37M629.17 898.4H642.37M644.7 898.8V903.4M638.1 898.8H651.3M638.1 903.4H651.3M653.19 901.7V906.3M646.59 901.7H659.79M646.59 906.3H659.79M661.29 904.6V909.2M654.69 904.6H667.89M654.69 909.2H667.89M669.03 907.1V911.7M662.43 907.1H675.63M662.43 911.7H675.63M676.44 909.6V914.2M669.84 909.6H683.04M669.84 914.2H683.04M683.55 910.45V915.05M676.95 910.45H690.15M676.95 915.05H690.15M690.38 911.3V915.9M683.78 911.3H696.98M683.78 915.9H696.98M696.95 911.73V916.32M690.35 911.73H703.55M690.35 916.32H703.55M703.28 912.15V916.75M696.68 912.15H709.88M696.68 916.75H709.88M709.39 912.58V917.17M702.79 912.58H715.99M702.79 917.17H715.99M715.29 913V917.6M708.69 913H721.89M708.69 917.6H721.89M721 914.66V919.26M714.4 914.66H727.6M714.4 919.26H727.6M726.53 916.32V920.92M719.93 916.32H733.13M719.93 920.92H733.13M731.89 917.98V922.58M725.29 917.98H738.49M725.29 922.58H738.49M737.09 919.64V924.24M730.49 919.64H743.69M730.49 924.24H743.69M742.13 921.3V925.9M735.53 921.3H748.73M735.53 925.9H748.73M747.04 921.98V926.58M740.44 921.98H753.64M740.44 926.58H753.64M751.81 922.66V927.26M745.21 922.66H758.41M745.21 927.26H758.41M756.45 923.34V927.94M749.85 923.34H763.05M749.85 927.94H763.05M760.97 924.02V928.62M754.37 924.02H767.57M754.37 928.62H767.57M765.38 924.7V929.3M758.78 924.7H771.98M758.78 929.3H771.98" stroke="#d62728" stroke-width="2" fill="none"/>
<path d="M79.3 828.3L123.12 828.3L243.8 781L314.39 758.4L364.48 755.1L403.33 781L435.08 810L461.92 834.2L485.17 853.4L505.67 868.5L524.02 883.4L540.61 890.6L555.76 902.3L569.7 914.3L582.6 921L594.61 929.4L605.85 936.9L616.4 944.4L626.36 949L635.77 954.5L644.7 961L653.19 961.85L661.29 962.7L669.03 963.95L676.44 965.2L683.55 966.45L690.38 967.7L696.95 968.95L703.28 970.2L709.39 971.45L715.29 972.7L721 974.2L726.53 975.7L731.89 977.2L737.09 978.7L742.13 980.2L747.04 980.77L751.81 981.33L756.45 981.9L760.97 981.45L765.38 981" stroke="#1f77b4" stroke-linejoin="round"/>
<path d="M123.12 827.4V829.2M116.52 827.4H129.72M116.52 829.2H129.72M243.8 780.1V781.9M237.2 780.1H250.4M237.2 781.9H250.4M314.39 757.5V759.3M307.79 757.5H320.99M307.79 759.3H320.99M364.48 753.5V756.7M357.88 753.5H371.08M357.88 756.7H371.08M403.33 779.4V782.6M396.73 779.4H409.93M396.73 782.6H409.93M435.08 807.7V812.3M428.48 807.7H441.68M428.48 812.3H441.68M461.92 831.9V836.5M455.32 831.9H468.52M455.32 836.5H468.52M485.17 851.1V855.7M478.57 851.1H491.77M478.57 855.7H491.77M505.67 866.2V870.8M499.07 866.2H512.27M499.07 870.8H512.27M524.02 881.1V885.7M517.42 881.1H530.62M517.42 885.7H530.62M540.61 888.3V892.9M534.01 888.3H547.21M534.01 892.9H547.21M555.76 900V904.6M549.16 900H562.36M549.16 904.6H562.36M569.7 912V916.6M563.1 912H576.3M563.1 916.6H576.3M582.6 918.7V923.3M576 918.7H589.2M576 923.3H589.2M594.61 927.1V931.7M588.01 927.1H601.21M588.01 931.7H601.21M605.85 934.6V939.2M599.25 934.6H612.45M599.25 939.2H612.45M616.4 942.1V946.7M609.8 942.1H623M609.8 946.7H623M626.36 946.7V951.3M619.76 946.7H632.96M619.76 951.3H632.96M635.77 952.2V956.8M629.17 952.2H642.37M629.17 956.8H642.37M644.7 958.7V963.3M638.1 958.7H651.3M638.1 963.3H651.3M653.19 959.55V964.15M646.59 959.55H659.79M646.59 964.15H659.79M661.29 960.4V965M654.69 960.4H667.89M654.69 965H667.89M669.03 961.65V966.25M662.43 961.65H675.63M662.43 966.25H675.63M676.44 962.9V967.5M669.84 962.9H683.04M669.84 967.5H683.04M683.55 964.15V968.75M676.95 964.15H690.15M676.95 968.75H690.15M690.38 965.4V970M683.78 965.4H696.98M683.78 970H696.98M696.95 966.65V971.25M690.35 966.65H703.55M690.35 971.25H703.55M703.28 967.9V972.5M696.68 967.9H709.88M696.68 972.5H709.88M709.39 969.15V973.75M702.79 969.15H715.99M702.79 973.75H715.99M715.29 970.4V975M708.69 970.4H721.89M708.69 975H721.89M721 971.9V976.5M714.4 971.9H727.6M714.4 976.5H727.6M726.53 973.4V978M719.93 973.4H733.13M719.93 978H733.13M731.89 974.9V979.5M725.29 974.9H738.49M725.29 979.5H738.49M737.09 976.4V981M730.49 976.4H743.69M730.49 981H743.69M742.13 977.9V982.5M735.53 977.9H748.73M735.53 982.5H748.73M747.04 978.47V983.07M740.44 978.47H753.64M740.44 983.07H753.64M751.81 979.03V983.63M745.21 979.03H758.41M745.21 983.63H758.41M756.45 979.6V984.2M749.85 979.6H763.05M749.85 984.2H763.05M760.97 979.15V983.75M754.37 979.15H767.57M754.37 983.75H767.57M765.38 978.7V983.3M758.78 978.7H771.98M758.78 983.3H771.98" stroke="#1f77b4" stroke-width="2" fill="none"/>
<path d="M79.3 938L123.12 938L243.8 891.5L314.39 866L364.48 850.9L403.33 845.1L435.08 851.8L461.92 871L485.17 893.5L505.67 917.5L524.02 935.2L540.61 951L555.76 963.5L569.7 975.3L582.6 982L594.61 989.4L605.85 995.2L616.4 1001.1L626.36 1004.4L635.77 1007.8L644.7 1009.4L653.19 1009.85L661.29 1010.3L669.03 1010.3L676.44 1010.3L683.55 1010.7L690.38 1011.1L696.95 1011.92L703.28 1012.75L709.39 1013.58L715.29 1014.4L721 1015.08L726.53 1015.76L731.89 1016.44L737.09 1017.12L742.13 1017.8L747.04 1017.96L751.81 1018.12L756.45 1018.28L760.97 1018.44L765.38 1018.6" stroke="#ff7f0e" stroke-linejoin="round"/>
<path d="M123.12 937.1V938.9M116.52 937.1H129.72M116.52 938.9H129.72M243.8 890.6V892.4M237.2 890.6H250.4M237.2 892.4H250.4M314.39 865.1V866.9M307.79 865.1H320.99M307.79 866.9H320.99M364.48 849.3V852.5M357.88 849.3H371.08M357.88 852.5H371.08M403.33 843.5V846.7M396.73 843.5H409.93M396.73 846.7H409.93M435.08 849.5V854.1M428.48 849.5H441.68M428.48 854.1H441.68M461.92 868.7V873.3M455.32 868.7H468.52M455.32 873.3H468.52M485.17 891.2V895.8M478.57 891.2H491.77M478.57 895.8H491.77M505.67 915.2V919.8M499.07 915.2H512.27M499.07 919.8H512.27M524.02 932.9V937.5M517.42 932.9H530.62M517.42 937.5H530.62M540.61 948.7V953.3M534.01 948.7H547.21M534.01 953.3H547.21M555.76 961.2V965.8M549.16 961.2H562.36M549.16 965.8H562.36M569.7 973V977.6M563.1 973H576.3M563.1 977.6H576.3M582.6 979.7V984.3M576 979.7H589.2M576 984.3H589.2M594.61 987.1V991.7M588.01 987.1H601.21M588.01 991.7H601.21M605.85 992.9V997.5M599.25 992.9H612.45M599.25 997.5H612.45M616.4 998.3V1003.9M609.8 998.3H623M609.8 1003.9H623M626.36 1001.6V1007.2M619.76 1001.6H632.96M619.76 1007.2H632.96M635.77 1005V1010.6M629.17 1005H642.37M629.17 1010.6H642.37M644.7 1006.6V1012.2M638.1 1006.6H651.3M638.1 1012.2H651.3M653.19 1007.05V1012.65M646.59 1007.05H659.79M646.59 1012.65H659.79M661.29 1007.5V1013.1M654.69 1007.5H667.89M654.69 1013.1H667.89M669.03 1007.5V1013.1M662.43 1007.5H675.63M662.43 1013.1H675.63M676.44 1007.5V1013.1M669.84 1007.5H683.04M669.84 1013.1H683.04M683.55 1007.9V1013.5M676.95 1007.9H690.15M676.95 1013.5H690.15M690.38 1008.3V1013.9M683.78 1008.3H696.98M683.78 1013.9H696.98M696.95 1009.12V1014.72M690.35 1009.12H703.55M690.35 1014.72H703.55M703.28 1009.95V1015.55M696.68 1009.95H709.88M696.68 1015.55H709.88M709.39 1010.78V1016.38M702.79 1010.78H715.99M702.79 1016.38H715.99M715.29 1011.6V1017.2M708.69 1011.6H721.89M708.69 1017.2H721.89M721 1012.28V1017.88M714.4 1012.28H727.6M714.4 1017.88H727.6M726.53 1012.96V1018.56M719.93 1012.96H733.13M719.93 1018.56H733.13M731.89 1013.64V1019.24M725.29 1013.64H738.49M725.29 1019.24H738.49M737.09 1014.32V1019.92M730.49 1014.32H743.69M730.49 1019.92H743.69M742.13 1015V1020.6M735.53 1015H748.73M735.53 1020.6H748.73M747.04 1015.16V1020.76M740.44 1015.16H753.64M740.44 1020.76H753.64M751.81 1015.32V1020.92M745.21 1015.32H758.41M745.21 1020.92H758.41M756.45 1015.48V1021.08M749.85 1015.48H763.05M749.85 1021.08H763.05M760.97 1015.64V1021.24M754.37 1015.64H767.57M754.37 1021.24H767.57M765.38 1015.8V1021.4M758.78 1015.8H771.98M758.78 1021.4H771.98" stroke="#ff7f0e" stroke-width="2" fill="none"/>
<path d="M79.3 1021L123.12 1021L243.8 1015.5L314.39 1007.3L364.48 998L403.33 991L435.08 984.8L461.92 982.3L485.17 980.5L505.67 981.3L524.02 984.6L540.61 989.6L555.76 996L569.7 1003.5L582.6 1014.5L594.61 1018L605.85 1024.6L616.4 1023.6L626.36 1022.8L635.77 1022L644.7 1020.3L653.19 1019.45L661.29 1018.6L669.03 1019L676.44 1019.4L683.55 1020.25L690.38 1021.1L696.95 1022.15L703.28 1023.2L709.39 1024.25L715.29 1025.3L721 1025.14L726.53 1024.98L731.89 1024.82L737.09 1024.66L742.13 1024.5L747.04 1024.5L751.81 1024.5L756.45 1024.5L760.97 1024.5L765.38 1024.5" stroke="#2ca02c" stroke-linejoin="round"/>
<path d="M123.12 1019V1023M116.52 1019H129.72M116.52 1023H129.72M243.8 1013.5V1017.5M237.2 1013.5H250.4M237.2 1017.5H250.4M314.39 1005.3V1009.3M307.79 1005.3H320.99M307.79 1009.3H320.99M364.48 996V1000M357.88 996H371.08M357.88 1000H371.08M403.33 989V993M396.73 989H409.93M396.73 993H409.93M435.08 982.8V986.8M428.48 982.8H441.68M428.48 986.8H441.68M461.92 979.6V985M455.32 979.6H468.52M455.32 985H468.52M485.17 977.8V983.2M478.57 977.8H491.77M478.57 983.2H491.77M505.67 978.6V984M499.07 978.6H512.27M499.07 984H512.27M524.02 981.9V987.3M517.42 981.9H530.62M517.42 987.3H530.62M540.61 986.9V992.3M534.01 986.9H547.21M534.01 992.3H547.21M555.76 993.3V998.7M549.16 993.3H562.36M549.16 998.7H562.36M569.7 1000.8V1006.2M563.1 1000.8H576.3M563.1 1006.2H576.3M582.6 1011.8V1017.2M576 1011.8H589.2M576 1017.2H589.2M594.61 1015.3V1020.7M588.01 1015.3H601.21M588.01 1020.7H601.21M605.85 1021.9V1027.3M599.25 1021.9H612.45M599.25 1027.3H612.45M616.4 1020.9V1026.3M609.8 1020.9H623M609.8 1026.3H623M626.36 1020.1V1025.5M619.76 1020.1H632.96M619.76 1025.5H632.96M635.77 1019.3V1024.7M629.17 1019.3H642.37M629.17 1024.7H642.37M644.7 1017.6V1023M638.1 1017.6H651.3M638.1 1023H651.3M653.19 1016.75V1022.15M646.59 1016.75H659.79M646.59 1022.15H659.79M661.29 1015.9V1021.3M654.69 1015.9H667.89M654.69 1021.3H667.89M669.03 1016.3V1021.7M662.43 1016.3H675.63M662.43 1021.7H675.63M676.44 1016.7V1022.1M669.84 1016.7H683.04M669.84 1022.1H683.04M683.55 1017.55V1022.95M676.95 1017.55H690.15M676.95 1022.95H690.15M690.38 1018.4V1023.8M683.78 1018.4H696.98M683.78 1023.8H696.98M696.95 1019.45V1024.85M690.35 1019.45H703.55M690.35 1024.85H703.55M703.28 1020.5V1025.9M696.68 1020.5H709.88M696.68 1025.9H709.88M709.39 1021.55V1026.95M702.79 1021.55H715.99M702.79 1026.95H715.99M715.29 1022.6V1028M708.69 1022.6H721.89M708.69 1028H721.89M721 1022.44V1027.84M714.4 1022.44H727.6M714.4 1027.84H727.6M726.53 1022.28V1027.68M719.93 1022.28H733.13M719.93 1027.68H733.13M731.89 1022.12V1027.52M725.29 1022.12H738.49M725.29 1027.52H738.49M737.09 1021.96V1027.36M730.49 1021.96H743.69M730.49 1027.36H743.69M742.13 1021.8V1027.2M735.53 1021.8H748.73M735.53 1027.2H748.73M747.04 1021.8V1027.2M740.44 1021.8H753.64M740.44 1027.2H753.64M751.81 1021.8V1027.2M745.21 1021.8H758.41M745.21 1027.2H758.41M756.45 1021.8V1027.2M749.85 1021.8H763.05M749.85 1027.2H763.05M760.97 1021.8V1027.2M754.37 1021.8H767.57M754.37 1027.2H767.57M765.38 1021.8V1027.2M758.78 1021.8H771.98M758.78 1027.2H771.98" stroke="#2ca02c" stroke-width="2" fill="none"/>
</g>
<clipPath id="cr"><rect x="765.4" y="624.5" width="680.8" height="421.9"/></clipPath>
<g clip-path="url(#cr)" fill="none" stroke-width="3.5">
<path d="M730 704.3L864.57 706.15L943.3 708.05L999.15 710L1042.47 712L1077.87 714.07L1107.8 716.19L1133.73 718.38L1156.59 720.64L1177.05 722.98L1195.55 725.39L1212.45 727.89L1227.99 730.48L1242.38 733.16L1255.77 735.96L1268.3 738.86L1280.07 741.89L1291.17 745.05L1301.67 748.37L1311.62 751.84L1321.1 755.49L1330.13 759.34L1338.76 763.41L1347.02 767.72L1354.95 772.32L1362.56 777.23L1369.89 782.5L1376.95 788.2L1383.76 794.39L1390.35 801.18L1396.71 808.68L1402.88 817.06L1408.85 826.57L1414.65 837.54L1420.27 850.52L1425.74 866.4L1431.06 886.88L1436.24 915.74L1441.28 965.08L1446.2 1200" stroke="#1f77b4" stroke-linejoin="round"/>
<path d="M1311.62 750.84V752.84M1305.02 750.84H1318.22M1305.02 752.84H1318.22M1321.1 754.49V756.49M1314.5 754.49H1327.7M1314.5 756.49H1327.7M1330.13 758.34V760.34M1323.53 758.34H1336.73M1323.53 760.34H1336.73M1338.76 762.41V764.41M1332.16 762.41H1345.36M1332.16 764.41H1345.36M1347.02 766.72V768.72M1340.42 766.72H1353.62M1340.42 768.72H1353.62M1354.95 771.32V773.32M1348.35 771.32H1361.55M1348.35 773.32H1361.55M1362.56 776.23V778.23M1355.96 776.23H1369.16M1355.96 778.23H1369.16M1369.89 781.5V783.5M1363.29 781.5H1376.49M1363.29 783.5H1376.49M1376.95 787.2V789.2M1370.35 787.2H1383.55M1370.35 789.2H1383.55M1383.76 793.39V795.39M1377.16 793.39H1390.36M1377.16 795.39H1390.36M1390.35 800.18V802.18M1383.75 800.18H1396.95M1383.75 802.18H1396.95M1396.71 807.68V809.68M1390.11 807.68H1403.31M1390.11 809.68H1403.31M1402.88 816.06V818.06M1396.28 816.06H1409.48M1396.28 818.06H1409.48M1408.85 825.57V827.57M1402.25 825.57H1415.45M1402.25 827.57H1415.45M1414.65 836.54V838.54M1408.05 836.54H1421.25M1408.05 838.54H1421.25M1420.27 849.52V851.52M1413.67 849.52H1426.87M1413.67 851.52H1426.87M1425.74 865.4V867.4M1419.14 865.4H1432.34M1419.14 867.4H1432.34M1431.06 885.88V887.88M1424.46 885.88H1437.66M1424.46 887.88H1437.66M1436.24 914.74V916.74M1429.64 914.74H1442.84M1429.64 916.74H1442.84M1441.28 964.08V966.08M1434.68 964.08H1447.88M1434.68 966.08H1447.88" stroke="#1f77b4" stroke-width="2" fill="none"/>
<path d="M730 627.5L864.57 632L943.3 639L999.15 647.9L1042.47 657.4L1077.87 668.3L1107.8 674.9L1133.73 685.8L1156.59 694.5L1177.05 703.3L1195.55 710.8L1212.45 715L1227.99 723.9L1242.38 727L1255.77 733.4L1268.3 741L1280.07 746.8L1291.17 752.6L1301.67 757.6L1311.62 761L1321.1 764.3L1330.13 766.5L1338.76 768.5L1347.02 770.1L1354.95 771.8L1362.56 773.5L1369.89 775.2L1376.95 777.2L1383.76 779.3L1390.35 781.8L1396.71 784.3L1402.88 787.7L1408.85 792.7L1414.65 796L1420.27 801.9L1425.74 812.7L1431.06 830.3L1436.24 857L1441.28 912L1446.2 1100" stroke="#ff7f0e" stroke-linejoin="round"/>
<path d="M730 626.8V628.2M723.4 626.8H736.6M723.4 628.2H736.6M864.57 631.3V632.7M857.97 631.3H871.17M857.97 632.7H871.17M943.3 638.3V639.7M936.7 638.3H949.9M936.7 639.7H949.9M999.15 647.2V648.6M992.55 647.2H1005.75M992.55 648.6H1005.75M1042.47 656.1V658.7M1035.87 656.1H1049.07M1035.87 658.7H1049.07M1077.87 667V669.6M1071.27 667H1084.47M1071.27 669.6H1084.47M1107.8 673.6V676.2M1101.2 673.6H1114.4M1101.2 676.2H1114.4M1133.73 684.5V687.1M1127.13 684.5H1140.33M1127.13 687.1H1140.33M1156.59 693.2V695.8M1149.99 693.2H1163.19M1149.99 695.8H1163.19M1177.05 702V704.6M1170.45 702H1183.65M1170.45 704.6H1183.65M1195.55 709.5V712.1M1188.95 709.5H1202.15M1188.95 712.1H1202.15M1212.45 713.7V716.3M1205.85 713.7H1219.05M1205.85 716.3H1219.05M1227.99 722.6V725.2M1221.39 722.6H1234.59M1221.39 725.2H1234.59M1242.38 725.7V728.3M1235.78 725.7H1248.98M1235.78 728.3H1248.98M1255.77 732.1V734.7M1249.17 732.1H1262.37M1249.17 734.7H1262.37M1268.3 739.7V742.3M1261.7 739.7H1274.9M1261.7 742.3H1274.9M1280.07 745.5V748.1M1273.47 745.5H1286.67M1273.47 748.1H1286.67M1291.17 751.3V753.9M1284.57 751.3H1297.77M1284.57 753.9H1297.77M1301.67 756.3V758.9M1295.07 756.3H1308.27M1295.07 758.9H1308.27M1311.62 759.7V762.3M1305.02 759.7H1318.22M1305.02 762.3H1318.22M1321.1 763V765.6M1314.5 763H1327.7M1314.5 765.6H1327.7M1330.13 765.2V767.8M1323.53 765.2H1336.73M1323.53 767.8H1336.73M1338.76 767.2V769.8M1332.16 767.2H1345.36M1332.16 769.8H1345.36M1347.02 768.8V771.4M1340.42 768.8H1353.62M1340.42 771.4H1353.62M1354.95 770.5V773.1M1348.35 770.5H1361.55M1348.35 773.1H1361.55M1362.56 772.2V774.8M1355.96 772.2H1369.16M1355.96 774.8H1369.16M1369.89 773.9V776.5M1363.29 773.9H1376.49M1363.29 776.5H1376.49M1376.95 775.9V778.5M1370.35 775.9H1383.55M1370.35 778.5H1383.55M1383.76 778V780.6M1377.16 778H1390.36M1377.16 780.6H1390.36M1390.35 780.8V782.8M1383.75 780.8H1396.95M1383.75 782.8H1396.95M1396.71 783.3V785.3M1390.11 783.3H1403.31M1390.11 785.3H1403.31M1402.88 786.7V788.7M1396.28 786.7H1409.48M1396.28 788.7H1409.48M1408.85 791.7V793.7M1402.25 791.7H1415.45M1402.25 793.7H1415.45M1414.65 795V797M1408.05 795H1421.25M1408.05 797H1421.25M1420.27 800.9V802.9M1413.67 800.9H1426.87M1413.67 802.9H1426.87M1425.74 811.7V813.7M1419.14 811.7H1432.34M1419.14 813.7H1432.34M1431.06 829.3V831.3M1424.46 829.3H1437.66M1424.46 831.3H1437.66M1436.24 856V858M1429.64 856H1442.84M1429.64 858H1442.84M1441.28 911V913M1434.68 911H1447.88M1434.68 913H1447.88" stroke="#ff7f0e" stroke-width="2" fill="none"/>
<path d="M730 604.5L864.57 637.4L943.3 680.3L999.15 713.3L1042.47 732.6L1077.87 747.2L1107.8 760.9L1133.73 771L1156.59 780L1177.05 789.3L1195.55 797.2L1212.45 803L1227.99 808.5L1242.38 813L1255.77 817.2L1268.3 822.5L1280.07 826.9L1291.17 832.8L1301.67 836.9L1311.62 841.1L1321.1 844.5L1330.13 847.8L1338.76 851.1L1347.02 854.5L1354.95 857.8L1362.56 862L1369.89 865.3L1376.95 868.7L1383.76 873.7L1390.35 877L1396.71 881.2L1402.88 884.8L1408.85 889.2L1414.65 891.7L1420.27 894.2L1425.74 895.9L1431.06 895.9L1436.24 901.8L1441.28 916.8L1446.2 1010" stroke="#2ca02c" stroke-linejoin="round"/>
<path d="M730 603V606M723.4 603H736.6M723.4 606H736.6M864.57 635.9V638.9M857.97 635.9H871.17M857.97 638.9H871.17M943.3 678.1V682.5M936.7 678.1H949.9M936.7 682.5H949.9M999.15 711.1V715.5M992.55 711.1H1005.75M992.55 715.5H1005.75M1042.47 730.4V734.8M1035.87 730.4H1049.07M1035.87 734.8H1049.07M1077.87 745V749.4M1071.27 745H1084.47M1071.27 749.4H1084.47M1107.8 758.7V763.1M1101.2 758.7H1114.4M1101.2 763.1H1114.4M1133.73 768.8V773.2M1127.13 768.8H1140.33M1127.13 773.2H1140.33M1156.59 777.8V782.2M1149.99 777.8H1163.19M1149.99 782.2H1163.19M1177.05 787.1V791.5M1170.45 787.1H1183.65M1170.45 791.5H1183.65M1195.55 795V799.4M1188.95 795H1202.15M1188.95 799.4H1202.15M1212.45 800.8V805.2M1205.85 800.8H1219.05M1205.85 805.2H1219.05M1227.99 806.3V810.7M1221.39 806.3H1234.59M1221.39 810.7H1234.59M1242.38 810.8V815.2M1235.78 810.8H1248.98M1235.78 815.2H1248.98M1255.77 815V819.4M1249.17 815H1262.37M1249.17 819.4H1262.37M1268.3 820.3V824.7M1261.7 820.3H1274.9M1261.7 824.7H1274.9M1280.07 824.7V829.1M1273.47 824.7H1286.67M1273.47 829.1H1286.67M1291.17 830.6V835M1284.57 830.6H1297.77M1284.57 835H1297.77M1301.67 834.7V839.1M1295.07 834.7H1308.27M1295.07 839.1H1308.27M1311.62 838.9V843.3M1305.02 838.9H1318.22M1305.02 843.3H1318.22M1321.1 842.3V846.7M1314.5 842.3H1327.7M1314.5 846.7H1327.7M1330.13 845.6V850M1323.53 845.6H1336.73M1323.53 850H1336.73M1338.76 848.9V853.3M1332.16 848.9H1345.36M1332.16 853.3H1345.36M1347.02 852.3V856.7M1340.42 852.3H1353.62M1340.42 856.7H1353.62M1354.95 855.6V860M1348.35 855.6H1361.55M1348.35 860H1361.55M1362.56 859.8V864.2M1355.96 859.8H1369.16M1355.96 864.2H1369.16M1369.89 863.1V867.5M1363.29 863.1H1376.49M1363.29 867.5H1376.49M1376.95 866.5V870.9M1370.35 866.5H1383.55M1370.35 870.9H1383.55M1383.76 871.5V875.9M1377.16 871.5H1390.36M1377.16 875.9H1390.36M1390.35 874.8V879.2M1383.75 874.8H1396.95M1383.75 879.2H1396.95M1396.71 879V883.4M1390.11 879H1403.31M1390.11 883.4H1403.31M1402.88 882.6V887M1396.28 882.6H1409.48M1396.28 887H1409.48M1408.85 887V891.4M1402.25 887H1415.45M1402.25 891.4H1415.45M1414.65 889.5V893.9M1408.05 889.5H1421.25M1408.05 893.9H1421.25M1420.27 892V896.4M1413.67 892H1426.87M1413.67 896.4H1426.87M1425.74 893.7V898.1M1419.14 893.7H1432.34M1419.14 898.1H1432.34M1431.06 893.7V898.1M1424.46 893.7H1437.66M1424.46 898.1H1437.66M1436.24 899.6V904M1429.64 899.6H1442.84M1429.64 904H1442.84M1441.28 914.6V919M1434.68 914.6H1447.88M1434.68 919H1447.88" stroke="#2ca02c" stroke-width="2" fill="none"/>
<path d="M730 645L864.57 731.7L943.3 775.4L999.15 804.8L1042.47 822.6L1077.87 834.3L1107.8 849.3L1133.73 858.5L1156.59 866.8L1177.05 873.5L1195.55 878.5L1212.45 884.4L1227.99 890.2L1242.38 897.2L1255.77 902.7L1268.3 908.1L1280.07 912.85L1291.17 917.6L1301.67 920.95L1311.62 924.3L1321.1 928.05L1330.13 931.8L1338.76 935.15L1347.02 938.5L1354.95 941.85L1362.56 945.2L1369.89 948.1L1376.95 951L1383.76 954.75L1390.35 958.5L1396.71 961.85L1402.88 965.2L1408.85 969.4L1414.65 973.6L1420.27 976.9L1425.74 980.2L1431.06 984.4L1436.24 988.6L1441.28 990L1446.2 1003" stroke="#d62728" stroke-linejoin="round"/>
<path d="M730 642.8V647.2M723.4 642.8H736.6M723.4 647.2H736.6M864.57 729.5V733.9M857.97 729.5H871.17M857.97 733.9H871.17M943.3 773.2V777.6M936.7 773.2H949.9M936.7 777.6H949.9M999.15 802.6V807M992.55 802.6H1005.75M992.55 807H1005.75M1042.47 820.4V824.8M1035.87 820.4H1049.07M1035.87 824.8H1049.07M1077.87 832.1V836.5M1071.27 832.1H1084.47M1071.27 836.5H1084.47M1107.8 847.1V851.5M1101.2 847.1H1114.4M1101.2 851.5H1114.4M1133.73 856.3V860.7M1127.13 856.3H1140.33M1127.13 860.7H1140.33M1156.59 864.6V869M1149.99 864.6H1163.19M1149.99 869H1163.19M1177.05 871.3V875.7M1170.45 871.3H1183.65M1170.45 875.7H1183.65M1195.55 876.3V880.7M1188.95 876.3H1202.15M1188.95 880.7H1202.15M1212.45 882.2V886.6M1205.85 882.2H1219.05M1205.85 886.6H1219.05M1227.99 888V892.4M1221.39 888H1234.59M1221.39 892.4H1234.59M1242.38 895V899.4M1235.78 895H1248.98M1235.78 899.4H1248.98M1255.77 900.5V904.9M1249.17 900.5H1262.37M1249.17 904.9H1262.37M1268.3 905.9V910.3M1261.7 905.9H1274.9M1261.7 910.3H1274.9M1280.07 910.65V915.05M1273.47 910.65H1286.67M1273.47 915.05H1286.67M1291.17 915.4V919.8M1284.57 915.4H1297.77M1284.57 919.8H1297.77M1301.67 918.75V923.15M1295.07 918.75H1308.27M1295.07 923.15H1308.27M1311.62 922.1V926.5M1305.02 922.1H1318.22M1305.02 926.5H1318.22M1321.1 925.85V930.25M1314.5 925.85H1327.7M1314.5 930.25H1327.7M1330.13 929.6V934M1323.53 929.6H1336.73M1323.53 934H1336.73M1338.76 932.95V937.35M1332.16 932.95H1345.36M1332.16 937.35H1345.36M1347.02 936.3V940.7M1340.42 936.3H1353.62M1340.42 940.7H1353.62M1354.95 939.65V944.05M1348.35 939.65H1361.55M1348.35 944.05H1361.55M1362.56 943V947.4M1355.96 943H1369.16M1355.96 947.4H1369.16M1369.89 945.9V950.3M1363.29 945.9H1376.49M1363.29 950.3H1376.49M1376.95 948.8V953.2M1370.35 948.8H1383.55M1370.35 953.2H1383.55M1383.76 952.55V956.95M1377.16 952.55H1390.36M1377.16 956.95H1390.36M1390.35 956.3V960.7M1383.75 956.3H1396.95M1383.75 960.7H1396.95M1396.71 959.65V964.05M1390.11 959.65H1403.31M1390.11 964.05H1403.31M1402.88 963V967.4M1396.28 963H1409.48M1396.28 967.4H1409.48M1408.85 967.2V971.6M1402.25 967.2H1415.45M1402.25 971.6H1415.45M1414.65 971.4V975.8M1408.05 971.4H1421.25M1408.05 975.8H1421.25M1420.27 974.7V979.1M1413.67 974.7H1426.87M1413.67 979.1H1426.87M1425.74 978V982.4M1419.14 978H1432.34M1419.14 982.4H1432.34M1431.06 982.2V986.6M1424.46 982.2H1437.66M1424.46 986.6H1437.66M1436.24 986.4V990.8M1429.64 986.4H1442.84M1429.64 990.8H1442.84M1441.28 987.8V992.2M1434.68 987.8H1447.88M1434.68 992.2H1447.88" stroke="#d62728" stroke-width="2" fill="none"/>
<path d="M730 746.4L864.57 807.6L943.3 838.5L999.15 858.6L1042.47 872.7L1077.87 883.5L1107.8 894.4L1133.73 903.6L1156.59 910.3L1177.05 916.9L1195.55 921.9L1212.45 926.1L1227.99 934.5L1242.38 938L1255.77 942L1268.3 946.5L1280.07 950.85L1291.17 955.2L1301.67 958.55L1311.62 961.9L1321.1 964.4L1330.13 966.9L1338.76 969.4L1347.02 971.9L1354.95 974.4L1362.56 976.9L1369.89 979.8L1376.95 982.7L1383.76 985.25L1390.35 987.8L1396.71 989.85L1402.88 991.9L1408.85 994L1414.65 996.1L1420.27 997.75L1425.74 999.4L1431.06 1001.5L1436.24 1003.6L1441.28 1007L1446.2 1010" stroke="#9467bd" stroke-linejoin="round"/>
<path d="M730 744.2V748.6M723.4 744.2H736.6M723.4 748.6H736.6M864.57 805.4V809.8M857.97 805.4H871.17M857.97 809.8H871.17M943.3 836.3V840.7M936.7 836.3H949.9M936.7 840.7H949.9M999.15 856.4V860.8M992.55 856.4H1005.75M992.55 860.8H1005.75M1042.47 870.5V874.9M1035.87 870.5H1049.07M1035.87 874.9H1049.07M1077.87 881.3V885.7M1071.27 881.3H1084.47M1071.27 885.7H1084.47M1107.8 892.2V896.6M1101.2 892.2H1114.4M1101.2 896.6H1114.4M1133.73 901.4V905.8M1127.13 901.4H1140.33M1127.13 905.8H1140.33M1156.59 908.1V912.5M1149.99 908.1H1163.19M1149.99 912.5H1163.19M1177.05 914.7V919.1M1170.45 914.7H1183.65M1170.45 919.1H1183.65M1195.55 919.7V924.1M1188.95 919.7H1202.15M1188.95 924.1H1202.15M1212.45 923.9V928.3M1205.85 923.9H1219.05M1205.85 928.3H1219.05M1227.99 932.3V936.7M1221.39 932.3H1234.59M1221.39 936.7H1234.59M1242.38 935.8V940.2M1235.78 935.8H1248.98M1235.78 940.2H1248.98M1255.77 939.8V944.2M1249.17 939.8H1262.37M1249.17 944.2H1262.37M1268.3 944.3V948.7M1261.7 944.3H1274.9M1261.7 948.7H1274.9M1280.07 948.65V953.05M1273.47 948.65H1286.67M1273.47 953.05H1286.67M1291.17 953V957.4M1284.57 953H1297.77M1284.57 957.4H1297.77M1301.67 956.35V960.75M1295.07 956.35H1308.27M1295.07 960.75H1308.27M1311.62 959.7V964.1M1305.02 959.7H1318.22M1305.02 964.1H1318.22M1321.1 962.2V966.6M1314.5 962.2H1327.7M1314.5 966.6H1327.7M1330.13 964.7V969.1M1323.53 964.7H1336.73M1323.53 969.1H1336.73M1338.76 967.2V971.6M1332.16 967.2H1345.36M1332.16 971.6H1345.36M1347.02 969.7V974.1M1340.42 969.7H1353.62M1340.42 974.1H1353.62M1354.95 972.2V976.6M1348.35 972.2H1361.55M1348.35 976.6H1361.55M1362.56 974.7V979.1M1355.96 974.7H1369.16M1355.96 979.1H1369.16M1369.89 977.6V982M1363.29 977.6H1376.49M1363.29 982H1376.49M1376.95 980.5V984.9M1370.35 980.5H1383.55M1370.35 984.9H1383.55M1383.76 983.05V987.45M1377.16 983.05H1390.36M1377.16 987.45H1390.36M1390.35 985.6V990M1383.75 985.6H1396.95M1383.75 990H1396.95M1396.71 987.65V992.05M1390.11 987.65H1403.31M1390.11 992.05H1403.31M1402.88 989.7V994.1M1396.28 989.7H1409.48M1396.28 994.1H1409.48M1408.85 991.8V996.2M1402.25 991.8H1415.45M1402.25 996.2H1415.45M1414.65 993.9V998.3M1408.05 993.9H1421.25M1408.05 998.3H1421.25M1420.27 995.55V999.95M1413.67 995.55H1426.87M1413.67 999.95H1426.87M1425.74 997.2V1001.6M1419.14 997.2H1432.34M1419.14 1001.6H1432.34M1431.06 999.3V1003.7M1424.46 999.3H1437.66M1424.46 1003.7H1437.66M1436.24 1001.4V1005.8M1429.64 1001.4H1442.84M1429.64 1005.8H1442.84M1441.28 1004.8V1009.2M1434.68 1004.8H1447.88M1434.68 1009.2H1447.88" stroke="#9467bd" stroke-width="2" fill="none"/>
<path d="M730 541.51L1446.2 804.08" stroke="#808080" stroke-dasharray="12.36 5.34" stroke-dashoffset="-6.9"/>
<path d="M730 629.21L1446.2 891.79" stroke="#808080" stroke-dasharray="12.36 5.34" stroke-dashoffset="-6.9"/>
<path d="M730 702.79L1446.2 965.36" stroke="#808080" stroke-dasharray="12.36 5.34" stroke-dashoffset="-6.9"/>
<path d="M730 754.74L1446.2 1017.32" stroke="#808080" stroke-dasharray="12.36 5.34" stroke-dashoffset="-6.9"/>
<path d="M730 704.3L748.06 704.48L764.59 704.66L779.81 704.84L793.93 705.02L807.1 705.2L819.42 705.38L831.01 705.56L841.95 705.74L852.3 705.92L862.13 706.1L871.49 706.29L880.41 706.47L888.95 706.65L897.12 706.84L904.96 707.02L912.5 707.21L919.76 707.39L926.75 707.58L933.51 707.77L940.03 707.95L946.34 708.14L952.46 708.33L958.39 708.52L964.14 708.71L969.72 708.9L975.16 709.09L980.44 709.28L985.58 709.47L990.59 709.66L995.47 709.85L1000.24 710.04L1004.89 710.24L1009.43 710.43L1013.87 710.63L1018.2 710.82L1022.45 711.02L1026.6 711.21L1030.67 711.41L1034.65 711.6L1038.55 711.8L1042.37 712L1046.13 712.2L1049.81 712.4L1053.42 712.6L1056.96 712.8L1060.45 713L1063.87 713.2L1067.23 713.4L1070.53 713.6L1073.78 713.81L1076.98 714.01L1080.12 714.21L1083.22 714.42L1086.26 714.63L1089.26 714.83L1092.21 715.04L1095.12 715.24L1097.99 715.45L1100.81 715.66L1103.59 715.87L1106.34 716.08L1109.04 716.29L1111.71 716.5L1114.34 716.71L1116.94 716.92L1119.5 717.14L1122.03 717.35L1124.53 717.57L1127 717.78L1129.43 718L1131.83 718.21L1134.21 718.43L1136.55 718.65L1138.87 718.86L1141.16 719.08L1143.43 719.3L1145.67 719.52L1147.88 719.74L1150.07 719.96L1152.23 720.19L1154.37 720.41L1156.48 720.63L1158.58 720.86L1160.65 721.08L1162.7 721.31L1164.72 721.53L1166.73 721.76L1168.72 721.99L1170.68 722.22L1172.63 722.45L1174.56 722.68L1176.46 722.91L1178.35 723.14L1180.22 723.37L1182.08 723.6L1183.91 723.84L1185.73 724.07L1187.53 724.31L1189.32 724.54L1191.09 724.78L1192.84 725.02L1194.58 725.26L1196.3 725.49L1198.01 725.73L1199.7 725.98L1201.38 726.22L1203.04 726.46L1204.69 726.7L1206.32 726.95L1207.94 727.19L1209.55 727.44L1211.15 727.69L1212.73 727.93L1214.3 728.18L1215.85 728.43L1217.4 728.68L1218.93 728.93L1220.45 729.18L1221.96 729.44L1223.45 729.69L1224.94 729.94L1226.41 730.2L1227.87 730.46L1229.33 730.71L1230.77 730.97L1232.2 731.23L1233.62 731.49L1235.03 731.75L1236.42 732.02L1237.81 732.28L1239.19 732.54L1240.56 732.81L1241.92 733.07L1243.27 733.34L1244.61 733.61L1245.95 733.88L1247.27 734.15L1248.58 734.42L1249.89 734.69L1251.18 734.97L1252.47 735.24L1253.75 735.51L1255.02 735.79L1256.29 736.07L1257.54 736.35L1258.79 736.63L1260.03 736.91L1261.26 737.19L1262.48 737.47L1263.69 737.76L1264.9 738.04L1266.1 738.33L1267.3 738.62L1268.48 738.91L1269.66 739.19L1270.83 739.49L1271.99 739.78L1273.15 740.07L1274.3 740.37L1275.45 740.66L1276.58 740.96L1277.71 741.26L1278.84 741.56L1279.96 741.86L1281.07 742.16L1282.17 742.46L1283.27 742.77L1284.36 743.08L1285.45 743.38L1286.53 743.69L1287.6 744L1288.67 744.31L1289.73 744.63L1290.79 744.94L1291.84 745.26L1292.88 745.57L1293.92 745.89L1294.96 746.21L1295.99 746.53L1297.01 746.86L1298.03 747.18L1299.04 747.51L1300.05 747.83L1301.05 748.16L1302.05 748.49L1303.04 748.82L1304.03 749.16L1305.01 749.49L1305.98 749.83L1306.96 750.17L1307.92 750.51L1308.89 750.85L1309.84 751.19L1310.8 751.54L1311.74 751.88L1312.69 752.23L1313.63 752.58L1314.56 752.93L1315.49 753.29L1316.42 753.64L1317.34 754L1318.25 754.36L1319.17 754.72L1320.08 755.08L1320.98 755.44L1321.88 755.81L1322.78 756.18L1323.67 756.55L1324.55 756.92L1325.44 757.29L1326.32 757.67L1327.19 758.04L1328.06 758.42L1328.93 758.81L1329.8 759.19L1330.66 759.58L1331.51 759.96L1332.36 760.35L1333.21 760.75L1334.06 761.14L1334.9 761.54L1335.74 761.94L1336.57 762.34L1337.4 762.74L1338.23 763.14L1339.05 763.55L1339.87 763.96L1340.69 764.38L1341.5 764.79L1342.31 765.21L1343.12 765.63L1343.92 766.05L1344.72 766.48L1345.52 766.9L1346.31 767.33L1347.1 767.77L1347.89 768.2L1348.67 768.64L1349.45 769.08L1350.23 769.52L1351 769.97L1351.78 770.42L1352.54 770.87L1353.31 771.33L1354.07 771.78L1354.83 772.24L1355.59 772.71L1356.34 773.17L1357.09 773.64L1357.84 774.12L1358.58 774.59L1359.32 775.07L1360.06 775.56L1360.8 776.04L1361.53 776.53L1362.26 777.02L1362.99 777.52L1363.72 778.02L1364.44 778.52L1365.16 779.03L1365.87 779.54L1366.59 780.05L1367.3 780.57L1368.01 781.09L1368.72 781.62L1369.42 782.15L1370.12 782.68L1370.82 783.22L1371.52 783.76L1372.21 784.3L1372.9 784.85L1373.59 785.41L1374.28 785.96L1374.96 786.53L1375.64 787.09L1376.32 787.67L1377 788.24L1377.68 788.82L1378.35 789.41L1379.02 790L1379.69 790.6L1380.35 791.2L1381.01 791.8L1381.68 792.41L1382.33 793.03L1382.99 793.65L1383.64 794.28L1384.3 794.91L1384.95 795.55L1385.59 796.19L1386.24 796.84L1386.88 797.5L1387.52 798.16L1388.16 798.83L1388.8 799.5L1389.44 800.19L1390.07 800.87L1390.7 801.57L1391.33 802.27L1391.96 802.98L1392.58 803.69L1393.2 804.42L1393.82 805.15L1394.44 805.88L1395.06 806.63L1395.67 807.38L1396.29 808.14L1396.9 808.91L1397.51 809.69L1398.11 810.48L1398.72 811.27L1399.32 812.08L1399.92 812.89L1400.52 813.71L1401.12 814.55L1401.72 815.39L1402.31 816.24L1402.9 817.1L1403.5 817.98L1404.08 818.86L1404.67 819.76L1405.26 820.66L1405.84 821.58L1406.42 822.51L1407 823.45L1407.58 824.41L1408.16 825.38L1408.73 826.36L1409.3 827.36L1409.88 828.36L1410.45 829.39L1411.01 830.43L1411.58 831.48L1412.14 832.55L1412.71 833.64L1413.27 834.74L1413.83 835.86L1414.39 837L1414.94 838.16L1415.5 839.34L1416.05 840.53L1416.6 841.75L1417.16 842.99L1417.7 844.25L1418.25 845.53L1418.8 846.84L1419.34 848.17L1419.88 849.52L1420.43 850.9L1420.96 852.31L1421.5 853.75L1422.04 855.22L1422.58 856.72L1423.11 858.25L1423.64 859.81L1424.17 861.41L1424.7 863.05L1425.23 864.72L1425.76 866.44L1426.28 868.2L1426.8 870L1427.33 871.85L1427.85 873.74L1428.37 875.69L1428.89 877.7L1429.4 879.76L1429.92 881.89L1430.43 884.08L1430.94 886.34L1431.45 888.67L1431.96 891.08L1432.47 893.58L1432.98 896.17L1433.49 898.86L1433.99 901.65L1434.49 904.55L1435 907.58L1435.5 910.74L1436 914.05L1436.49 917.53L1436.99 921.18L1437.49 925.03L1437.98 929.09L1438.47 933.41L1438.97 938L1439.46 942.91L1439.95 948.18L1440.43 953.88L1440.92 960.07L1441.41 966.85L1441.89 974.35L1442.37 982.73L1442.86 992.23L1443.34 1003.19L1443.82 1016.16L1444.3 1032.03L1444.77 1052.48L1445.25 1081.3L1445.72 1130.49L1446.2 1522" stroke="#8080ff" stroke-dasharray="12.36 5.34" stroke-dashoffset="-12.3"/>
<path d="M730 654.96L748.06 655.14L764.59 655.32L779.81 655.5L793.93 655.68L807.1 655.86L819.42 656.04L831.01 656.22L841.95 656.4L852.3 656.58L862.13 656.77L871.49 656.95L880.41 657.13L888.95 657.32L897.12 657.5L904.96 657.68L912.5 657.87L919.76 658.05L926.75 658.24L933.51 658.43L940.03 658.61L946.34 658.8L952.46 658.99L958.39 659.18L964.14 659.37L969.72 659.56L975.16 659.75L980.44 659.94L985.58 660.13L990.59 660.32L995.47 660.51L1000.24 660.71L1004.89 660.9L1009.43 661.09L1013.87 661.29L1018.2 661.48L1022.45 661.68L1026.6 661.87L1030.67 662.07L1034.65 662.27L1038.55 662.46L1042.37 662.66L1046.13 662.86L1049.81 663.06L1053.42 663.26L1056.96 663.46L1060.45 663.66L1063.87 663.86L1067.23 664.06L1070.53 664.27L1073.78 664.47L1076.98 664.67L1080.12 664.88L1083.22 665.08L1086.26 665.29L1089.26 665.49L1092.21 665.7L1095.12 665.91L1097.99 666.11L1100.81 666.32L1103.59 666.53L1106.34 666.74L1109.04 666.95L1111.71 667.16L1114.34 667.37L1116.94 667.59L1119.5 667.8L1122.03 668.01L1124.53 668.23L1127 668.44L1129.43 668.66L1131.83 668.87L1134.21 669.09L1136.55 669.31L1138.87 669.52L1141.16 669.74L1143.43 669.96L1145.67 670.18L1147.88 670.4L1150.07 670.62L1152.23 670.85L1154.37 671.07L1156.48 671.29L1158.58 671.52L1160.65 671.74L1162.7 671.97L1164.72 672.19L1166.73 672.42L1168.72 672.65L1170.68 672.88L1172.63 673.11L1174.56 673.34L1176.46 673.57L1178.35 673.8L1180.22 674.03L1182.08 674.26L1183.91 674.5L1185.73 674.73L1187.53 674.97L1189.32 675.2L1191.09 675.44L1192.84 675.68L1194.58 675.92L1196.3 676.16L1198.01 676.4L1199.7 676.64L1201.38 676.88L1203.04 677.12L1204.69 677.36L1206.32 677.61L1207.94 677.85L1209.55 678.1L1211.15 678.35L1212.73 678.59L1214.3 678.84L1215.85 679.09L1217.4 679.34L1218.93 679.59L1220.45 679.84L1221.96 680.1L1223.45 680.35L1224.94 680.61L1226.41 680.86L1227.87 681.12L1229.33 681.38L1230.77 681.63L1232.2 681.89L1233.62 682.15L1235.03 682.41L1236.42 682.68L1237.81 682.94L1239.19 683.2L1240.56 683.47L1241.92 683.74L1243.27 684L1244.61 684.27L1245.95 684.54L1247.27 684.81L1248.58 685.08L1249.89 685.35L1251.18 685.63L1252.47 685.9L1253.75 686.18L1255.02 686.45L1256.29 686.73L1257.54 687.01L1258.79 687.29L1260.03 687.57L1261.26 687.85L1262.48 688.13L1263.69 688.42L1264.9 688.7L1266.1 688.99L1267.3 689.28L1268.48 689.57L1269.66 689.86L1270.83 690.15L1271.99 690.44L1273.15 690.73L1274.3 691.03L1275.45 691.32L1276.58 691.62L1277.71 691.92L1278.84 692.22L1279.96 692.52L1281.07 692.82L1282.17 693.13L1283.27 693.43L1284.36 693.74L1285.45 694.04L1286.53 694.35L1287.6 694.66L1288.67 694.97L1289.73 695.29L1290.79 695.6L1291.84 695.92L1292.88 696.23L1293.92 696.55L1294.96 696.87L1295.99 697.19L1297.01 697.52L1298.03 697.84L1299.04 698.17L1300.05 698.49L1301.05 698.82L1302.05 699.15L1303.04 699.49L1304.03 699.82L1305.01 700.15L1305.98 700.49L1306.96 700.83L1307.92 701.17L1308.89 701.51L1309.84 701.85L1310.8 702.2L1311.74 702.54L1312.69 702.89L1313.63 703.24L1314.56 703.59L1315.49 703.95L1316.42 704.3L1317.34 704.66L1318.25 705.02L1319.17 705.38L1320.08 705.74L1320.98 706.1L1321.88 706.47L1322.78 706.84L1323.67 707.21L1324.55 707.58L1325.44 707.95L1326.32 708.33L1327.19 708.71L1328.06 709.09L1328.93 709.47L1329.8 709.85L1330.66 710.24L1331.51 710.62L1332.36 711.01L1333.21 711.41L1334.06 711.8L1334.9 712.2L1335.74 712.6L1336.57 713L1337.4 713.4L1338.23 713.81L1339.05 714.21L1339.87 714.62L1340.69 715.04L1341.5 715.45L1342.31 715.87L1343.12 716.29L1343.92 716.71L1344.72 717.14L1345.52 717.56L1346.31 717.99L1347.1 718.43L1347.89 718.86L1348.67 719.3L1349.45 719.74L1350.23 720.18L1351 720.63L1351.78 721.08L1352.54 721.53L1353.31 721.99L1354.07 722.44L1354.83 722.91L1355.59 723.37L1356.34 723.84L1357.09 724.31L1357.84 724.78L1358.58 725.25L1359.32 725.73L1360.06 726.22L1360.8 726.7L1361.53 727.19L1362.26 727.68L1362.99 728.18L1363.72 728.68L1364.44 729.18L1365.16 729.69L1365.87 730.2L1366.59 730.71L1367.3 731.23L1368.01 731.75L1368.72 732.28L1369.42 732.81L1370.12 733.34L1370.82 733.88L1371.52 734.42L1372.21 734.96L1372.9 735.51L1373.59 736.07L1374.28 736.63L1374.96 737.19L1375.64 737.76L1376.32 738.33L1377 738.9L1377.68 739.48L1378.35 740.07L1379.02 740.66L1379.69 741.26L1380.35 741.86L1381.01 742.46L1381.68 743.07L1382.33 743.69L1382.99 744.31L1383.64 744.94L1384.3 745.57L1384.95 746.21L1385.59 746.85L1386.24 747.5L1386.88 748.16L1387.52 748.82L1388.16 749.49L1388.8 750.17L1389.44 750.85L1390.07 751.53L1390.7 752.23L1391.33 752.93L1391.96 753.64L1392.58 754.35L1393.2 755.08L1393.82 755.81L1394.44 756.54L1395.06 757.29L1395.67 758.04L1396.29 758.8L1396.9 759.57L1397.51 760.35L1398.11 761.14L1398.72 761.93L1399.32 762.74L1399.92 763.55L1400.52 764.37L1401.12 765.21L1401.72 766.05L1402.31 766.9L1402.9 767.76L1403.5 768.64L1404.08 769.52L1404.67 770.42L1405.26 771.32L1405.84 772.24L1406.42 773.17L1407 774.12L1407.58 775.07L1408.16 776.04L1408.73 777.02L1409.3 778.02L1409.88 779.03L1410.45 780.05L1411.01 781.09L1411.58 782.14L1412.14 783.21L1412.71 784.3L1413.27 785.4L1413.83 786.53L1414.39 787.66L1414.94 788.82L1415.5 790L1416.05 791.19L1416.6 792.41L1417.16 793.65L1417.7 794.91L1418.25 796.19L1418.8 797.5L1419.34 798.83L1419.88 800.18L1420.43 801.57L1420.96 802.97L1421.5 804.41L1422.04 805.88L1422.58 807.38L1423.11 808.91L1423.64 810.47L1424.17 812.07L1424.7 813.71L1425.23 815.38L1425.76 817.1L1426.28 818.86L1426.8 820.66L1427.33 822.51L1427.85 824.41L1428.37 826.36L1428.89 828.36L1429.4 830.42L1429.92 832.55L1430.43 834.74L1430.94 837L1431.45 839.33L1431.96 841.74L1432.47 844.24L1432.98 846.83L1433.49 849.52L1433.99 852.31L1434.49 855.21L1435 858.24L1435.5 861.41L1436 864.72L1436.49 868.19L1436.99 871.84L1437.49 875.69L1437.98 879.75L1438.47 884.07L1438.97 888.66L1439.46 893.57L1439.95 898.84L1440.43 904.54L1440.92 910.73L1441.41 917.51L1441.89 925.01L1442.37 933.39L1442.86 942.89L1443.34 953.85L1443.82 966.82L1444.3 982.69L1444.77 1003.14L1445.25 1031.96L1445.72 1081.15L1446.2 1472.66" stroke="#8080ff" stroke-dasharray="12.36 5.34" stroke-dashoffset="-12.3"/>
</g>
<rect x="84.3" y="624.5" width="681.1" height="421.9" fill="none" stroke="#000" stroke-width="2.9"/>
<rect x="765.4" y="624.5" width="680.8" height="421.9" fill="none" stroke="#000" stroke-width="2.9"/>
<rect x="88.5" y="629.2" width="242.5" height="69.6" rx="3.5" fill="#fff" stroke="#d3d3d3" stroke-width="2.8"/>
<path d="M91 646.6H143" stroke="#808080" stroke-width="4.6" stroke-dasharray="17.8 7.7" fill="none"/>
<path d="M91 685.6H143" stroke="#8080ff" stroke-width="4.6" stroke-dasharray="17.8 7.7" fill="none"/>
<rect x="574" y="628.4" width="188" height="179.3" rx="3.5" fill="#fff" stroke="#d3d3d3" stroke-width="2.8"/>
<path d="M578 646.6H634M606 634V659.2" stroke="#9467bd" stroke-width="4.9" fill="none"/>
<path d="M596.4 634H615.6M596.4 659.2H615.6" stroke="#9467bd" stroke-width="2.8" fill="none"/>
<path d="M578 682.1H634M606 669.5V694.7" stroke="#d62728" stroke-width="4.9" fill="none"/>
<path d="M596.4 669.5H615.6M596.4 694.7H615.6" stroke="#d62728" stroke-width="2.8" fill="none"/>
<path d="M578 718.1H634M606 705.5V730.7" stroke="#1f77b4" stroke-width="4.9" fill="none"/>
<path d="M596.4 705.5H615.6M596.4 730.7H615.6" stroke="#1f77b4" stroke-width="2.8" fill="none"/>
<path d="M578 754H634M606 741.4V766.6" stroke="#ff7f0e" stroke-width="4.9" fill="none"/>
<path d="M596.4 741.4H615.6M596.4 766.6H615.6" stroke="#ff7f0e" stroke-width="2.8" fill="none"/>
<path d="M578 789.7H634M606 777.1V802.3" stroke="#2ca02c" stroke-width="4.9" fill="none"/>
<path d="M596.4 777.1H615.6M596.4 802.3H615.6" stroke="#2ca02c" stroke-width="2.8" fill="none"/>
<path d="M778.1 862H994.5Q998 862 998 865.5V966.3H1238.5Q1242 966.3 1242 969.8V1035Q1242 1038.5 1238.5 1038.5H778.1Q774.6 1038.5 774.6 1035V865.5Q774.6 862 778.1 862Z" fill="#fff" stroke="#d3d3d3" stroke-width="2.8" stroke-linejoin="round"/>
<path d="M783 885H828" stroke="#808080" stroke-width="4" stroke-dasharray="15.6 6.7" fill="none"/>
<path d="M783 918.6H828" stroke="#8080ff" stroke-width="4" stroke-dasharray="15.6 6.7" fill="none"/>
<path d="M781.2 951.5H829.7M805.45 940.1V962.9" stroke="#1f77b4" stroke-width="4" fill="none"/>
<path d="M796.95 940.1H813.95M796.95 962.9H813.95" stroke="#1f77b4" stroke-width="2.4" fill="none"/>
<path d="M781.2 984.3H829.7M805.45 972.9V995.7" stroke="#ff7f0e" stroke-width="4" fill="none"/>
<path d="M796.95 972.9H813.95M796.95 995.7H813.95" stroke="#ff7f0e" stroke-width="2.4" fill="none"/>
<path d="M781.2 1017H829.7M805.45 1005.6V1028.4" stroke="#2ca02c" stroke-width="4" fill="none"/>
<path d="M796.95 1005.6H813.95M796.95 1028.4H813.95" stroke="#2ca02c" stroke-width="2.4" fill="none"/>
<path d="M1021.2 984.3H1069.1M1045.15 972.9V995.7" stroke="#d62728" stroke-width="4" fill="none"/>
<path d="M1036.65 972.9H1053.65M1036.65 995.7H1053.65" stroke="#d62728" stroke-width="2.4" fill="none"/>
<path d="M1021.2 1017H1069.1M1045.15 1005.6V1028.4" stroke="#9467bd" stroke-width="4" fill="none"/>
<path d="M1036.65 1005.6H1053.65M1036.65 1028.4H1053.65" stroke="#9467bd" stroke-width="2.4" fill="none"/>
<g fill="#000">
<text transform="translate(522.79 34.1) scale(0.9299 1)" font-size="51">Initial</text>
<text transform="translate(651.14 34.1) scale(0.9269 1)" font-size="51">Amplitude</text>
<text transform="translate(870.81 34.1) scale(0.9731 1)" font-size="51" class="i">A</text>
<text transform="translate(901.2 41.7) scale(0.9033 1)" font-size="35">0</text>
<text transform="translate(72.91 83.9) scale(0.9201 1)" font-size="42.5">0.0</text>
<text transform="translate(322.02 83.9) scale(0.9276 1)" font-size="42.5">0.2</text>
<text transform="translate(570.51 83.9) scale(0.9166 1)" font-size="42.5">0.4</text>
<text transform="translate(819.83 83.9) scale(0.9136 1)" font-size="42.5">0.6</text>
<text transform="translate(1068.79 83.9) scale(0.9201 1)" font-size="42.5">0.8</text>
<text transform="translate(1317.78 83.9) scale(0.9022 1)" font-size="42.5">1.0</text>
<text transform="translate(1398.54 59.8) scale(0.8842 1)" font-size="43">log</text>
<text transform="translate(1450.61 59.8) scale(0.7364 1)" font-size="46">(</text>
<text transform="translate(1461.13 59.8) scale(0.8321 1)" font-size="43" class="i" stroke="#000" stroke-width="0.56">ϵ</text>
<text transform="translate(1479.81 59.8) scale(0.8041 1)" font-size="46">)</text>
<text transform="translate(1423.45 134.91) scale(1.2995 1)" font-size="42.5">−</text>
<text transform="translate(1454.87 131.3) scale(0.9441 1)" font-size="42.5">1.0</text>
<text transform="translate(1423.45 222.51) scale(1.2995 1)" font-size="42.5">−</text>
<text transform="translate(1454.87 218.9) scale(0.9449 1)" font-size="42.5">1.5</text>
<text transform="translate(1423.45 310.11) scale(1.2995 1)" font-size="42.5">−</text>
<text transform="translate(1454.84 306.5) scale(0.9448 1)" font-size="42.5">2.0</text>
<text transform="translate(1423.45 397.71) scale(1.2995 1)" font-size="42.5">−</text>
<text transform="translate(1454.83 394.1) scale(0.9456 1)" font-size="42.5">2.5</text>
<text transform="translate(1423.45 485.31) scale(1.2995 1)" font-size="42.5">−</text>
<text transform="translate(1454.67 481.7) scale(0.9480 1)" font-size="42.5">3.0</text>
<text transform="translate(1423.45 572.91) scale(1.2995 1)" font-size="42.5">−</text>
<text transform="translate(1454.67 569.3) scale(0.9488 1)" font-size="42.5">3.5</text>
<text transform="translate(9.71 135.5) scale(0.9221 1)" font-size="42.5">0.0</text>
<text transform="translate(9.79 631.6) scale(0.9316 1)" font-size="42.5">0.2</text>
<text transform="translate(36 502.69) rotate(-90) scale(0.9495 1)" font-size="51">Gap</text>
<text transform="translate(36 406.26) rotate(-90) scale(1.0000 1)" font-size="52.5">|</text>
<text transform="translate(36 393.93) rotate(-90) scale(1.0487 1)" font-size="51" class="i">ϕ</text>
<text transform="translate(43.6 367.99) rotate(-90) scale(0.9924 1)" font-size="34">0</text>
<text transform="translate(40.34 339.9) rotate(-90) scale(1.2599 1)" font-size="51">−</text>
<text transform="translate(36 292.41) rotate(-90) scale(1.0320 1)" font-size="51" class="i">ϕ</text>
<text transform="translate(43.6 267.72) rotate(-90) scale(0.8772 1)" font-size="34">1</text>
<text transform="translate(36 247.76) rotate(-90) scale(1.0000 1)" font-size="52.5">|</text>
<text transform="translate(106.24 169.4) scale(1.0117 1)" font-size="53" fill="#ab0000">(a)</text>
<text transform="translate(204.42 352.6) scale(0.9800 1)" font-size="53" fill="#ff0000">(b)</text>
<text transform="translate(289.4 578) scale(0.9453 1)" font-size="53" fill="#ffccc8">(c)</text>
<text transform="translate(3.32 749.2) scale(0.8988 1)" font-size="41.5">10</text>
<text transform="translate(40.19 736.98) scale(1.4429 1)" font-size="28">−</text>
<text transform="translate(61.91 734.6) scale(1.0513 1)" font-size="28">2</text>
<text transform="translate(3.32 1060.6) scale(0.8988 1)" font-size="41.5">10</text>
<text transform="translate(40.19 1048.38) scale(1.4429 1)" font-size="28">−</text>
<text transform="translate(62.67 1046) scale(0.9681 1)" font-size="28">4</text>
<text transform="translate(207.12 1091.4) scale(0.8988 1)" font-size="41.5">10</text>
<text transform="translate(243.99 1079.18) scale(1.4429 1)" font-size="28">−</text>
<text transform="translate(265.71 1076.8) scale(1.0513 1)" font-size="28">2</text>
<text transform="translate(609.02 1091.4) scale(0.8988 1)" font-size="41.5">10</text>
<text transform="translate(645.89 1079.18) scale(1.4429 1)" font-size="28">−</text>
<text transform="translate(666.75 1076.8) scale(0.8724 1)" font-size="28">1</text>
<text transform="translate(49.8 947.76) rotate(-90) scale(0.9235 1)" font-size="51">Error</text>
<text transform="translate(49.8 829.12) rotate(-90) scale(0.8031 1)" font-size="51" class="i" stroke="#000" stroke-width="0.66">ϵ</text>
<text transform="translate(295.23 1101.9) scale(0.9409 1)" font-size="51">Gap</text>
<text transform="translate(389.74 1101.9) scale(1.0000 1)" font-size="52.5">|</text>
<text transform="translate(401.52 1101.9) scale(1.0070 1)" font-size="51" class="i">ϕ</text>
<text transform="translate(428.23 1109.5) scale(0.9021 1)" font-size="34">0</text>
<text transform="translate(454.15 1106.24) scale(1.2388 1)" font-size="51">−</text>
<text transform="translate(501.83 1101.9) scale(1.0029 1)" font-size="51" class="i">ϕ</text>
<text transform="translate(529.1 1109.5) scale(0.8354 1)" font-size="34">1</text>
<text transform="translate(544.54 1101.9) scale(1.0000 1)" font-size="52.5">|</text>
<text transform="translate(962.82 1085.1) scale(0.9263 1)" font-size="41.5">10</text>
<text transform="translate(1000.79 1072.88) scale(1.4429 1)" font-size="28">−</text>
<text transform="translate(1021.65 1070.5) scale(0.8724 1)" font-size="28">1</text>
<text transform="translate(1421.36 1085.1) scale(0.8602 1)" font-size="41.5">10</text>
<text transform="translate(1457.66 1070.5) scale(0.9775 1)" font-size="28">0</text>
<text transform="translate(1453.36 715.9) scale(0.8877 1)" font-size="41.5">10</text>
<text transform="translate(1489.79 703.68) scale(1.4429 1)" font-size="28">−</text>
<text transform="translate(1511.51 701.3) scale(1.0513 1)" font-size="28">2</text>
<text transform="translate(1453.36 1044.7) scale(0.8877 1)" font-size="41.5">10</text>
<text transform="translate(1489.79 1032.48) scale(1.4429 1)" font-size="28">−</text>
<text transform="translate(1512.27 1030.1) scale(0.9681 1)" font-size="28">4</text>
<text transform="translate(1040.03 1104.6) scale(0.9064 1)" font-size="51">Initial</text>
<text transform="translate(1164.75 1104.6) scale(0.9212 1)" font-size="51">amplitude</text>
<text transform="translate(1369.85 1104.6) scale(0.9497 1)" font-size="51" class="i">A</text>
<text transform="translate(1399.63 1111.8) scale(0.9021 1)" font-size="34">0</text>
<text transform="translate(1504.4 933.76) rotate(-90) scale(0.9273 1)" font-size="51">Error</text>
<text transform="translate(1504.4 820.72) rotate(-90) scale(0.8031 1)" font-size="51" class="i" stroke="#000" stroke-width="0.66">ϵ</text>
<text transform="translate(158.58 652.8) scale(0.9530 1)" font-size="29" class="i" stroke="#000" stroke-width="0.38">ϵ</text>
<text transform="translate(180.37 655.88) scale(1.1841 1)" font-size="30.78" font-family="DejaVu Serif,Liberation Serif,serif">∝</text>
<text transform="translate(210.5 652.8) scale(1.0000 1)" font-size="28">|</text>
<text transform="translate(217.32 652.8) scale(0.9354 1)" font-size="27" class="i">ϕ</text>
<text transform="translate(232.26 656.1) scale(0.9573 1)" font-size="17.5">0</text>
<text transform="translate(247.43 655.09) scale(1.2416 1)" font-size="27">−</text>
<text transform="translate(273.42 652.8) scale(0.9354 1)" font-size="27" class="i">ϕ</text>
<text transform="translate(288.2 656.1) scale(0.9090 1)" font-size="17.5">1</text>
<text transform="translate(298.4 652.8) scale(1.0000 1)" font-size="28">|</text>
<text transform="translate(158.58 691) scale(0.9530 1)" font-size="29" class="i" stroke="#000" stroke-width="0.38">ϵ</text>
<text transform="translate(180.37 694.08) scale(1.1841 1)" font-size="30.78" font-family="DejaVu Serif,Liberation Serif,serif">∝</text>
<text transform="translate(210.5 691) scale(1.0000 1)" font-size="28">|</text>
<text transform="translate(217.32 691) scale(0.9354 1)" font-size="27" class="i">ϕ</text>
<text transform="translate(232.26 694.3) scale(0.9573 1)" font-size="17.5">0</text>
<text transform="translate(247.43 693.29) scale(1.2416 1)" font-size="27">−</text>
<text transform="translate(273.42 691) scale(0.9354 1)" font-size="27" class="i">ϕ</text>
<text transform="translate(288.2 694.3) scale(0.9090 1)" font-size="17.5">1</text>
<text transform="translate(298.4 691) scale(1.0000 1)" font-size="28">|</text>
<text transform="translate(304.67 644.09) scale(1.3017 1)" font-size="17.5">−</text>
<text transform="translate(318.01 642.6) scale(1.1546 1)" font-size="17.5">2</text>
<text transform="translate(654.87 652) scale(1.0154 1)" font-size="26.5" class="i">A</text>
<text transform="translate(671.55 655.9) scale(0.9707 1)" font-size="17.5">0</text>
<text transform="translate(687.91 654.25) scale(1.3543 1)" font-size="26.5">=</text>
<text transform="translate(714.42 652) scale(0.9884 1)" font-size="26">0.1</text>
<text transform="translate(654.87 687.5) scale(1.0154 1)" font-size="26.5" class="i">A</text>
<text transform="translate(671.55 691.4) scale(0.9707 1)" font-size="17.5">0</text>
<text transform="translate(687.91 689.75) scale(1.3543 1)" font-size="26.5">=</text>
<text transform="translate(714.41 687.5) scale(1.0041 1)" font-size="26">0.2</text>
<text transform="translate(654.87 723.5) scale(1.0154 1)" font-size="26.5" class="i">A</text>
<text transform="translate(671.55 727.4) scale(0.9707 1)" font-size="17.5">0</text>
<text transform="translate(687.91 725.75) scale(1.3543 1)" font-size="26.5">=</text>
<text transform="translate(714.42 723.5) scale(0.9904 1)" font-size="26">0.5</text>
<text transform="translate(654.87 759.4) scale(1.0154 1)" font-size="26.5" class="i">A</text>
<text transform="translate(671.55 763.3) scale(0.9707 1)" font-size="17.5">0</text>
<text transform="translate(687.91 761.65) scale(1.3543 1)" font-size="26.5">=</text>
<text transform="translate(714.42 759.4) scale(0.9920 1)" font-size="26">0.9</text>
<text transform="translate(654.87 795.1) scale(1.0154 1)" font-size="26.5" class="i">A</text>
<text transform="translate(671.55 799) scale(0.9707 1)" font-size="17.5">0</text>
<text transform="translate(687.91 797.35) scale(1.3543 1)" font-size="26.5">=</text>
<text transform="translate(714.42 795.1) scale(0.9921 1)" font-size="26">0.99</text>
<text transform="translate(845.61 887.5) scale(0.7238 1)" font-size="22.5" class="i" stroke="#000" stroke-width="0.29">ϵ</text>
<text transform="translate(857.79 890.07) scale(1.1588 1)" font-size="25.65" font-family="DejaVu Serif,Liberation Serif,serif">∝</text>
<text transform="translate(885.35 887.5) scale(0.9368 1)" font-size="22.5" class="i">A</text>
<text transform="translate(898.79 893.5) scale(1.0351 1)" font-size="15.5">0</text>
<text transform="translate(900.49 881.12) scale(1.3033 1)" font-size="15.5">−</text>
<text transform="translate(911.33 879.8) scale(0.8613 1)" font-size="15.5">1</text>
<text transform="translate(845.61 922.1) scale(0.7238 1)" font-size="22.5" class="i" stroke="#000" stroke-width="0.29">ϵ</text>
<text transform="translate(857.79 924.67) scale(1.1588 1)" font-size="25.65" font-family="DejaVu Serif,Liberation Serif,serif">∝</text>
<text transform="translate(883.53 922.1) scale(0.6462 1)" font-size="23.5">(</text>
<text transform="translate(890.45 922.1) scale(1.0352 1)" font-size="22.5">1</text>
<text transform="translate(906.28 924.01) scale(1.3563 1)" font-size="22.5">−</text>
<text transform="translate(931.03 922.1) scale(0.9966 1)" font-size="22.5" class="i">A</text>
<text transform="translate(944.99 926.1) scale(1.0351 1)" font-size="15.5">0</text>
<text transform="translate(955.25 922.1) scale(0.7290 1)" font-size="23.5">)</text>
<text transform="translate(845.15 956) scale(1.0000 1)" font-size="23.5">|</text>
<text transform="translate(851.48 956) scale(1.0093 1)" font-size="22.5" class="i">ϕ</text>
<text transform="translate(863.88 959.2) scale(1.0503 1)" font-size="15.5">0</text>
<text transform="translate(877.06 957.91) scale(1.2894 1)" font-size="22.5">−</text>
<text transform="translate(899.57 956) scale(1.0187 1)" font-size="22.5" class="i">ϕ</text>
<text transform="translate(911.75 959.2) scale(0.9163 1)" font-size="15.5">1</text>
<text transform="translate(920.75 956) scale(1.0000 1)" font-size="23.5">|</text>
<text transform="translate(931.21 957.91) scale(1.4231 1)" font-size="22.5">=</text>
<text transform="translate(954.97 956) scale(0.9740 1)" font-size="22.5">0.01</text>
<text transform="translate(845.15 988.8) scale(1.0000 1)" font-size="23.5">|</text>
<text transform="translate(851.48 988.8) scale(1.0093 1)" font-size="22.5" class="i">ϕ</text>
<text transform="translate(863.88 992) scale(1.0503 1)" font-size="15.5">0</text>
<text transform="translate(877.06 990.71) scale(1.2894 1)" font-size="22.5">−</text>
<text transform="translate(899.57 988.8) scale(1.0187 1)" font-size="22.5" class="i">ϕ</text>
<text transform="translate(911.75 992) scale(0.9163 1)" font-size="15.5">1</text>
<text transform="translate(920.75 988.8) scale(1.0000 1)" font-size="23.5">|</text>
<text transform="translate(931.21 990.71) scale(1.4231 1)" font-size="22.5">=</text>
<text transform="translate(954.96 988.8) scale(0.9777 1)" font-size="22.5">0.03</text>
<text transform="translate(845.15 1021.5) scale(1.0000 1)" font-size="23.5">|</text>
<text transform="translate(851.48 1021.5) scale(1.0093 1)" font-size="22.5" class="i">ϕ</text>
<text transform="translate(863.88 1024.7) scale(1.0503 1)" font-size="15.5">0</text>
<text transform="translate(877.06 1023.41) scale(1.2894 1)" font-size="22.5">−</text>
<text transform="translate(899.57 1021.5) scale(1.0187 1)" font-size="22.5" class="i">ϕ</text>
<text transform="translate(911.75 1024.7) scale(0.9163 1)" font-size="15.5">1</text>
<text transform="translate(920.75 1021.5) scale(1.0000 1)" font-size="23.5">|</text>
<text transform="translate(931.21 1023.41) scale(1.4231 1)" font-size="22.5">=</text>
<text transform="translate(954.96 1021.5) scale(0.9777 1)" font-size="22.5">0.05</text>
<text transform="translate(1085.15 988.8) scale(1.0000 1)" font-size="23.5">|</text>
<text transform="translate(1091.48 988.8) scale(1.0093 1)" font-size="22.5" class="i">ϕ</text>
<text transform="translate(1103.88 992) scale(1.0503 1)" font-size="15.5">0</text>
<text transform="translate(1117.06 990.71) scale(1.2894 1)" font-size="22.5">−</text>
<text transform="translate(1139.57 988.8) scale(1.0187 1)" font-size="22.5" class="i">ϕ</text>
<text transform="translate(1151.75 992) scale(0.9163 1)" font-size="15.5">1</text>
<text transform="translate(1160.75 988.8) scale(1.0000 1)" font-size="23.5">|</text>
<text transform="translate(1171.21 990.71) scale(1.4231 1)" font-size="22.5">=</text>
<text transform="translate(1194.98 988.8) scale(0.9531 1)" font-size="22.5">0.1</text>
<text transform="translate(1085.15 1021.5) scale(1.0000 1)" font-size="23.5">|</text>
<text transform="translate(1091.48 1021.5) scale(1.0093 1)" font-size="22.5" class="i">ϕ</text>
<text transform="translate(1103.88 1024.7) scale(1.0503 1)" font-size="15.5">0</text>
<text transform="translate(1117.06 1023.41) scale(1.2894 1)" font-size="22.5">−</text>
<text transform="translate(1139.57 1021.5) scale(1.0187 1)" font-size="22.5" class="i">ϕ</text>
<text transform="translate(1151.75 1024.7) scale(0.9163 1)" font-size="15.5">1</text>
<text transform="translate(1160.75 1021.5) scale(1.0000 1)" font-size="23.5">|</text>
<text transform="translate(1171.21 1023.41) scale(1.4231 1)" font-size="22.5">=</text>
<text transform="translate(1194.97 1021.5) scale(0.9663 1)" font-size="22.5">0.5</text>
</g>
</svg></body></html>
